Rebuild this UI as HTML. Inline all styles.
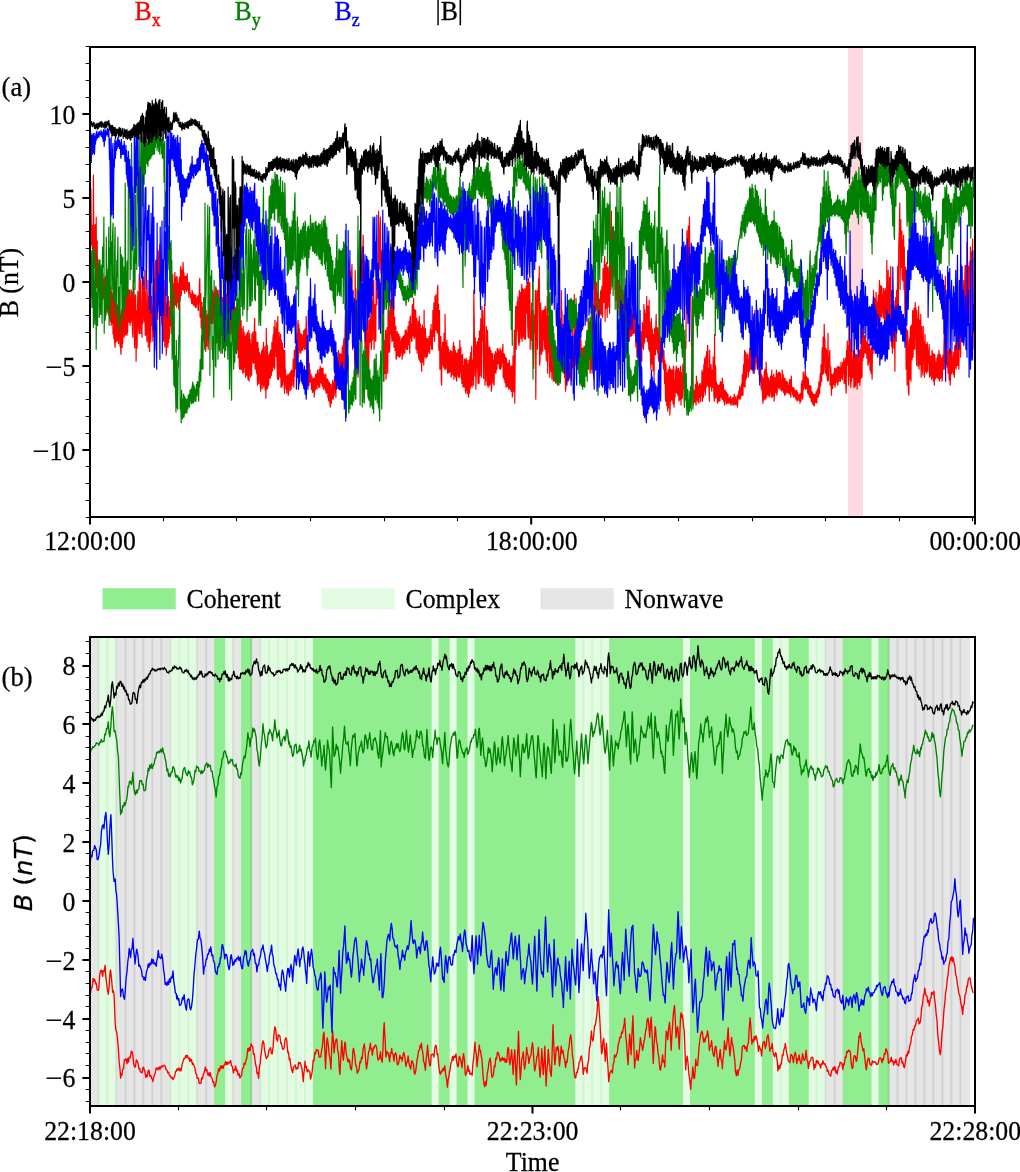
<!DOCTYPE html>
<html><head><meta charset="utf-8"><title>Magnetic field</title>
<style>html,body{margin:0;padding:0;background:#fff}svg{display:block}text{font-family:'Liberation Serif','DejaVu Serif',serif;font-size:25.8px;fill:#000;stroke:#000;stroke-width:0.25px}</style></head><body>
<svg width="1020" height="1172" viewBox="0 0 1020 1172">
<rect width="1020" height="1172" fill="#fff"/>
<defs>
<clipPath id="c1"><rect x="90.0" y="47.0" width="885.0" height="470.0"/></clipPath>
<clipPath id="c2"><rect x="90.0" y="637.0" width="885.0" height="469.0"/></clipPath>
</defs>
<g clip-path="url(#c1)">
<rect x="848" y="47.0" width="15" height="470.0" fill="#ffc0cb" fill-opacity="0.6"/>
<path d="M90.6,216.1 90.9,189.0 91.3,223.1 91.6,244.7 92.0,225.3 92.3,248.4 92.7,235.0 93.0,279.4 93.4,175.2 93.7,224.0 94.1,243.2 94.4,267.7 94.8,236.4 95.1,224.5 95.5,255.8 95.8,289.4 96.2,217.2 96.5,262.1 96.9,287.4 97.2,240.9 97.6,284.8 97.9,259.1 98.3,291.9 98.6,264.0 99.0,264.4 99.3,293.4 99.7,292.4 100.0,279.9 100.4,293.5 100.7,274.6 101.1,296.4 101.4,277.5 101.8,298.2 102.1,275.9 102.5,300.0 102.8,273.2 103.2,298.6 103.5,281.2 103.9,292.0 104.2,278.6 104.6,307.1 104.9,309.3 105.3,276.4 105.6,278.8 106.0,301.0 106.3,282.2 106.7,312.2 107.0,285.3 107.4,306.8 107.7,287.5 108.1,313.5 108.4,282.7 108.8,315.4 109.1,290.7 109.5,316.2 109.8,291.6 110.2,321.6 110.5,289.1 110.9,286.4 111.2,325.3 111.6,319.5 111.9,291.7 112.3,323.4 112.6,296.2 113.0,333.8 113.3,293.0 113.7,334.2 114.0,339.0 114.4,300.8 114.7,343.8 115.1,347.3 115.4,296.4 115.8,306.8 116.1,342.2 116.5,304.3 116.8,340.2 117.2,304.8 117.5,337.5 117.9,341.3 118.2,306.3 118.6,343.4 118.9,308.2 119.3,336.9 119.6,312.7 120.0,345.9 120.3,314.3 120.7,349.8 121.0,354.3 121.4,310.3 121.7,316.6 122.1,347.4 122.4,309.0 122.8,343.4 123.1,310.4 123.5,302.6 123.8,300.4 124.2,337.3 124.5,313.4 124.9,335.2 125.2,296.3 125.6,334.6 125.9,308.1 126.3,294.2 126.6,333.7 127.0,335.3 127.3,282.4 127.7,332.3 128.0,294.9 128.4,320.4 128.7,289.5 129.1,322.3 129.4,293.4 129.8,290.4 130.1,325.3 130.5,298.4 130.8,322.5 131.2,289.8 131.5,319.8 131.9,292.1 132.2,320.9 132.6,334.3 132.9,337.3 133.3,280.4 133.6,293.7 134.0,287.8 134.3,330.5 134.7,347.8 135.0,303.8 135.4,294.9 135.7,296.4 136.1,361.2 136.4,325.5 136.8,310.6 137.1,347.9 137.5,314.0 137.8,291.4 138.2,321.1 138.5,325.0 138.9,333.3 139.2,274.4 139.6,325.6 139.9,333.7 140.3,280.2 140.6,280.4 141.0,310.8 141.3,333.3 141.7,309.4 142.0,337.3 142.4,276.4 142.7,323.3 143.1,281.2 143.4,276.9 143.8,311.4 144.1,321.8 144.5,294.9 144.8,270.4 145.2,335.3 145.5,335.4 145.9,315.4 146.2,290.7 146.6,327.3 146.9,341.6 147.3,320.9 147.6,300.5 148.0,280.4 148.3,347.3 148.7,312.3 149.0,296.7 149.4,325.3 149.7,351.3 150.1,290.4 150.4,293.3 150.8,341.9 151.1,318.3 151.5,296.3 151.8,325.3 152.2,305.6 152.5,325.7 152.9,341.3 153.2,286.4 153.6,336.8 153.9,287.8 154.3,279.3 154.6,320.0 155.0,290.6 155.3,265.5 155.7,260.4 156.0,329.3 156.4,284.0 156.7,259.6 157.1,288.9 157.4,307.6 157.8,319.3 158.1,250.5 158.5,267.6 158.8,305.7 159.2,278.3 159.5,251.5 159.9,244.1 160.2,313.3 160.6,272.4 160.9,264.1 161.3,313.8 161.6,316.4 162.0,325.3 162.3,260.4 162.7,299.1 163.0,323.0 163.4,336.2 163.7,341.3 164.1,280.4 164.4,312.6 164.8,347.0 165.1,317.2 165.5,291.4 165.8,284.4 166.2,355.2 166.5,347.8 166.9,321.8 167.2,302.9 167.6,339.5 167.9,347.3 168.3,296.4 168.6,342.5 169.0,301.3 169.3,338.4 169.7,307.1 170.0,326.0 170.4,308.7 170.7,306.3 171.1,333.3 171.4,324.8 171.8,293.9 172.1,310.2 172.5,283.8 172.8,274.4 173.2,309.3 173.5,305.9 173.9,284.2 174.2,304.4 174.6,280.0 174.9,272.4 175.3,305.3 175.6,300.4 176.0,277.2 176.3,298.8 176.7,307.3 177.0,276.4 177.4,285.8 177.7,302.3 178.1,283.7 178.4,304.4 178.8,309.3 179.1,280.4 179.5,277.0 179.8,301.3 180.2,299.6 180.5,268.5 180.9,266.4 181.2,295.4 181.6,291.1 181.9,270.2 182.3,288.1 182.6,289.4 183.0,262.4 183.3,268.1 183.7,290.4 184.0,272.9 184.4,286.7 184.7,293.4 185.1,276.4 185.4,283.2 185.8,289.5 186.1,276.0 186.5,290.8 186.8,291.4 187.2,273.4 187.5,282.6 187.9,289.6 188.2,282.6 188.6,290.1 188.9,297.4 189.3,282.4 189.6,288.2 190.0,293.4 190.3,292.8 190.7,298.0 191.0,294.4 191.4,301.0 191.7,303.4 192.1,290.4 192.4,292.7 192.8,303.8 193.1,293.0 193.5,305.2 193.8,295.3 194.2,304.9 194.5,296.9 194.9,294.4 195.2,307.3 195.6,307.5 195.9,295.4 196.3,307.2 196.6,298.6 197.0,303.8 197.3,297.9 197.7,296.4 198.0,309.3 198.4,310.7 198.7,295.3 199.1,303.0 199.4,282.5 199.8,278.4 200.1,317.3 200.5,317.2 200.8,293.6 201.2,328.0 201.5,309.2 201.9,302.4 202.2,333.3 202.6,334.6 202.9,307.5 203.3,338.3 203.6,341.3 204.0,306.3 204.3,314.7 204.7,337.4 205.0,310.8 205.4,346.3 205.7,351.3 206.1,310.3 206.4,321.6 206.8,346.3 207.1,316.8 207.5,315.6 207.8,314.3 208.2,349.3 208.5,337.3 208.9,311.1 209.2,336.3 209.6,333.3 209.9,300.4 210.3,301.5 210.6,322.3 211.0,298.6 211.3,323.3 211.7,295.1 212.0,323.5 212.4,296.9 212.7,290.4 213.1,323.3 213.4,292.8 213.8,318.2 214.1,294.9 214.5,318.9 214.8,291.7 215.2,317.5 215.5,288.7 215.9,286.4 216.2,319.3 216.6,289.1 216.9,317.9 217.3,293.2 217.6,320.4 218.0,294.1 218.3,313.2 218.7,325.3 219.0,290.4 219.4,299.2 219.7,326.1 220.1,305.1 220.4,333.1 220.8,303.0 221.1,335.3 221.5,325.8 221.8,306.3 222.2,353.3 222.5,297.4 222.9,318.7 223.2,348.5 223.6,308.7 223.9,281.5 224.3,276.4 224.6,270.4 225.0,349.3 225.3,341.9 225.7,344.9 226.0,325.1 226.4,324.2 226.7,294.4 227.1,334.0 227.4,288.7 227.8,280.4 228.1,341.3 228.5,319.8 228.8,288.5 229.2,288.2 229.5,329.9 229.9,334.7 230.2,291.3 230.6,290.4 230.9,333.3 231.3,293.6 231.6,327.9 232.0,296.2 232.3,336.7 232.7,297.7 233.0,325.5 233.4,333.8 233.7,341.3 234.1,296.4 234.4,303.8 234.8,330.2 235.1,307.1 235.5,346.9 235.8,308.1 236.2,335.3 236.5,353.3 236.9,306.3 237.2,311.0 237.6,349.8 237.9,311.0 238.3,357.8 238.6,315.2 239.0,346.8 239.3,365.4 239.7,369.2 240.0,314.3 240.4,369.0 240.7,339.9 241.1,320.7 241.4,369.5 241.8,328.4 242.1,359.3 242.5,365.3 242.8,373.2 243.2,326.3 243.5,349.2 243.9,372.5 244.2,332.0 244.6,367.5 244.9,336.6 245.3,366.3 245.6,377.2 246.0,334.3 246.3,336.0 246.7,375.1 247.0,337.8 247.4,332.4 247.7,375.8 248.1,379.6 248.4,353.6 248.8,330.3 249.1,381.2 249.5,333.6 249.8,369.8 250.2,339.4 250.5,376.8 250.9,344.1 251.2,372.4 251.6,375.2 251.9,334.3 252.3,333.8 252.6,362.1 253.0,331.8 253.3,363.4 253.7,339.4 254.0,362.6 254.4,324.7 254.7,318.3 255.1,369.2 255.4,335.5 255.8,332.0 256.1,361.5 256.5,373.2 256.8,342.2 257.2,369.6 257.5,385.2 257.9,342.3 258.2,382.0 258.6,348.7 258.9,383.8 259.3,352.4 259.6,378.8 260.0,355.2 260.3,385.0 260.7,391.2 261.0,354.3 261.4,385.4 261.7,350.8 262.1,388.7 262.4,349.0 262.8,384.8 263.1,353.5 263.5,342.3 263.8,387.2 264.2,371.2 264.5,384.7 264.9,346.7 265.2,390.3 265.6,367.8 265.9,398.2 266.3,328.3 266.6,389.3 267.0,359.3 267.3,345.2 267.7,388.3 268.0,356.0 268.4,377.6 268.7,385.2 269.1,354.3 269.4,353.8 269.8,378.2 270.1,351.6 270.5,377.8 270.8,349.8 271.2,367.8 271.5,375.2 271.9,342.3 272.2,350.3 272.6,370.9 272.9,338.9 273.3,334.5 273.6,367.1 274.0,326.8 274.3,353.1 274.7,369.2 275.0,320.3 275.4,349.0 275.7,329.0 276.1,356.6 276.4,337.7 276.8,322.1 277.1,366.6 277.5,379.2 277.8,316.3 278.2,372.0 278.5,379.5 278.9,358.5 279.2,332.3 279.6,365.7 279.9,377.2 280.3,344.8 280.6,334.3 281.0,387.2 281.3,339.9 281.7,379.7 282.0,386.8 282.4,342.9 282.7,384.9 283.1,347.5 283.4,381.5 283.8,350.4 284.1,376.6 284.5,393.2 284.8,350.3 285.2,382.3 285.5,369.6 285.9,388.4 286.2,375.4 286.6,389.3 286.9,393.2 287.3,376.2 287.6,376.6 288.0,374.2 288.3,395.2 288.7,389.8 289.0,375.0 289.4,383.4 289.7,373.6 290.1,390.8 290.4,371.8 290.8,388.1 291.1,389.2 291.5,370.2 291.8,374.2 292.2,385.7 292.5,370.1 292.9,380.4 293.2,359.1 293.6,383.7 293.9,387.2 294.3,350.3 294.6,376.2 295.0,350.2 295.3,369.0 295.7,348.1 296.0,346.3 296.4,369.2 296.7,357.9 297.1,333.5 297.4,357.2 297.8,323.5 298.1,320.3 298.5,357.2 298.8,324.8 299.2,353.0 299.5,329.0 299.9,350.7 300.2,333.0 300.6,350.6 300.9,353.3 301.3,334.3 301.6,334.4 302.0,350.5 302.3,337.7 302.7,349.9 303.0,335.1 303.4,347.7 303.7,331.3 304.1,330.3 304.4,349.3 304.8,346.0 305.1,328.9 305.5,348.7 305.8,349.3 306.2,316.3 306.5,329.3 306.9,364.8 307.2,343.8 307.6,378.1 307.9,385.2 308.3,350.3 308.6,358.6 309.0,385.7 309.3,363.6 309.7,381.8 310.0,369.6 310.4,382.2 310.7,375.4 311.1,374.2 311.4,389.2 311.8,389.6 312.1,376.9 312.5,392.3 312.8,379.1 313.2,392.0 313.5,379.2 313.9,378.2 314.2,397.2 314.6,390.4 314.9,377.7 315.3,389.7 315.6,374.7 316.0,387.5 316.3,374.0 316.7,388.6 317.0,389.2 317.4,370.2 317.7,372.1 318.1,384.5 318.4,375.5 318.8,387.4 319.1,369.5 319.5,385.5 319.8,387.2 320.2,366.2 320.5,371.3 320.9,382.3 321.2,368.4 321.6,384.1 321.9,368.2 322.3,386.2 322.6,372.6 323.0,368.2 323.3,389.2 323.7,385.8 324.0,374.0 324.4,387.7 324.7,378.3 325.1,390.3 325.4,374.9 325.8,374.2 326.1,393.2 326.5,392.6 326.8,378.9 327.2,393.0 327.5,379.0 327.9,397.3 328.2,380.7 328.6,399.8 328.9,401.2 329.3,382.2 329.6,385.4 330.0,403.9 330.3,407.1 330.7,384.2 331.0,385.2 331.4,403.4 331.7,389.4 332.1,398.8 332.4,383.8 332.8,380.2 333.1,399.2 333.5,396.3 333.8,382.3 334.2,395.6 334.5,376.3 334.9,390.0 335.2,376.7 335.6,392.2 335.9,397.2 336.3,370.2 336.6,372.1 337.0,381.4 337.3,357.0 337.7,372.6 338.0,373.2 338.4,350.3 338.7,352.9 339.1,368.8 339.4,353.9 339.8,375.4 340.1,353.9 340.5,375.3 340.8,377.2 341.2,354.3 341.5,355.4 341.9,375.1 342.2,347.6 342.6,370.6 342.9,345.6 343.3,373.9 343.6,342.8 344.0,338.3 344.3,375.2 344.7,353.8 345.0,328.9 345.4,314.1 345.7,300.4 346.1,369.2 346.4,359.5 346.8,328.8 347.1,347.2 347.5,346.4 347.8,311.2 348.2,332.4 348.5,287.6 348.9,260.4 349.2,329.3 349.6,315.8 349.9,271.5 350.3,271.3 350.6,315.0 351.0,288.6 351.3,307.8 351.7,269.6 352.0,264.4 352.4,309.3 352.7,319.3 353.1,329.4 353.4,316.5 353.8,347.1 354.1,330.7 354.5,350.1 354.8,369.2 355.2,270.4 355.5,314.1 355.9,288.5 356.2,318.9 356.6,351.6 356.9,364.1 357.3,328.7 357.6,344.2 358.0,377.2 358.3,290.4 358.7,285.1 359.0,311.4 359.4,336.1 359.7,287.7 360.1,323.5 360.4,264.6 360.8,303.7 361.1,259.7 361.5,289.8 361.8,289.4 362.2,247.1 362.5,281.4 362.9,252.4 363.2,235.1 363.6,279.4 363.9,260.3 364.3,262.5 364.6,313.8 365.0,349.3 365.3,270.4 365.7,357.7 366.0,323.2 366.4,352.1 366.7,364.9 367.1,349.7 367.4,318.5 367.8,320.3 368.1,395.2 368.5,337.3 368.8,368.0 369.2,319.6 369.5,342.5 369.9,319.0 370.2,342.0 370.6,326.5 370.9,310.3 371.3,349.3 371.6,344.7 372.0,307.1 372.3,300.4 372.7,340.1 373.0,298.3 373.4,289.8 373.7,280.4 374.1,349.3 374.4,334.6 374.8,304.4 375.1,330.0 375.5,339.3 375.8,341.3 376.2,270.4 376.5,298.4 376.9,304.7 377.2,265.8 377.6,282.1 377.9,273.6 378.3,273.4 378.6,211.2 379.0,265.4 379.3,269.7 379.7,244.0 380.0,229.3 380.4,217.2 380.7,269.4 381.1,273.6 381.4,263.2 381.8,250.5 382.1,329.3 382.5,322.0 382.8,298.5 383.2,358.4 383.5,370.6 383.9,381.2 384.2,340.3 384.6,345.1 384.9,373.5 385.3,338.1 385.6,330.3 386.0,379.2 386.3,372.0 386.7,340.6 387.0,327.6 387.4,344.8 387.7,373.2 388.1,310.3 388.4,321.5 388.8,310.5 389.1,352.5 389.5,351.8 389.8,349.3 390.2,300.4 390.5,307.5 390.9,334.2 391.2,299.6 391.6,335.0 391.9,341.3 392.3,288.4 392.6,334.6 393.0,340.9 393.3,312.2 393.7,296.4 394.0,347.3 394.4,339.2 394.7,317.4 395.1,350.4 395.4,330.6 395.8,326.3 396.1,359.2 396.5,358.4 396.8,332.7 397.2,331.6 397.5,355.3 397.9,333.5 398.2,356.2 398.6,343.6 398.9,334.3 399.3,357.2 399.6,352.0 400.0,336.8 400.3,356.1 400.7,341.5 401.0,352.7 401.4,342.4 401.7,338.3 402.1,359.2 402.4,354.9 402.8,336.8 403.1,355.3 403.5,336.6 403.8,352.7 404.2,335.0 404.5,351.1 404.9,353.3 405.2,330.3 405.6,335.4 405.9,348.1 406.3,329.9 406.6,349.4 407.0,332.9 407.3,344.8 407.7,349.3 408.0,326.3 408.4,335.8 408.7,344.6 409.1,321.5 409.4,340.0 409.8,353.3 410.1,318.3 410.5,316.2 410.8,337.9 411.2,324.6 411.5,341.1 411.9,341.3 412.2,306.3 412.6,304.5 412.9,336.0 413.3,311.7 413.6,298.4 414.0,337.3 414.3,338.7 414.7,309.7 415.0,336.6 415.4,324.5 415.7,310.3 416.1,349.3 416.4,341.7 416.8,318.0 417.1,353.2 417.5,332.4 417.8,347.5 418.2,321.7 418.5,353.4 418.9,359.2 419.2,316.3 419.6,327.5 419.9,360.8 420.3,323.9 420.6,362.2 421.0,328.4 421.3,360.4 421.7,371.2 422.0,330.3 422.4,325.0 422.7,362.2 423.1,327.8 423.4,346.1 423.8,365.2 424.1,310.3 424.5,356.7 424.8,329.9 425.2,355.5 425.5,328.6 425.9,358.2 426.2,339.8 426.6,338.3 426.9,357.2 427.3,355.7 427.6,338.6 428.0,353.2 428.3,342.0 428.7,351.5 429.0,336.4 429.4,348.7 429.7,353.3 430.1,334.3 430.4,329.5 430.8,344.8 431.1,324.3 431.5,349.2 431.8,331.4 432.2,338.1 432.5,349.3 432.9,310.3 433.2,317.9 433.6,336.3 433.9,302.9 434.3,331.5 434.6,341.3 435.0,296.4 435.3,330.2 435.7,301.0 436.0,294.7 436.4,330.2 436.7,305.6 437.1,332.8 437.4,289.6 437.8,285.4 438.1,333.3 438.5,304.2 438.8,350.2 439.2,310.5 439.5,310.3 439.9,369.2 440.2,340.1 440.6,368.5 440.9,336.4 441.3,381.5 441.6,385.2 442.0,350.3 442.3,347.4 442.7,342.0 443.0,364.8 443.4,343.2 443.7,367.2 444.1,333.2 444.4,359.3 444.8,369.2 445.1,314.3 445.5,362.1 445.8,369.2 446.2,342.8 446.5,367.2 446.9,340.2 447.2,367.5 447.6,373.2 447.9,346.3 448.3,348.6 448.6,372.7 449.0,349.8 449.3,372.5 449.7,352.7 450.0,371.3 450.4,356.9 450.7,350.3 451.1,377.2 451.4,374.3 451.8,351.4 452.1,372.9 452.5,354.9 452.8,375.0 453.2,345.9 453.5,342.3 453.9,379.2 454.2,373.5 454.6,346.4 454.9,375.9 455.3,350.5 455.6,376.7 456.0,353.1 456.3,379.6 456.7,381.2 457.0,354.3 457.4,352.8 457.7,374.8 458.1,349.4 458.4,376.9 458.8,349.6 459.1,367.0 459.5,377.2 459.8,340.3 460.2,355.1 460.5,372.5 460.9,347.5 461.2,378.3 461.6,356.2 461.9,383.5 462.3,356.0 462.6,354.3 463.0,387.2 463.3,383.8 463.7,365.5 464.0,386.5 464.4,359.0 464.7,387.2 465.1,359.8 465.4,391.3 465.8,393.2 466.1,358.2 466.5,367.6 466.8,390.5 467.2,360.4 467.5,393.5 467.9,364.3 468.2,392.7 468.6,397.2 468.9,360.2 469.3,363.5 469.6,393.1 470.0,356.6 470.3,388.1 470.7,352.5 471.0,385.6 471.4,355.3 471.7,346.3 472.1,387.2 472.4,359.8 472.8,379.6 473.1,360.2 473.5,385.2 473.8,290.4 474.2,317.3 474.5,352.0 474.9,376.0 475.2,337.8 475.6,342.3 475.9,389.2 476.3,369.1 476.6,345.1 477.0,368.0 477.3,341.6 477.7,368.2 478.0,383.8 478.4,338.8 478.7,338.3 479.1,383.2 479.4,330.8 479.8,357.2 480.1,375.6 480.5,335.9 480.8,318.6 481.2,347.8 481.5,377.2 481.9,306.3 482.2,320.5 482.6,340.1 482.9,310.6 483.3,349.7 483.6,378.5 484.0,342.9 484.3,325.1 484.7,304.4 485.0,385.2 485.4,365.4 485.7,381.1 486.1,347.2 486.4,326.7 486.8,358.4 487.1,385.2 487.5,330.3 487.8,342.3 488.2,387.2 488.5,349.3 488.9,384.7 489.2,346.8 489.6,385.6 489.9,347.6 490.3,383.9 490.6,353.0 491.0,350.3 491.3,391.2 491.7,387.7 492.0,353.5 492.4,378.6 492.7,353.6 493.1,382.8 493.4,360.4 493.8,384.3 494.1,385.2 494.5,354.3 494.8,358.5 495.2,372.4 495.5,351.7 495.9,373.6 496.2,352.8 496.6,369.8 496.9,369.2 497.3,348.3 497.6,350.3 498.0,363.6 498.3,349.3 498.7,364.1 499.0,352.7 499.4,368.7 499.7,351.3 500.1,348.3 500.4,369.2 500.8,368.9 501.1,350.4 501.5,367.1 501.8,356.6 502.2,362.6 502.5,349.3 502.9,344.3 503.2,377.2 503.6,377.6 503.9,353.7 504.3,379.6 504.6,354.5 505.0,382.7 505.3,357.0 505.7,374.9 506.0,387.2 506.4,358.2 506.7,362.1 507.1,386.6 507.4,364.6 507.8,386.2 508.1,363.2 508.5,386.9 508.8,389.2 509.2,360.2 509.5,364.2 509.9,388.2 510.2,368.5 510.6,389.8 510.9,365.9 511.3,391.4 511.6,368.3 512.0,366.2 512.3,397.2 512.7,395.0 513.0,355.8 513.4,390.6 513.7,391.2 514.1,345.4 514.4,330.3 514.8,403.2 515.1,368.6 515.5,313.5 515.8,306.3 516.2,349.3 516.5,306.3 516.9,331.0 517.2,301.9 517.6,325.8 517.9,296.8 518.3,336.3 518.6,343.2 519.0,345.3 519.3,290.4 519.7,342.1 520.0,293.3 520.4,292.5 520.7,318.5 521.1,338.3 521.4,297.3 521.8,284.4 522.1,341.3 522.5,288.4 522.8,337.1 523.2,290.3 523.5,289.6 523.9,330.4 524.2,338.7 524.6,302.7 524.9,288.4 525.3,339.3 525.6,337.3 526.0,296.0 526.3,285.7 526.7,313.1 527.0,291.0 527.4,282.9 527.7,325.1 528.1,337.3 528.4,278.4 528.8,337.9 529.1,300.1 529.5,284.0 529.8,282.4 530.2,349.3 530.5,323.1 530.9,340.0 531.2,320.3 531.6,303.0 531.9,335.9 532.3,349.8 532.6,315.5 533.0,310.3 533.3,357.2 533.7,368.4 534.0,344.6 534.4,315.0 534.7,332.6 535.1,310.8 535.4,290.4 535.8,399.2 536.1,357.2 536.5,311.6 536.8,290.9 537.2,290.4 537.5,349.3 537.9,314.6 538.2,298.8 538.6,278.7 538.9,294.6 539.3,266.4 539.6,365.2 540.0,360.7 540.3,317.1 540.7,302.8 541.0,345.9 541.4,354.5 541.7,353.3 542.1,310.3 542.4,311.6 542.8,351.1 543.1,325.6 543.5,310.6 543.8,339.7 544.2,309.4 544.5,346.2 544.9,349.3 545.2,306.3 545.6,308.4 545.9,348.2 546.3,360.8 546.6,331.1 547.0,313.1 547.3,296.4 547.7,373.2 548.0,340.3 548.4,315.6 548.7,352.1 549.1,321.4 549.4,359.8 549.8,377.2 550.1,330.3 550.5,336.0 550.8,367.9 551.2,371.7 551.5,347.6 551.9,379.1 552.2,352.6 552.6,350.0 552.9,350.3 553.3,381.2 553.6,378.3 554.0,351.1 554.3,379.8 554.7,354.1 555.0,351.1 555.4,374.7 555.7,383.2 556.1,346.3 556.4,351.3 556.8,347.8 557.1,383.0 557.5,354.5 557.8,381.3 558.2,358.9 558.5,383.0 558.9,385.2 559.2,350.3 559.6,363.1 559.9,318.7 560.3,337.0 560.6,336.5 561.0,333.3 561.3,290.4 561.7,310.4 562.0,312.6 562.4,356.0 562.7,324.6 563.1,330.3 563.4,369.2 563.8,372.7 564.1,345.9 564.5,377.3 564.8,357.7 565.2,360.2 565.5,391.2 565.9,386.9 566.2,361.3 566.6,383.2 566.9,363.6 567.3,379.4 567.6,360.7 568.0,358.2 568.3,381.2 568.7,379.7 569.0,361.9 569.4,378.9 569.7,367.2 570.1,377.5 570.4,360.2 570.8,354.3 571.1,381.2 571.5,372.5 571.8,340.4 572.2,367.7 572.5,328.9 572.9,364.2 573.2,366.5 573.6,345.7 573.9,369.2 574.3,294.4 574.6,354.3 575.0,363.8 575.3,318.4 575.7,321.8 576.0,366.2 576.4,344.7 576.7,330.3 577.1,369.2 577.4,362.8 577.8,332.2 578.1,325.2 578.5,355.7 578.8,357.2 579.2,310.3 579.5,325.3 579.9,359.4 580.2,330.5 580.6,363.4 580.9,339.4 581.3,363.2 581.6,369.2 582.0,348.3 582.3,349.7 582.7,363.2 583.0,348.1 583.4,360.7 583.7,361.2 584.1,346.3 584.4,348.2 584.8,362.5 585.1,350.4 585.5,363.3 585.8,365.2 586.2,348.3 586.5,339.7 586.9,358.6 587.2,333.2 587.6,352.8 587.9,357.2 588.3,318.3 588.6,332.0 589.0,358.8 589.3,337.9 589.7,342.3 590.0,373.2 590.4,369.7 590.7,350.2 591.1,368.6 591.4,354.1 591.8,354.3 592.1,373.2 592.5,355.3 592.8,328.1 593.2,339.4 593.5,305.3 593.9,326.9 594.2,317.3 594.6,276.4 594.9,277.9 595.3,311.2 595.6,284.8 596.0,310.0 596.3,286.5 596.7,282.4 597.0,313.3 597.4,302.3 597.7,292.3 598.1,308.5 598.4,297.6 598.8,298.4 599.1,317.3 599.5,314.2 599.8,299.5 600.2,313.9 600.5,293.2 600.9,290.4 601.2,315.3 601.6,308.0 601.9,286.3 602.3,307.3 602.6,317.3 603.0,268.4 603.3,271.4 603.7,302.5 604.0,283.5 604.4,260.5 604.7,256.4 605.1,321.3 605.4,264.7 605.8,303.6 606.1,308.2 606.5,271.5 606.8,262.4 607.2,317.3 607.5,267.4 607.9,292.3 608.2,307.1 608.6,281.9 608.9,266.9 609.3,266.4 609.6,313.3 610.0,270.4 610.3,293.7 610.7,260.6 611.0,289.4 611.4,211.2 611.7,255.0 612.1,272.1 612.4,237.7 612.8,227.1 613.1,269.4 613.5,269.3 613.8,276.7 614.2,234.8 614.5,231.9 614.9,231.1 615.2,289.4 615.6,283.7 615.9,300.4 616.3,266.4 616.6,270.4 617.0,309.3 617.3,300.8 617.7,291.8 618.0,308.4 618.4,280.0 618.7,280.4 619.1,315.3 619.4,311.4 619.8,285.3 620.1,313.8 620.5,286.1 620.8,286.4 621.2,321.3 621.5,316.8 621.9,290.7 622.2,316.5 622.6,319.3 622.9,290.4 623.3,299.7 623.6,324.5 624.0,295.2 624.3,320.4 624.7,341.3 625.0,292.4 625.4,342.4 625.7,301.6 626.1,340.7 626.4,309.2 626.8,346.1 627.1,349.3 627.5,310.3 627.8,322.0 628.2,340.0 628.5,323.1 628.9,340.3 629.2,341.3 629.6,320.3 629.9,320.1 630.3,336.2 630.6,314.7 631.0,336.3 631.3,315.7 631.7,308.3 632.0,335.3 632.4,331.7 632.7,314.1 633.1,333.1 633.4,314.4 633.8,327.5 634.1,333.3 634.5,316.3 634.8,324.7 635.2,333.5 635.5,328.9 635.9,346.8 636.2,331.8 636.6,334.3 636.9,357.2 637.3,356.6 637.6,339.6 638.0,354.7 638.3,341.0 638.7,361.5 639.0,342.0 639.4,360.0 639.7,365.2 640.1,342.3 640.4,339.5 640.8,359.1 641.1,331.9 641.5,351.5 641.8,361.2 642.2,322.3 642.5,323.8 642.9,346.6 643.2,345.5 643.6,349.3 643.9,304.4 644.3,320.2 644.6,342.8 645.0,309.9 645.3,337.3 645.7,313.6 646.0,330.2 646.4,337.3 646.7,296.4 647.1,314.9 647.4,341.8 647.8,317.6 648.1,306.2 648.5,338.6 648.8,349.3 649.2,300.4 649.5,350.9 649.9,322.2 650.2,348.6 650.6,362.8 650.9,369.2 651.3,318.3 651.6,326.7 652.0,364.0 652.3,329.1 652.7,356.8 653.0,371.0 653.4,334.4 653.7,334.3 654.1,377.2 654.4,328.9 654.8,354.5 655.1,328.1 655.5,355.0 655.8,325.8 656.2,314.3 656.5,349.3 656.9,346.1 657.2,327.7 657.6,353.0 657.9,328.0 658.3,358.4 658.6,361.2 659.0,330.3 659.3,333.9 659.7,359.9 660.0,336.6 660.4,356.3 660.7,339.0 661.1,338.3 661.4,361.2 661.8,362.0 662.1,346.5 662.5,362.0 662.8,348.1 663.2,362.6 663.5,369.2 663.9,350.3 664.2,362.2 664.6,383.4 664.9,360.9 665.3,386.7 665.6,401.2 666.0,364.2 666.3,377.6 666.7,405.3 667.0,372.8 667.4,403.7 667.7,411.1 668.1,370.2 668.4,408.1 668.8,376.0 669.1,370.3 669.5,366.2 669.8,415.1 670.2,408.0 670.5,369.0 670.9,401.5 671.2,372.5 671.6,370.2 671.9,399.2 672.3,400.1 672.6,370.1 673.0,403.7 673.3,368.4 673.7,366.2 674.0,407.1 674.4,399.7 674.7,379.5 675.1,397.0 675.4,370.4 675.8,392.5 676.1,367.4 676.5,366.2 676.8,393.2 677.2,392.4 677.5,368.8 677.9,395.6 678.2,371.1 678.6,368.2 678.9,401.2 679.3,394.4 679.6,371.4 680.0,399.7 680.3,370.1 680.7,366.2 681.0,405.1 681.4,372.5 681.7,396.5 682.1,398.7 682.4,397.2 682.8,364.2 683.1,368.7 683.5,389.0 683.8,366.2 684.2,396.8 684.5,407.1 684.9,366.2 685.2,341.4 685.6,348.8 685.9,347.6 686.3,298.2 686.6,257.4 687.0,230.5 687.3,309.3 687.7,292.2 688.0,253.6 688.4,226.1 688.7,270.2 689.1,271.4 689.4,217.2 689.8,252.8 690.1,293.7 690.5,278.0 690.8,296.4 691.2,325.3 691.5,345.9 691.9,339.6 692.2,374.9 692.6,373.5 692.9,390.2 693.3,405.1 693.6,402.7 694.0,390.1 694.3,402.6 694.7,391.5 695.0,401.5 695.4,384.5 695.7,401.5 696.1,405.1 696.4,376.2 696.8,383.9 697.1,400.0 697.5,382.2 697.8,401.3 698.2,386.0 698.5,401.4 698.9,403.2 699.2,386.2 699.6,383.9 699.9,397.5 700.3,383.6 700.6,401.6 701.0,386.2 701.3,395.3 701.7,384.1 702.0,370.2 702.4,401.2 702.7,392.7 703.1,372.2 703.4,397.5 703.8,364.8 704.1,390.9 704.5,362.2 704.8,358.2 705.2,395.2 705.5,390.9 705.9,356.0 706.2,387.8 706.6,351.6 706.9,378.9 707.3,385.2 707.6,345.3 708.0,350.9 708.3,386.8 708.7,368.4 709.0,387.0 709.4,401.2 709.7,350.3 710.1,386.8 710.4,365.1 710.8,385.7 711.1,364.5 711.5,386.9 711.8,391.2 712.2,370.2 712.5,375.2 712.9,387.4 713.2,356.9 713.6,381.2 713.9,395.3 714.3,401.2 714.6,334.3 715.0,398.5 715.3,365.3 715.7,368.2 716.0,397.4 716.4,381.5 716.7,392.8 717.1,384.2 717.4,403.2 717.8,385.4 718.1,402.0 718.5,385.5 718.8,400.7 719.2,385.0 719.5,400.2 719.9,401.2 720.2,382.2 720.6,381.6 720.9,397.2 721.3,383.2 721.6,394.5 722.0,399.2 722.3,378.2 722.7,381.8 723.0,399.3 723.4,384.7 723.7,401.5 724.1,389.8 724.4,401.8 724.8,405.1 725.1,390.2 725.5,392.5 725.8,400.9 726.2,392.2 726.5,403.8 726.9,393.1 727.2,403.1 727.6,394.8 727.9,394.2 728.3,403.2 728.6,399.6 729.0,398.1 729.3,402.1 729.7,397.6 730.0,403.6 730.4,398.0 730.7,396.2 731.1,405.1 731.4,402.4 731.8,399.3 732.1,400.7 732.5,397.9 732.8,404.6 733.2,397.6 733.5,401.8 733.9,405.1 734.2,394.2 734.6,396.5 734.9,403.9 735.3,396.8 735.6,404.7 736.0,400.5 736.3,404.4 736.7,399.2 737.0,396.2 737.4,407.1 737.7,403.5 738.1,394.3 738.4,398.9 738.8,390.8 739.1,398.9 739.5,392.0 739.8,386.2 740.2,399.2 740.5,397.4 740.9,387.6 741.2,395.5 741.6,383.6 741.9,395.7 742.3,374.4 742.6,393.7 743.0,395.2 743.3,370.2 743.7,364.4 744.0,386.4 744.4,358.3 744.7,350.3 745.1,387.2 745.4,352.1 745.8,379.8 746.1,353.3 746.5,378.0 746.8,362.0 747.2,371.1 747.5,354.9 747.9,354.3 748.2,377.2 748.6,372.0 748.9,359.0 749.3,371.4 749.6,348.7 750.0,367.8 750.3,369.2 750.7,343.3 751.0,345.5 751.4,368.9 751.7,350.9 752.1,370.2 752.4,359.6 752.8,350.3 753.1,373.2 753.5,368.9 753.8,340.5 754.2,365.5 754.5,325.5 754.9,310.3 755.2,369.2 755.6,333.1 755.9,335.1 756.3,362.7 756.6,346.8 757.0,365.8 757.3,369.2 757.7,354.3 758.0,358.2 758.4,367.6 758.7,358.0 759.1,374.4 759.4,360.9 759.8,360.2 760.1,381.2 760.5,381.8 760.8,369.3 761.2,388.4 761.5,374.9 761.9,390.4 762.2,376.2 762.6,399.8 762.9,403.2 763.3,378.2 763.6,384.1 764.0,400.1 764.3,371.3 764.7,398.6 765.0,369.2 765.4,397.5 765.7,399.2 766.1,362.2 766.4,369.5 766.8,397.2 767.1,373.2 767.5,394.4 767.8,377.4 768.2,395.3 768.5,382.4 768.9,378.2 769.2,397.2 769.6,390.8 769.9,381.2 770.3,391.9 770.6,376.0 771.0,395.7 771.3,397.2 771.7,370.2 772.0,383.6 772.4,396.9 772.7,376.5 773.1,395.4 773.4,376.6 773.8,374.2 774.1,401.2 774.5,394.8 774.8,377.5 775.2,392.2 775.5,378.7 775.9,392.9 776.2,372.9 776.6,370.2 776.9,395.2 777.3,390.6 777.6,373.6 778.0,387.1 778.3,374.7 778.7,372.2 779.0,389.2 779.4,387.8 779.7,372.3 780.1,386.8 780.4,373.6 780.8,389.7 781.1,379.7 781.5,384.9 781.8,391.2 782.2,370.2 782.5,376.9 782.9,390.1 783.2,374.7 783.6,392.4 783.9,378.3 784.3,388.2 784.6,395.2 785.0,378.2 785.3,381.1 785.7,394.2 786.0,382.5 786.4,392.3 786.7,381.1 787.1,392.2 787.4,382.4 787.8,382.2 788.1,393.2 788.5,392.4 788.8,385.5 789.2,393.1 789.5,379.8 789.9,394.4 790.2,379.7 790.6,394.6 790.9,397.2 791.3,376.2 791.6,386.4 792.0,391.2 792.3,389.0 792.7,395.0 793.0,387.3 793.4,395.9 793.7,397.2 794.1,388.2 794.4,391.3 794.8,396.5 795.1,391.3 795.5,398.0 795.8,390.6 796.2,399.7 796.5,393.4 796.9,390.2 797.2,401.2 797.6,398.1 797.9,392.9 798.3,399.0 798.6,397.0 799.0,400.4 799.3,395.0 799.7,394.2 800.0,403.2 800.4,399.2 800.7,393.0 801.1,400.8 801.4,383.8 801.8,397.1 802.1,380.7 802.5,396.8 802.8,399.2 803.2,372.2 803.5,374.9 803.9,389.2 804.2,378.8 804.6,386.8 804.9,372.7 805.3,370.2 805.6,389.2 806.0,382.2 806.3,376.4 806.7,388.6 807.0,377.5 807.4,387.2 807.7,393.2 808.1,378.2 808.4,381.2 808.8,394.7 809.1,385.8 809.5,396.6 809.8,385.3 810.2,397.8 810.5,386.8 810.9,386.2 811.2,401.2 811.6,401.4 811.9,391.5 812.3,402.9 812.6,392.9 813.0,404.5 813.3,395.9 813.7,394.2 814.0,406.1 814.4,405.3 814.7,394.3 815.1,402.3 815.4,395.1 815.8,402.3 816.1,391.8 816.5,401.7 816.8,403.2 817.2,390.2 817.5,389.6 817.9,397.4 818.2,387.3 818.6,396.3 818.9,381.8 819.3,393.8 819.6,393.2 820.0,378.2 820.3,373.5 820.7,385.8 821.0,364.8 821.4,379.8 821.7,381.2 822.1,350.3 822.4,347.4 822.8,374.3 823.1,337.2 823.5,369.2 823.8,373.2 824.2,324.3 824.5,340.2 824.9,339.1 825.2,367.7 825.6,373.2 825.9,348.3 826.3,351.4 826.6,375.2 827.0,350.4 827.3,379.2 827.7,381.2 828.0,333.3 828.4,380.4 828.7,357.6 829.1,366.8 829.4,357.0 829.8,350.3 830.1,385.2 830.5,384.9 830.8,366.9 831.2,386.8 831.5,395.2 831.9,374.2 832.2,376.4 832.6,388.5 832.9,375.2 833.3,382.0 833.6,373.7 834.0,384.7 834.3,371.6 834.7,368.2 835.0,387.2 835.4,382.7 835.7,368.7 836.1,378.7 836.4,369.5 836.8,382.7 837.1,367.0 837.5,383.1 837.8,385.2 838.2,366.2 838.5,369.9 838.9,381.6 839.2,366.8 839.6,378.4 839.9,367.5 840.3,381.2 840.6,381.2 841.0,362.2 841.3,368.2 841.7,378.0 842.0,366.6 842.4,379.6 842.7,362.6 843.1,373.6 843.4,369.6 843.8,358.2 844.1,383.2 844.5,381.4 844.8,361.2 845.2,383.9 845.5,358.2 845.9,389.1 846.2,393.2 846.6,350.3 846.9,355.7 847.3,340.9 847.6,365.2 848.0,345.5 848.3,376.7 848.7,385.2 849.0,326.3 849.4,355.2 849.7,376.5 850.1,339.2 850.4,379.3 850.8,387.2 851.1,342.3 851.5,381.1 851.8,351.2 852.2,377.2 852.5,359.1 852.9,377.7 853.2,363.1 853.6,350.3 853.9,387.2 854.3,387.2 854.6,353.2 855.0,387.0 855.3,354.4 855.7,385.5 856.0,359.1 856.4,355.7 856.7,354.3 857.1,389.2 857.4,377.6 857.8,355.7 858.1,382.6 858.5,359.6 858.8,382.0 859.2,358.6 859.5,350.3 859.9,385.2 860.2,376.3 860.6,349.2 860.9,378.5 861.3,343.4 861.6,334.3 862.0,377.2 862.3,332.8 862.7,360.8 863.0,330.6 863.4,324.3 863.7,357.2 864.1,351.7 864.4,335.6 864.8,352.6 865.1,337.0 865.5,338.3 865.8,353.3 866.2,353.6 866.5,341.7 866.9,358.4 867.2,345.2 867.6,342.3 867.9,365.2 868.3,364.1 868.6,344.2 869.0,362.0 869.3,344.6 869.7,344.3 870.0,369.2 870.4,370.8 870.7,350.0 871.1,373.4 871.4,348.0 871.8,367.8 872.1,379.2 872.5,346.3 872.8,332.0 873.2,321.3 873.5,290.4 873.9,353.3 874.2,297.7 874.6,341.6 874.9,298.8 875.3,328.6 875.6,333.3 876.0,292.4 876.3,300.9 876.7,324.7 877.0,302.0 877.4,326.0 877.7,325.3 878.1,298.4 878.4,295.2 878.8,320.0 879.1,297.3 879.5,280.4 879.8,321.3 880.2,317.6 880.5,285.5 880.9,316.2 881.2,288.4 881.6,286.4 881.9,317.3 882.3,311.5 882.6,294.2 883.0,312.1 883.3,288.3 883.7,318.1 884.0,291.4 884.4,318.0 884.7,321.3 885.1,288.4 885.4,289.9 885.8,322.7 886.1,324.9 886.5,329.3 886.8,260.4 887.2,314.9 887.5,322.2 887.9,294.5 888.2,270.4 888.6,325.3 888.9,325.6 889.3,305.9 889.6,277.1 890.0,300.0 890.3,333.3 890.7,266.4 891.0,293.3 891.4,334.2 891.7,346.6 892.1,323.1 892.4,353.3 892.8,290.4 893.1,305.6 893.5,327.1 893.8,348.1 894.2,330.4 894.5,306.3 894.9,371.2 895.2,313.3 895.6,297.5 895.9,316.3 896.3,341.3 896.6,290.4 897.0,316.1 897.3,322.8 897.7,266.3 898.0,312.7 898.4,309.3 898.7,247.1 899.1,237.1 899.4,227.0 899.8,203.2 900.1,289.4 900.5,246.0 900.8,219.5 901.2,267.5 901.5,233.2 901.9,231.1 902.2,279.4 902.6,240.2 902.9,281.0 903.3,243.5 903.6,235.1 904.0,289.4 904.3,247.0 904.7,291.0 905.0,319.6 905.4,311.2 905.7,267.1 906.1,369.2 906.4,328.6 906.8,359.0 907.1,385.2 907.5,330.3 907.8,337.1 908.2,366.7 908.5,392.7 908.9,395.2 909.2,342.3 909.6,338.6 909.9,379.1 910.3,332.9 910.6,326.3 911.0,381.2 911.3,330.3 911.7,324.9 912.0,359.9 912.4,330.3 912.7,310.3 913.1,357.2 913.4,312.2 913.8,349.0 914.1,308.2 914.5,349.1 914.8,349.3 915.2,302.4 915.5,318.1 915.9,307.6 916.2,346.3 916.6,365.2 916.9,310.3 917.3,331.0 917.6,318.6 918.0,366.2 918.3,337.0 918.7,306.3 919.0,369.2 919.4,353.2 919.7,320.2 920.1,364.3 920.4,337.5 920.8,314.3 921.1,377.2 921.5,364.4 921.8,326.5 922.2,360.0 922.5,368.7 922.9,375.2 923.2,326.3 923.6,355.2 923.9,341.6 924.3,366.7 924.6,377.2 925.0,334.3 925.3,349.3 925.7,371.3 926.0,344.6 926.4,371.3 926.7,373.2 927.1,342.3 927.4,345.3 927.8,371.2 928.1,351.6 928.5,363.4 928.8,350.0 929.2,344.3 929.5,377.2 929.9,375.9 930.2,355.8 930.6,375.2 930.9,356.3 931.3,374.5 931.6,379.2 932.0,350.3 932.3,352.9 932.7,377.6 933.0,353.5 933.4,381.0 933.7,354.2 934.1,381.8 934.4,385.2 934.8,354.3 935.1,361.8 935.5,379.0 935.8,362.0 936.2,377.2 936.5,377.2 936.9,358.2 937.2,357.7 937.6,377.7 937.9,354.7 938.3,378.6 938.6,359.8 939.0,350.3 939.3,381.2 939.7,378.0 940.0,354.2 940.4,378.5 940.7,356.2 941.1,377.9 941.4,360.6 941.8,358.2 942.1,381.2 942.5,374.1 942.8,355.2 943.2,367.4 943.5,369.2 943.9,350.3 944.2,333.0 944.6,345.4 944.9,369.2 945.3,276.4 945.6,315.7 946.0,312.6 946.3,352.0 946.7,332.6 947.0,367.1 947.4,354.9 947.7,350.3 948.1,373.2 948.4,373.3 948.8,350.4 949.1,379.9 949.5,350.3 949.8,348.3 950.2,385.2 950.5,378.2 950.9,350.6 951.2,373.9 951.6,373.2 951.9,350.3 952.3,357.1 952.6,371.6 953.0,357.9 953.3,374.2 953.7,352.4 954.0,373.5 954.4,377.2 954.7,346.3 955.1,345.2 955.4,367.3 955.8,366.2 956.1,369.2 956.5,326.3 956.8,336.0 957.2,365.6 957.5,338.9 957.9,365.5 958.2,344.2 958.6,342.3 958.9,369.2 959.3,344.7 959.6,305.6 960.0,309.7 960.3,335.6 960.7,357.2 961.0,264.4 961.4,296.7 961.7,334.7 962.1,338.8 962.4,314.3 962.8,290.4 963.1,341.3 963.5,291.7 963.8,280.6 964.2,315.6 964.5,321.3 964.9,270.4 965.2,265.5 965.6,295.9 965.9,265.3 966.3,287.1 966.6,309.3 967.0,242.5 967.3,293.2 967.7,262.0 968.0,313.0 968.4,275.2 968.7,266.4 969.1,321.3 969.4,278.2 969.8,261.5 970.1,279.3 970.5,247.1 970.8,329.3 971.2,279.6 971.5,255.6 971.9,251.4 972.2,263.3 972.6,239.1 972.9,349.3 973.3,323.0 973.6,332.8 974.0,303.6" fill="none" stroke="#ff0000" stroke-width="1.2" stroke-linejoin="round"/>
<path d="M90.6,298.2 90.9,280.5 91.3,250.8 91.6,281.4 92.0,307.5 92.3,274.8 92.7,263.5 93.0,247.1 93.4,327.3 93.7,249.5 94.1,267.7 94.4,297.7 94.8,324.2 95.1,300.6 95.5,280.6 95.8,250.5 96.2,349.3 96.5,309.3 96.9,292.0 97.2,323.6 97.6,325.7 97.9,276.9 98.3,263.7 98.6,288.6 99.0,260.4 99.3,317.3 99.7,265.0 100.0,259.9 100.4,294.4 100.7,314.4 101.1,277.7 101.4,265.0 101.8,301.7 102.1,323.3 102.5,247.1 102.8,267.4 103.2,246.7 103.5,260.9 103.9,217.2 104.2,333.3 104.6,285.3 104.9,310.1 105.3,320.1 105.6,298.5 106.0,315.3 106.3,237.1 106.7,301.8 107.0,269.1 107.4,306.0 107.7,309.7 108.1,289.5 108.4,259.4 108.8,227.1 109.1,325.3 109.5,247.8 109.8,255.7 110.2,319.3 110.5,187.2 110.9,263.7 111.2,241.4 111.6,259.3 111.9,289.9 112.3,252.7 112.6,234.5 113.0,223.1 113.3,299.4 113.7,293.5 114.0,302.7 114.4,282.3 114.7,247.3 115.1,227.1 115.4,315.3 115.8,280.0 116.1,316.9 116.5,288.7 116.8,260.1 117.2,276.6 117.5,263.6 117.9,237.1 118.2,325.3 118.6,297.2 118.9,317.4 119.3,287.2 119.6,319.4 120.0,333.3 120.3,247.1 120.7,283.4 121.0,264.0 121.4,254.5 121.7,281.5 122.1,310.4 122.4,262.8 122.8,257.1 123.1,319.3 123.5,315.9 123.8,287.6 124.2,266.9 124.5,267.7 124.9,309.3 125.2,183.2 125.6,280.6 125.9,295.9 126.3,298.7 126.6,283.9 127.0,261.5 127.3,274.7 127.7,260.3 128.0,295.4 128.4,181.2 128.7,197.8 129.1,184.4 129.4,172.3 129.8,167.3 130.1,279.4 130.5,200.4 130.8,208.7 131.2,269.4 131.5,143.3 131.9,176.8 132.2,200.3 132.6,223.1 132.9,187.2 133.3,295.4 133.6,279.5 134.0,281.3 134.3,262.2 134.7,247.9 135.0,289.4 135.4,195.2 135.7,261.7 136.1,263.2 136.4,228.4 136.8,269.4 137.1,167.3 137.5,159.7 137.8,176.2 138.2,198.8 138.5,206.7 138.9,266.1 139.2,137.3 139.6,244.3 139.9,216.2 140.3,191.7 140.6,167.2 141.0,135.3 141.3,246.1 141.7,140.6 142.0,163.8 142.4,177.2 142.7,206.2 143.1,137.3 143.4,145.3 143.8,138.2 144.1,184.3 144.5,139.5 144.8,135.3 145.2,174.2 145.5,170.2 145.9,141.8 146.2,162.2 146.6,140.6 146.9,163.8 147.3,143.9 147.6,160.1 148.0,166.3 148.3,137.3 148.7,139.0 149.0,160.6 149.4,138.0 149.7,159.1 150.1,136.5 150.4,155.4 150.8,158.3 151.1,135.3 151.5,139.0 151.8,155.9 152.2,135.1 152.5,154.6 152.9,141.4 153.2,154.1 153.6,138.5 153.9,133.3 154.3,154.3 154.6,153.1 155.0,134.3 155.3,147.4 155.7,132.8 156.0,142.8 156.4,135.0 156.7,131.3 157.1,150.3 157.4,144.6 157.8,139.8 158.1,147.2 158.5,135.6 158.8,151.7 159.2,138.5 159.5,148.9 159.9,154.3 160.2,133.3 160.6,139.9 160.9,146.3 161.3,138.8 161.6,153.7 162.0,140.0 162.3,157.4 162.7,158.3 163.0,137.3 163.4,147.9 163.7,143.6 164.1,182.3 164.4,154.6 164.8,141.3 165.1,226.1 165.5,227.1 165.8,191.9 166.2,221.3 166.5,201.6 166.9,207.2 167.2,249.5 167.6,217.2 167.9,248.0 168.3,225.9 168.6,260.8 169.0,269.4 169.3,227.1 169.7,282.0 170.0,242.9 170.4,285.6 170.7,319.3 171.1,240.5 171.4,287.6 171.8,260.4 172.1,359.2 172.5,326.8 172.8,309.9 173.2,344.2 173.5,358.5 173.9,385.2 174.2,290.4 174.6,386.9 174.9,356.5 175.3,355.8 175.6,393.9 176.0,412.1 176.3,340.3 176.7,362.8 177.0,407.7 177.4,407.3 177.7,409.1 178.1,360.2 178.4,367.0 178.8,335.3 179.1,344.7 179.5,311.4 179.8,296.4 180.2,409.1 180.5,398.2 180.9,409.5 181.2,422.7 181.6,390.2 181.9,394.7 182.3,418.7 182.6,399.9 183.0,417.5 183.3,401.2 183.7,394.2 184.0,417.1 184.4,410.8 184.7,396.7 185.1,413.6 185.4,398.6 185.8,412.2 186.1,399.1 186.5,412.5 186.8,413.1 187.2,400.2 187.5,399.1 187.9,409.1 188.2,395.8 188.6,406.2 188.9,394.3 189.3,406.9 189.6,407.1 190.0,390.2 190.3,393.5 190.7,401.2 191.0,389.7 191.4,403.7 191.7,387.9 192.1,402.8 192.4,384.5 192.8,382.2 193.1,403.2 193.5,401.8 193.8,385.0 194.2,398.5 194.5,387.4 194.9,401.4 195.2,389.5 195.6,398.8 195.9,401.2 196.3,386.2 196.6,384.3 197.0,395.9 197.3,381.7 197.7,391.6 198.0,381.9 198.4,394.9 198.7,401.2 199.1,376.2 199.4,371.9 199.8,386.8 200.1,359.7 200.5,381.1 200.8,381.2 201.2,350.3 201.5,335.1 201.9,368.9 202.2,324.0 202.6,354.7 202.9,369.2 203.3,310.3 203.6,297.5 204.0,310.6 204.3,312.1 204.7,349.3 205.0,203.2 205.4,316.6 205.7,301.9 206.1,290.5 206.4,269.6 206.8,255.6 207.1,241.3 207.5,228.8 207.8,205.2 208.2,341.3 208.5,235.5 208.9,257.7 209.2,240.3 209.6,207.2 209.9,375.2 210.3,276.1 210.6,305.8 211.0,295.9 211.3,280.6 211.7,270.4 212.0,349.3 212.4,347.0 212.7,359.2 213.1,336.7 213.4,367.2 213.8,397.2 214.1,280.4 214.5,321.7 214.8,304.6 215.2,331.0 215.5,365.7 215.9,367.2 216.2,296.4 216.6,342.9 216.9,320.1 217.3,298.1 217.6,290.4 218.0,359.2 218.3,314.9 218.7,298.1 219.0,332.8 219.4,350.8 219.7,307.5 220.1,297.3 220.4,328.8 220.8,353.3 221.1,280.4 221.5,305.2 221.8,329.0 222.2,302.2 222.5,352.3 222.9,309.9 223.2,330.1 223.6,348.3 223.9,322.6 224.3,344.6 224.6,357.2 225.0,300.4 225.3,324.8 225.7,350.6 226.0,315.4 226.4,304.7 226.7,345.7 227.1,303.3 227.4,334.5 227.8,359.2 228.1,290.4 228.5,310.1 228.8,307.5 229.2,354.5 229.5,389.2 229.9,314.3 230.2,359.0 230.6,342.5 230.9,366.0 231.3,388.5 231.6,400.2 232.0,310.3 232.3,327.5 232.7,309.0 233.0,338.5 233.4,349.7 233.7,369.2 234.1,290.4 234.4,355.3 234.8,362.2 235.1,340.9 235.5,313.1 235.8,346.0 236.2,353.1 236.5,353.3 236.9,260.4 237.2,344.1 237.6,327.2 237.9,298.8 238.3,318.5 238.6,329.7 239.0,302.9 239.3,269.4 239.7,250.5 240.0,321.3 240.4,292.5 240.7,251.8 241.1,248.1 241.4,279.0 241.8,306.7 242.1,273.8 242.5,280.2 242.8,315.3 243.2,227.1 243.5,272.0 243.9,288.1 244.2,309.3 244.6,285.6 244.9,271.3 245.3,259.3 245.6,236.8 246.0,229.0 246.3,253.3 246.7,223.1 247.0,321.3 247.4,281.7 247.7,310.0 248.1,279.0 248.4,244.4 248.8,229.4 249.1,267.1 249.5,293.5 249.8,306.4 250.2,265.2 250.5,227.1 250.9,305.3 251.2,252.8 251.6,244.7 251.9,262.9 252.3,301.0 252.6,260.0 253.0,276.0 253.3,258.0 253.7,239.6 254.0,269.6 254.4,273.4 254.7,299.4 255.1,231.1 255.4,300.7 255.8,269.4 256.1,277.2 256.5,252.2 256.8,251.0 257.2,275.8 257.5,285.2 257.9,267.0 258.2,249.6 258.6,250.5 258.9,325.3 259.3,288.5 259.6,272.3 260.0,271.6 260.3,320.3 260.7,325.3 261.0,270.4 261.4,283.3 261.7,310.2 262.1,288.0 262.4,254.1 262.8,232.2 263.1,212.0 263.5,187.2 263.8,289.4 264.2,261.9 264.5,251.7 264.9,254.8 265.2,279.5 265.6,305.3 265.9,237.1 266.3,280.3 266.6,283.9 267.0,257.0 267.3,226.2 267.7,263.3 268.0,219.1 268.4,251.5 268.7,249.5 269.1,199.2 269.4,195.8 269.8,233.3 270.1,199.8 270.5,219.1 270.8,186.1 271.2,212.5 271.5,218.2 271.9,179.2 272.2,213.3 272.6,184.9 272.9,212.7 273.3,179.2 273.6,210.3 274.0,181.7 274.3,219.3 274.7,220.2 275.0,172.3 275.4,184.0 275.7,177.5 276.1,209.0 276.4,174.6 276.8,207.9 277.1,178.8 277.5,175.2 277.8,222.1 278.2,180.0 278.5,215.7 278.9,186.0 279.2,222.8 279.6,188.5 279.9,215.3 280.3,179.9 280.6,177.2 281.0,226.1 281.3,222.5 281.7,228.7 282.0,192.6 282.4,221.5 282.7,181.0 283.1,231.9 283.4,192.5 283.8,232.5 284.1,213.4 284.5,239.5 284.8,183.2 285.2,196.5 285.5,244.5 285.9,256.9 286.2,237.8 286.6,218.2 286.9,219.2 287.3,275.4 287.6,228.1 288.0,223.1 288.3,273.4 288.7,240.3 289.0,270.3 289.4,235.7 289.7,226.7 290.1,251.9 290.4,268.8 290.8,238.0 291.1,227.1 291.5,269.4 291.8,261.9 292.2,220.6 292.5,240.0 292.9,265.4 293.2,211.2 293.6,255.1 293.9,260.0 294.3,223.3 294.6,200.4 295.0,192.8 295.3,261.4 295.7,221.4 296.0,259.7 296.4,275.8 296.7,261.2 297.1,289.4 297.4,217.2 297.8,255.3 298.1,227.1 298.5,306.3 298.8,281.6 299.2,234.0 299.5,272.7 299.9,269.4 300.2,231.1 300.6,265.9 300.9,229.7 301.3,258.7 301.6,232.0 302.0,257.2 302.3,226.8 302.7,252.0 303.0,259.4 303.4,223.1 303.7,229.7 304.1,226.7 304.4,254.5 304.8,257.4 305.1,221.2 305.5,223.8 305.8,255.7 306.2,231.6 306.5,264.7 306.9,267.9 307.2,275.4 307.6,227.1 307.9,268.4 308.3,238.5 308.6,226.0 309.0,257.7 309.3,229.1 309.7,243.1 310.0,249.5 310.4,215.2 310.7,220.9 311.1,245.5 311.4,233.2 311.8,245.9 312.1,223.3 312.5,249.1 312.8,251.5 313.2,223.1 313.5,230.2 313.9,251.1 314.2,233.0 314.6,253.3 314.9,222.4 315.3,252.4 315.6,223.3 316.0,221.2 316.3,255.4 316.7,253.9 317.0,226.0 317.4,249.3 317.7,225.9 318.1,256.1 318.4,226.9 318.8,223.1 319.1,259.4 319.5,258.5 319.8,225.0 320.2,224.5 320.5,259.1 320.9,230.7 321.2,263.7 321.6,228.5 321.9,221.2 322.3,265.4 322.6,228.5 323.0,251.8 323.3,228.7 323.7,219.8 324.0,251.0 324.4,264.1 324.7,229.9 325.1,216.2 325.4,269.4 325.8,223.9 326.1,261.4 326.5,231.1 326.8,227.1 327.2,275.4 327.5,247.3 327.9,276.5 328.2,239.3 328.6,274.1 328.9,281.4 329.3,244.6 329.6,283.8 330.0,289.4 330.3,247.1 330.7,254.4 331.0,290.1 331.4,256.2 331.7,282.4 332.1,290.7 332.4,262.0 332.8,260.4 333.1,297.4 333.5,300.9 333.8,275.4 334.2,305.3 334.5,269.9 334.9,268.4 335.2,313.3 335.6,295.6 335.9,257.8 336.3,283.7 336.6,247.8 337.0,234.5 337.3,295.4 337.7,294.5 338.0,260.9 338.4,291.6 338.7,251.7 339.1,248.8 339.4,289.1 339.8,295.4 340.1,250.5 340.5,250.7 340.8,282.0 341.2,296.4 341.5,251.4 341.9,277.5 342.2,250.4 342.6,270.9 342.9,248.5 343.3,303.4 343.6,241.8 344.0,256.9 344.3,244.1 344.7,278.6 345.0,309.3 345.4,230.5 345.7,340.2 346.1,346.5 346.4,417.1 346.8,246.5 347.1,336.9 347.5,372.0 347.8,357.2 348.2,355.9 348.5,412.1 348.9,413.1 349.2,390.2 349.6,391.4 349.9,408.8 350.3,396.7 350.6,398.8 351.0,385.7 351.3,404.2 351.7,393.0 352.0,382.2 352.4,405.1 352.7,400.4 353.1,377.5 353.4,400.6 353.8,401.2 354.1,370.2 354.5,369.8 354.8,394.3 355.2,357.8 355.5,398.4 355.9,399.2 356.2,350.3 356.6,374.7 356.9,346.3 357.3,315.4 357.6,277.8 358.0,216.2 358.3,369.2 358.7,269.0 359.0,262.0 359.4,249.1 359.7,230.5 360.1,405.1 360.4,289.4 360.8,285.1 361.1,303.7 361.5,339.4 361.8,340.3 362.2,407.1 362.5,354.3 362.9,402.1 363.2,366.5 363.6,352.2 363.9,350.3 364.3,403.2 364.6,386.5 365.0,356.8 365.3,347.8 365.7,346.3 366.0,389.2 366.4,388.4 366.7,362.9 367.1,389.1 367.4,358.2 367.8,360.2 368.1,397.2 368.5,399.0 368.8,368.0 369.2,400.5 369.5,381.4 369.9,370.2 370.2,407.1 370.6,393.5 370.9,378.0 371.3,404.7 371.6,384.8 372.0,380.2 372.3,407.1 372.7,408.6 373.0,375.9 373.4,408.1 373.7,413.1 374.1,360.2 374.4,385.7 374.8,358.8 375.1,394.8 375.5,399.9 375.8,399.2 376.2,354.3 376.5,393.8 376.9,380.6 377.2,403.0 377.6,376.1 377.9,370.2 378.3,405.1 378.6,407.9 379.0,377.2 379.3,409.4 379.7,421.1 380.0,366.2 380.4,367.8 380.7,351.2 381.1,362.6 381.4,391.2 381.8,409.1 382.1,330.3 382.5,340.9 382.8,305.2 383.2,250.5 383.5,381.2 383.9,271.3 384.2,269.2 384.6,303.3 384.9,309.3 385.3,257.1 385.6,298.3 386.0,264.5 386.3,305.9 386.7,309.3 387.0,260.4 387.4,262.5 387.7,302.4 388.1,261.1 388.4,289.5 388.8,315.3 389.1,250.5 389.5,305.4 389.8,274.7 390.2,290.8 390.5,260.1 390.9,260.4 391.2,289.4 391.6,286.1 391.9,260.8 392.3,282.7 392.6,262.6 393.0,275.5 393.3,257.4 393.7,254.5 394.0,281.4 394.4,277.7 394.7,259.8 395.1,276.3 395.4,253.3 395.8,278.8 396.1,254.8 396.5,277.6 396.8,279.4 397.2,250.5 397.5,260.9 397.9,279.9 398.2,262.0 398.6,281.7 398.9,266.2 399.3,283.0 399.6,287.4 400.0,270.4 400.3,275.0 400.7,289.5 401.0,274.9 401.4,292.1 401.7,277.8 402.1,295.2 402.4,282.9 402.8,280.4 403.1,299.4 403.5,300.1 403.8,286.4 404.2,300.6 404.5,286.8 404.9,299.7 405.2,286.9 405.6,286.4 405.9,305.3 406.3,302.2 406.6,290.8 407.0,297.6 407.3,285.3 407.7,299.4 408.0,288.1 408.4,299.7 408.7,301.4 409.1,278.4 409.4,282.6 409.8,298.0 410.1,277.5 410.5,296.6 410.8,279.0 411.2,297.0 411.5,275.9 411.9,274.4 412.2,297.4 412.6,296.4 412.9,277.3 413.3,292.2 413.6,274.4 414.0,293.5 414.3,282.1 414.7,270.4 415.0,295.4 415.4,292.7 415.7,261.3 416.1,283.0 416.4,250.6 416.8,281.9 417.1,289.4 417.5,240.5 417.8,254.7 418.2,219.4 418.5,247.0 418.9,267.2 419.2,269.4 419.6,187.2 419.9,190.8 420.3,217.4 420.6,202.2 421.0,177.2 421.3,179.1 421.7,199.5 422.0,181.4 422.4,197.7 422.7,182.3 423.1,195.9 423.4,182.2 423.8,195.2 424.1,188.0 424.5,196.3 424.8,198.2 425.2,183.2 425.5,183.6 425.9,198.0 426.2,179.9 426.6,177.2 426.9,202.2 427.3,201.2 427.6,179.4 428.0,199.2 428.3,181.1 428.7,195.7 429.0,185.1 429.4,201.7 429.7,206.2 430.1,179.2 430.4,179.2 430.8,201.0 431.1,181.7 431.5,198.2 431.8,198.2 432.2,175.2 432.5,178.0 432.9,188.8 433.2,173.2 433.6,167.3 433.9,186.2 434.3,180.3 434.6,168.0 435.0,188.1 435.3,164.5 435.7,162.3 436.0,190.2 436.4,187.9 436.7,176.5 437.1,181.6 437.4,172.1 437.8,165.3 438.1,198.2 438.5,167.9 438.8,193.4 439.2,200.8 439.5,202.2 439.9,163.3 440.2,169.5 440.6,197.5 440.9,169.1 441.3,194.9 441.6,177.8 442.0,198.4 442.3,182.0 442.7,175.2 443.0,206.2 443.4,202.2 443.7,175.7 444.1,203.1 444.4,174.0 444.8,170.7 445.1,201.4 445.5,172.0 445.8,167.3 446.2,206.2 446.5,203.1 446.9,183.2 447.2,204.4 447.6,212.2 447.9,187.2 448.3,190.0 448.6,208.1 449.0,193.3 449.3,211.9 449.7,196.7 450.0,213.0 450.4,202.6 450.7,195.2 451.1,214.2 451.4,213.0 451.8,196.8 452.1,213.4 452.5,200.3 452.8,215.0 453.2,205.4 453.5,197.2 453.9,216.2 454.2,209.5 454.6,198.6 454.9,212.5 455.3,202.0 455.6,212.2 456.0,196.6 456.3,210.6 456.7,216.2 457.0,195.2 457.4,198.1 457.7,209.8 458.1,198.0 458.4,202.9 458.8,187.6 459.1,210.9 459.5,212.2 459.8,177.2 460.2,183.0 460.5,224.0 460.9,190.2 461.2,238.0 461.6,249.5 461.9,187.2 462.3,224.8 462.6,258.6 463.0,287.4 463.3,191.2 463.7,222.3 464.0,237.9 464.4,214.8 464.7,197.2 465.1,266.1 465.4,253.7 465.8,228.2 466.1,232.7 466.5,201.6 466.8,231.4 467.2,199.0 467.5,191.2 467.9,226.1 468.2,213.7 468.6,188.8 468.9,212.0 469.3,186.0 469.6,183.2 470.0,206.2 470.3,202.3 470.7,191.3 471.0,201.6 471.4,186.1 471.7,202.3 472.1,179.5 472.4,199.7 472.8,202.2 473.1,175.2 473.5,177.2 473.8,199.6 474.2,171.6 474.5,195.3 474.9,176.1 475.2,198.5 475.6,198.2 475.9,167.3 476.3,177.7 476.6,189.7 477.0,168.2 477.3,185.9 477.7,167.8 478.0,190.3 478.4,167.2 478.7,165.3 479.1,194.2 479.4,192.8 479.8,170.3 480.1,194.9 480.5,167.2 480.8,196.5 481.2,168.6 481.5,167.3 481.9,198.2 482.2,195.4 482.6,171.6 482.9,195.3 483.3,172.5 483.6,191.0 484.0,172.3 484.3,185.1 484.7,198.2 485.0,169.3 485.4,171.2 485.7,194.8 486.1,166.3 486.4,198.5 486.8,164.9 487.1,162.3 487.5,202.2 487.8,206.2 488.2,163.3 488.5,203.1 488.9,173.9 489.2,206.6 489.6,183.1 489.9,171.3 490.3,212.2 490.6,208.3 491.0,181.2 491.3,214.6 491.7,188.2 492.0,187.2 492.4,216.2 492.7,217.1 493.1,195.3 493.4,219.2 493.8,200.2 494.1,199.2 494.5,222.1 494.8,219.5 495.2,206.6 495.5,214.0 495.9,206.4 496.2,215.7 496.6,205.2 496.9,203.2 497.3,222.1 497.6,219.3 498.0,205.9 498.3,218.7 498.7,205.5 499.0,214.7 499.4,206.6 499.7,220.9 500.1,222.1 500.4,205.2 500.8,213.5 501.1,230.3 501.5,218.5 501.8,235.5 502.2,219.5 502.5,242.4 502.9,249.5 503.2,223.1 503.6,224.9 503.9,252.0 504.3,226.3 504.6,249.6 505.0,259.4 505.3,227.1 505.7,231.7 506.0,264.8 506.4,235.6 506.7,275.3 507.1,279.4 507.4,235.1 507.8,276.9 508.1,288.7 508.5,253.5 508.8,239.1 509.2,301.4 509.5,300.5 509.9,310.4 510.2,286.3 510.6,249.8 510.9,247.1 511.3,329.3 511.6,307.7 512.0,321.5 512.3,345.3 512.7,187.2 513.0,240.5 513.4,214.2 513.7,167.3 514.1,167.3 514.4,197.6 514.8,190.2 515.1,163.3 515.5,165.8 515.8,181.2 516.2,168.9 516.5,184.0 516.9,186.2 517.2,157.3 517.6,169.0 517.9,171.1 518.3,165.1 518.6,178.1 519.0,157.9 519.3,178.5 519.7,158.9 520.0,153.3 520.4,178.2 520.7,179.1 521.1,161.1 521.4,178.5 521.8,164.7 522.1,175.7 522.5,161.1 522.8,159.3 523.2,182.2 523.5,178.7 523.9,163.6 524.2,182.9 524.6,167.3 524.9,184.4 525.3,168.3 525.6,184.9 526.0,190.2 526.3,167.3 526.7,172.2 527.0,188.0 527.4,174.2 527.7,187.5 528.1,190.2 528.4,171.3 528.8,180.7 529.1,194.3 529.5,178.7 529.8,198.1 530.2,176.1 530.5,175.2 530.9,206.2 531.2,228.1 531.6,228.1 531.9,227.9 532.3,253.1 532.6,281.5 533.0,379.2 533.3,175.2 533.7,229.5 534.0,230.8 534.4,238.8 534.7,206.2 535.1,177.2 535.4,181.1 535.8,207.3 536.1,189.3 536.5,217.9 536.8,184.0 537.2,179.2 537.5,226.1 537.9,198.8 538.2,192.4 538.6,212.9 538.9,244.2 539.3,249.5 539.6,177.2 540.0,201.3 540.3,191.4 540.7,228.6 541.0,252.4 541.4,229.7 541.7,258.1 542.1,175.2 542.4,200.3 542.8,178.0 543.1,221.2 543.5,194.1 543.8,188.0 544.2,217.7 544.5,188.2 544.9,183.2 545.2,226.1 545.6,210.8 545.9,229.2 546.3,209.0 546.6,200.9 547.0,187.2 547.3,289.4 547.7,282.7 548.0,312.6 548.4,290.7 548.7,270.4 549.1,341.3 549.4,317.3 549.8,322.6 550.1,292.4 550.5,328.4 550.8,345.1 551.2,310.0 551.5,345.7 551.9,353.3 552.2,310.3 552.6,320.1 552.9,360.8 553.3,326.4 553.6,361.7 554.0,333.5 554.3,376.1 554.7,381.2 555.0,340.3 555.4,344.7 555.7,378.4 556.1,346.5 556.4,382.3 556.8,352.6 557.1,350.3 557.5,385.2 557.8,380.9 558.2,359.1 558.5,380.0 558.9,357.4 559.2,382.1 559.6,369.1 559.9,358.2 560.3,383.2 560.6,379.3 561.0,359.0 561.3,369.9 561.7,354.8 562.0,371.4 562.4,351.8 562.7,350.3 563.1,373.2 563.4,368.5 563.8,345.3 564.1,362.8 564.5,335.2 564.8,330.3 565.2,369.2 565.5,353.9 565.9,323.1 566.2,346.5 566.6,315.0 566.9,339.9 567.3,309.9 567.6,330.4 568.0,329.3 568.3,300.4 568.7,308.2 569.0,328.2 569.4,300.5 569.7,327.7 570.1,299.3 570.4,330.1 570.8,333.3 571.1,298.4 571.5,299.5 571.8,331.1 572.2,300.2 572.5,328.1 572.9,302.4 573.2,327.4 573.6,300.4 573.9,300.4 574.3,329.3 574.6,321.8 575.0,304.8 575.3,319.9 575.7,323.3 576.0,298.4 576.4,308.2 576.7,343.1 577.1,312.7 577.4,356.6 577.8,369.2 578.1,320.3 578.5,335.9 578.8,373.5 579.2,341.3 579.5,381.5 579.9,385.2 580.2,350.3 580.6,350.8 580.9,383.0 581.3,356.2 581.6,386.0 582.0,356.8 582.3,378.5 582.7,389.2 583.0,350.3 583.4,355.5 583.7,386.3 584.1,360.6 584.4,386.6 584.8,387.2 585.1,346.3 585.5,373.0 585.8,341.2 586.2,376.2 586.5,342.1 586.9,330.3 587.2,381.2 587.6,336.7 587.9,331.0 588.3,354.7 588.6,369.2 589.0,326.3 589.3,321.9 589.7,354.1 590.0,317.2 590.4,336.0 590.7,359.1 591.1,337.6 591.4,309.0 591.8,290.4 592.1,369.2 592.5,325.4 592.8,269.5 593.2,289.4 593.5,221.2 593.9,282.4 594.2,251.8 594.6,228.8 594.9,258.0 595.3,275.8 595.6,285.4 596.0,215.2 596.3,248.7 596.7,261.4 597.0,259.1 597.4,256.2 597.7,175.2 598.1,395.2 598.4,236.4 598.8,245.3 599.1,250.4 599.5,261.3 599.8,279.4 600.2,177.2 600.5,189.2 600.9,210.7 601.2,247.2 601.6,262.3 601.9,242.8 602.3,221.2 602.6,191.2 603.0,255.4 603.3,246.7 603.7,208.9 604.0,197.7 604.4,216.0 604.7,187.2 605.1,249.5 605.4,213.4 605.8,208.4 606.1,243.8 606.5,224.2 606.8,213.0 607.2,203.2 607.5,263.4 607.9,206.4 608.2,240.6 608.6,210.2 608.9,204.2 609.3,243.8 609.6,269.4 610.0,192.2 610.3,227.7 610.7,260.5 611.0,242.1 611.4,239.9 611.7,279.2 612.1,286.6 612.4,261.1 612.8,227.1 613.1,295.4 613.5,226.5 613.8,239.5 614.2,265.5 614.5,242.6 614.9,267.5 615.2,309.3 615.6,207.2 615.9,283.7 616.3,261.5 616.6,249.8 617.0,183.2 617.3,329.3 617.7,212.6 618.0,234.2 618.4,254.2 618.7,238.7 619.1,187.2 619.4,341.3 619.8,253.0 620.1,258.9 620.5,241.7 620.8,177.2 621.2,325.3 621.5,237.5 621.9,233.7 622.2,230.5 622.6,207.2 622.9,357.2 623.3,259.3 623.6,251.8 624.0,237.6 624.3,268.9 624.7,247.1 625.0,349.3 625.4,350.8 625.7,357.8 626.1,344.0 626.4,315.8 626.8,270.4 627.1,369.2 627.5,379.1 627.8,346.8 628.2,330.3 628.5,395.2 628.9,354.6 629.2,356.0 629.6,394.9 629.9,367.4 630.3,397.0 630.6,401.2 631.0,370.2 631.3,376.7 631.7,393.2 632.0,382.7 632.4,393.7 632.7,376.0 633.1,392.6 633.4,377.2 633.8,374.2 634.1,391.2 634.5,386.2 634.8,366.7 635.2,383.2 635.5,385.2 635.9,360.2 636.2,368.1 636.6,385.2 636.9,360.5 637.3,391.3 637.6,401.2 638.0,350.3 638.3,366.8 638.7,324.0 639.0,329.3 639.4,230.5 639.7,242.7 640.1,289.1 640.4,238.2 640.8,227.1 641.1,269.4 641.5,222.0 641.8,259.4 642.2,219.3 642.5,241.2 642.9,211.3 643.2,243.4 643.6,245.5 643.9,201.2 644.3,238.0 644.6,204.5 645.0,241.0 645.3,208.6 645.7,205.2 646.0,249.5 646.4,250.7 646.7,209.5 647.1,197.2 647.4,253.5 647.8,248.2 648.1,218.9 648.5,212.9 648.8,265.4 649.2,269.4 649.5,211.2 649.9,244.6 650.2,266.4 650.6,226.4 650.9,268.9 651.3,231.5 651.6,223.1 652.0,273.4 652.3,273.5 652.7,233.3 653.0,228.2 653.4,263.3 653.7,225.5 654.1,272.7 654.4,231.3 654.8,211.2 655.1,279.4 655.5,282.2 655.8,261.9 656.2,262.2 656.5,289.4 656.9,227.1 657.2,230.6 657.6,248.3 657.9,263.1 658.3,239.9 658.6,187.2 659.0,329.3 659.3,211.8 659.7,165.3 660.0,341.3 660.4,234.1 660.7,252.7 661.1,244.3 661.4,234.8 661.8,227.1 662.1,347.3 662.5,248.8 662.8,238.0 663.2,258.8 663.5,275.5 663.9,308.6 664.2,324.4 664.6,347.3 664.9,250.5 665.3,246.0 665.6,274.2 666.0,302.5 666.3,253.0 666.7,235.1 667.0,230.1 667.4,295.4 667.7,250.6 668.1,250.2 668.4,283.7 668.8,306.9 669.1,329.7 669.5,341.3 669.8,270.4 670.2,330.0 670.5,335.0 670.9,286.0 671.2,314.9 671.6,337.3 671.9,290.4 672.3,342.1 672.6,303.1 673.0,331.9 673.3,345.9 673.7,353.3 674.0,306.3 674.4,326.3 674.7,351.0 675.1,315.8 675.4,349.3 675.8,317.1 676.1,338.9 676.5,361.2 676.8,314.3 677.2,315.9 677.5,353.5 677.9,314.4 678.2,340.1 678.6,345.4 678.9,313.6 679.3,336.8 679.6,341.3 680.0,310.3 680.3,318.6 680.7,341.1 681.0,323.3 681.4,347.8 681.7,325.3 682.1,352.0 682.4,357.2 682.8,318.3 683.1,340.0 683.5,325.4 683.8,363.7 684.2,391.8 684.5,407.1 684.9,330.3 685.2,388.2 685.6,399.8 685.9,375.5 686.3,373.4 686.6,408.9 687.0,415.1 687.3,389.2 687.7,391.4 688.0,390.2 688.4,415.1 688.7,408.7 689.1,399.9 689.4,411.4 689.8,391.5 690.1,407.8 690.5,389.7 690.8,386.2 691.2,411.1 691.5,395.2 691.9,345.9 692.2,323.8 692.6,296.4 692.9,409.1 693.3,338.7 693.6,299.3 694.0,313.3 694.3,270.4 694.7,279.0 695.0,316.4 695.4,282.3 695.7,319.7 696.1,325.3 696.4,280.4 696.8,291.2 697.1,330.3 697.5,337.3 697.8,290.4 698.2,305.9 698.5,325.2 698.9,292.0 699.2,318.4 699.6,290.8 699.9,286.4 700.3,313.3 700.6,312.6 701.0,289.1 701.3,304.6 701.7,289.5 702.0,315.7 702.4,289.4 702.7,280.4 703.1,319.3 703.4,308.3 703.8,275.3 704.1,263.2 704.5,300.7 704.8,297.4 705.2,247.1 705.5,252.2 705.9,283.0 706.2,264.1 706.6,294.6 706.9,268.7 707.3,263.0 707.6,292.6 708.0,295.4 708.3,257.1 708.7,257.3 709.0,278.6 709.4,253.2 709.7,287.7 710.1,253.6 710.4,285.8 710.8,297.4 711.1,247.1 711.5,291.2 711.8,293.8 712.2,250.2 712.5,279.3 712.9,299.4 713.2,250.5 713.6,256.6 713.9,281.2 714.3,291.9 714.6,272.4 715.0,254.5 715.3,335.3 715.7,275.5 716.0,272.4 716.4,308.4 716.7,271.5 717.1,270.4 717.4,313.3 717.8,318.6 718.1,288.1 718.5,310.2 718.8,292.7 719.2,296.4 719.5,329.3 719.9,328.3 720.2,305.4 720.6,332.1 720.9,303.3 721.3,331.4 721.6,307.2 722.0,306.3 722.3,341.3 722.7,334.4 723.0,303.2 723.4,325.9 723.7,294.8 724.1,290.4 724.4,325.3 724.8,308.2 725.1,275.3 725.5,296.0 725.8,289.4 726.2,260.4 726.5,263.2 726.9,286.1 727.2,271.7 727.6,282.7 727.9,260.7 728.3,284.0 728.6,258.6 729.0,256.4 729.3,285.4 729.7,283.7 730.0,258.2 730.4,282.6 730.7,268.5 731.1,277.1 731.4,259.1 731.8,258.4 732.1,281.4 732.5,276.4 732.8,258.2 733.2,270.5 733.5,255.1 733.9,271.5 734.2,257.3 734.6,272.5 734.9,273.4 735.3,250.5 735.6,253.3 736.0,265.0 736.3,258.9 736.7,260.3 737.0,259.4 737.4,257.1 737.7,250.6 738.1,247.6 738.4,243.8 738.8,241.5 739.1,239.1 739.5,239.0 739.8,235.5 740.2,238.2 740.5,227.8 740.9,232.0 741.2,221.6 741.6,234.9 741.9,238.1 742.3,215.2 742.6,215.2 743.0,229.8 743.3,219.4 743.7,232.0 744.0,211.7 744.4,223.9 744.7,236.1 745.1,207.2 745.4,213.1 745.8,233.0 746.1,204.0 746.5,223.9 746.8,212.1 747.2,226.7 747.5,200.9 747.9,224.1 748.2,203.1 748.6,221.7 748.9,198.9 749.3,221.1 749.6,189.3 750.0,187.2 750.3,222.1 750.7,218.6 751.0,189.1 751.4,214.7 751.7,222.1 752.1,184.2 752.4,191.9 752.8,220.5 753.1,188.4 753.5,223.8 753.8,198.2 754.2,198.3 754.5,221.2 754.9,226.1 755.2,185.2 755.6,191.0 755.9,222.8 756.3,190.1 756.6,229.2 757.0,232.1 757.3,191.2 757.7,198.1 758.0,233.7 758.4,196.1 758.7,236.8 759.1,206.7 759.4,234.3 759.8,242.1 760.1,199.2 760.5,204.8 760.8,244.2 761.2,207.5 761.5,247.3 761.9,220.3 762.2,244.0 762.6,213.8 762.9,213.2 763.3,255.4 763.6,249.0 764.0,215.5 764.3,241.0 764.7,249.9 765.0,216.3 765.4,189.2 765.7,249.5 766.1,247.7 766.4,206.9 766.8,241.6 767.1,215.6 767.5,255.4 767.8,259.4 768.2,221.2 768.5,228.9 768.9,226.3 769.2,251.5 769.6,226.3 769.9,253.5 770.3,224.7 770.6,260.5 771.0,263.4 771.3,223.1 771.7,221.5 772.0,256.3 772.4,221.0 772.7,252.8 773.1,220.5 773.4,254.2 773.8,257.4 774.1,211.2 774.5,255.9 774.8,221.6 775.2,258.8 775.5,225.2 775.9,222.8 776.2,263.9 776.6,234.2 776.9,223.1 777.3,267.4 777.6,263.8 778.0,225.8 778.3,263.9 778.7,239.5 779.0,252.5 779.4,236.3 779.7,227.1 780.1,265.4 780.4,257.4 780.8,232.4 781.1,257.5 781.5,236.6 781.8,257.6 782.2,237.5 782.5,265.2 782.9,269.4 783.2,239.1 783.6,241.6 783.9,272.8 784.3,250.1 784.6,277.0 785.0,259.1 785.3,276.3 785.7,289.4 786.0,247.1 786.4,249.8 786.7,283.5 787.1,260.4 787.4,281.2 787.8,255.4 788.1,280.3 788.5,255.0 788.8,255.1 789.2,285.4 789.5,279.7 789.9,262.1 790.2,274.4 790.6,250.0 790.9,268.4 791.3,271.4 791.6,240.1 792.0,248.9 792.3,271.1 792.7,258.9 793.0,277.2 793.4,260.8 793.7,263.1 794.1,281.4 794.4,281.1 794.8,269.2 795.1,280.8 795.5,268.2 795.8,281.6 796.2,269.5 796.5,286.4 796.9,287.4 797.2,269.1 797.6,271.3 797.9,288.2 798.3,269.7 798.6,286.5 799.0,266.7 799.3,266.4 799.7,289.4 800.0,281.5 800.4,263.7 800.7,259.1 801.1,285.4 801.4,284.4 801.8,272.8 802.1,295.3 802.5,282.9 802.8,276.4 803.2,309.3 803.5,314.1 803.9,283.7 804.2,317.7 804.6,288.0 804.9,319.2 805.3,333.3 805.6,280.4 806.0,292.1 806.3,280.1 806.7,324.0 807.0,284.0 807.4,276.0 807.7,270.4 808.1,323.3 808.4,296.7 808.8,317.7 809.1,293.3 809.5,269.3 809.8,258.2 810.2,250.5 810.5,317.3 810.9,305.6 811.2,273.4 811.6,302.4 811.9,265.6 812.3,298.8 812.6,295.4 813.0,268.4 813.3,269.9 813.7,288.8 814.0,264.3 814.4,285.0 814.7,285.4 815.1,256.4 815.4,255.9 815.8,277.0 816.1,251.7 816.5,269.2 816.8,269.4 817.2,247.1 817.5,245.2 817.9,250.4 818.2,236.6 818.6,244.5 818.9,229.3 819.3,227.1 819.6,239.5 820.0,241.5 820.3,214.7 820.7,203.2 821.0,246.1 821.4,241.2 821.7,241.7 822.1,197.7 822.4,234.7 822.8,238.1 823.1,187.2 823.5,213.3 823.8,238.1 824.2,170.3 824.5,231.6 824.9,191.8 825.2,226.3 825.6,226.1 825.9,183.2 826.3,181.2 826.6,217.4 827.0,195.1 827.3,221.5 827.7,222.1 828.0,171.3 828.4,207.1 828.7,217.2 829.1,186.0 829.4,212.1 829.8,220.2 830.1,191.2 830.5,195.6 830.8,215.3 831.2,199.1 831.5,201.2 831.9,216.2 832.2,213.5 832.6,206.0 832.9,214.5 833.3,205.0 833.6,213.2 834.0,203.3 834.3,213.3 834.7,216.2 835.0,203.2 835.4,202.6 835.7,214.9 836.1,201.1 836.4,213.6 836.8,199.8 837.1,214.3 837.5,199.8 837.8,195.2 838.2,216.2 838.5,211.6 838.9,200.5 839.2,216.1 839.6,199.6 839.9,215.3 840.3,208.3 840.6,201.2 841.0,218.2 841.3,218.4 841.7,205.5 842.0,218.8 842.4,201.0 842.7,220.1 843.1,200.5 843.4,220.2 843.8,222.1 844.1,199.2 844.5,205.5 844.8,233.8 845.2,212.3 845.5,205.7 845.9,248.3 846.2,254.1 846.6,203.2 846.9,225.4 847.3,206.0 847.6,191.2 848.0,232.1 848.3,225.0 848.7,189.3 849.0,214.2 849.4,218.2 849.7,216.2 850.1,185.2 850.4,191.0 850.8,214.5 851.1,186.6 851.5,209.8 851.8,182.7 852.2,212.2 852.5,214.2 852.9,177.2 853.2,181.8 853.6,210.1 853.9,181.8 854.3,208.8 854.6,175.9 855.0,174.1 855.3,209.5 855.7,212.2 856.0,171.3 856.4,214.0 856.7,173.2 857.1,196.2 857.4,217.5 857.8,180.6 858.1,214.5 858.5,224.1 858.8,167.3 859.2,179.7 859.5,197.8 859.9,180.2 860.2,213.7 860.6,214.3 860.9,175.2 861.3,206.3 861.6,216.2 862.0,171.3 862.3,181.8 862.7,210.0 863.0,181.3 863.4,180.5 863.7,211.8 864.1,184.4 864.4,209.5 864.8,212.2 865.1,185.2 865.5,191.2 865.8,212.3 866.2,191.2 866.5,211.7 866.9,191.0 867.2,214.7 867.6,218.2 867.9,191.2 868.3,193.2 868.6,217.3 869.0,204.1 869.3,221.0 869.7,222.1 870.0,195.2 870.4,202.7 870.7,234.5 871.1,196.9 871.4,242.6 871.8,227.5 872.1,254.1 872.5,193.2 872.8,233.9 873.2,196.4 873.5,187.2 873.9,222.1 874.2,209.7 874.6,186.9 874.9,210.4 875.3,180.1 875.6,175.2 876.0,210.2 876.3,180.4 876.7,188.1 877.0,167.0 877.4,185.6 877.7,186.2 878.1,163.3 878.4,163.3 878.8,183.7 879.1,164.0 879.5,180.7 879.8,166.7 880.2,179.5 880.5,182.2 880.9,159.3 881.2,162.9 881.6,177.6 881.9,161.1 882.3,193.0 882.6,200.2 883.0,161.3 883.3,193.8 883.7,166.5 884.0,187.5 884.4,171.0 884.7,167.3 885.1,186.2 885.4,184.8 885.8,165.7 886.1,185.5 886.5,167.5 886.8,161.3 887.2,186.2 887.5,182.8 887.9,166.1 888.2,182.0 888.6,167.9 888.9,167.3 889.3,184.2 889.6,184.9 890.0,175.0 890.3,192.8 890.7,198.2 891.0,175.2 891.4,190.4 891.7,204.0 892.1,182.6 892.4,211.9 892.8,226.1 893.1,183.2 893.5,194.3 893.8,218.9 894.2,237.4 894.5,239.5 894.9,187.2 895.2,177.7 895.6,204.5 895.9,206.2 896.3,167.3 896.6,167.3 897.0,188.4 897.3,166.8 897.7,163.3 898.0,186.2 898.4,180.0 898.7,162.2 899.1,177.6 899.4,167.2 899.8,159.3 900.1,184.2 900.5,172.9 900.8,165.8 901.2,181.6 901.5,161.8 901.9,161.3 902.2,182.2 902.6,178.1 902.9,164.4 903.3,182.9 903.6,184.2 904.0,165.3 904.3,169.9 904.7,186.6 905.0,167.6 905.4,182.9 905.7,190.2 906.1,167.3 906.4,174.3 906.8,211.9 907.1,226.1 907.5,175.2 907.8,221.8 908.2,181.0 908.5,211.7 908.9,183.2 909.2,241.5 909.6,195.9 909.9,187.7 910.3,214.5 910.6,239.5 911.0,187.2 911.3,231.5 911.7,232.6 912.0,191.2 912.4,225.0 912.7,226.1 913.1,191.2 913.4,192.9 913.8,212.9 914.1,189.6 914.5,211.1 914.8,220.2 915.2,187.2 915.5,193.3 915.9,212.0 916.2,191.0 916.6,191.2 916.9,206.2 917.3,203.1 917.6,192.6 918.0,206.7 918.3,194.0 918.7,187.2 919.0,210.2 919.4,209.3 919.7,194.3 920.1,208.4 920.4,192.2 920.8,191.2 921.1,212.2 921.5,212.5 921.8,202.8 922.2,214.8 922.5,197.8 922.9,195.2 923.2,222.1 923.6,215.8 923.9,193.3 924.3,216.6 924.6,218.2 925.0,187.2 925.3,198.4 925.7,221.7 926.0,196.9 926.4,214.4 926.7,226.1 927.1,195.2 927.4,197.9 927.8,217.2 928.1,197.3 928.5,215.9 928.8,222.1 929.2,193.2 929.5,200.5 929.9,219.8 930.2,201.7 930.6,199.2 930.9,226.1 931.3,242.1 931.6,213.2 932.0,236.0 932.3,271.3 932.7,311.3 933.0,217.2 933.4,243.4 933.7,264.8 934.1,226.9 934.4,252.9 934.8,227.1 935.1,289.4 935.5,269.9 935.8,223.1 936.2,219.4 936.5,211.2 936.9,259.4 937.2,259.8 937.6,234.8 937.9,258.9 938.3,231.8 938.6,235.1 939.0,265.4 939.3,263.7 939.7,240.9 940.0,262.9 940.4,239.9 940.7,239.1 941.1,263.4 941.4,251.4 941.8,225.3 942.1,248.2 942.5,204.4 942.8,199.2 943.2,246.1 943.5,229.9 943.9,198.0 944.2,224.8 944.6,234.1 944.9,187.2 945.3,218.4 945.6,193.4 946.0,222.4 946.3,188.5 946.7,185.2 947.0,226.1 947.4,237.7 947.7,210.8 948.1,194.2 948.4,196.0 948.8,195.2 949.1,265.4 949.5,199.7 949.8,221.5 950.2,205.4 950.5,203.2 950.9,249.5 951.2,235.0 951.6,203.2 951.9,242.4 952.3,249.4 952.6,253.5 953.0,199.2 953.3,199.6 953.7,237.2 954.0,193.5 954.4,228.9 954.7,226.1 955.1,185.2 955.4,189.4 955.8,222.1 956.1,189.5 956.5,187.2 956.8,222.1 957.2,218.2 957.5,196.8 957.9,213.1 958.2,197.2 958.6,197.2 958.9,226.1 959.3,221.0 959.6,196.8 960.0,210.4 960.3,193.0 960.7,191.2 961.0,216.2 961.4,212.2 961.7,190.9 962.1,206.5 962.4,186.9 962.8,183.2 963.1,212.2 963.5,199.1 963.8,187.4 964.2,201.4 964.5,206.2 964.9,179.2 965.2,185.9 965.6,204.7 965.9,180.9 966.3,203.7 966.6,206.2 967.0,181.2 967.3,184.6 967.7,209.5 968.0,184.6 968.4,209.5 968.7,226.1 969.1,183.2 969.4,225.9 969.8,199.8 970.1,183.4 970.5,179.2 970.8,238.1 971.2,188.5 971.5,187.3 971.9,219.1 972.2,225.5 972.6,226.1 972.9,177.2 973.3,180.1 973.6,197.1 974.0,179.0" fill="none" stroke="#008000" stroke-width="1.2" stroke-linejoin="round"/>
<path d="M90.6,153.2 90.9,133.2 91.3,162.5 91.6,135.4 92.0,150.3 92.3,135.8 92.7,154.3 93.0,133.8 93.4,152.7 93.7,135.1 94.1,133.3 94.4,154.3 94.8,148.4 95.1,136.9 95.5,143.9 95.8,134.2 96.2,140.5 96.5,132.3 96.9,131.3 97.2,138.3 97.6,137.7 97.9,134.1 98.3,134.7 98.6,132.5 99.0,137.1 99.3,131.3 99.7,134.5 100.0,133.4 100.4,135.0 100.7,132.8 101.1,130.3 101.4,136.3 101.8,136.5 102.1,132.2 102.5,137.9 102.8,134.4 103.2,141.3 103.5,130.6 103.9,129.3 104.2,146.3 104.6,137.2 104.9,131.2 105.3,140.5 105.6,129.8 106.0,135.9 106.3,131.7 106.7,133.9 107.0,134.3 107.4,128.3 107.7,131.9 108.1,136.4 108.4,132.0 108.8,129.3 109.1,142.3 109.5,159.7 109.8,138.8 110.2,182.6 110.5,194.9 110.9,216.2 111.2,137.3 111.6,186.9 111.9,214.4 112.3,180.5 112.6,150.1 113.0,143.3 113.3,218.2 113.7,181.6 114.0,158.5 114.4,166.9 114.7,144.1 115.1,139.3 115.4,158.3 115.8,152.1 116.1,141.2 116.5,150.3 116.8,143.7 117.2,148.5 117.5,139.8 117.9,137.3 118.2,146.3 118.6,145.8 118.9,139.6 119.3,148.4 119.6,140.5 120.0,147.4 120.3,142.9 120.7,157.1 121.0,158.3 121.4,139.3 121.7,145.7 122.1,154.4 122.4,146.5 122.8,154.1 123.1,145.4 123.5,152.2 123.8,154.3 124.2,141.3 124.5,148.5 124.9,161.4 125.2,152.3 125.6,159.1 125.9,145.3 126.3,174.2 126.6,150.7 127.0,179.0 127.3,157.5 127.7,181.9 128.0,186.2 128.4,151.3 128.7,159.9 129.1,191.8 129.4,173.5 129.8,159.3 130.1,198.2 130.5,166.3 130.8,199.8 131.2,226.4 131.5,197.8 131.9,167.3 132.2,250.1 132.6,192.9 132.9,210.8 133.3,231.3 133.6,208.8 134.0,246.1 134.3,133.3 134.7,147.4 135.0,179.1 135.4,192.8 135.7,190.2 136.1,133.3 136.4,185.5 136.8,135.3 137.1,176.9 137.5,142.0 137.8,135.3 138.2,174.2 138.5,173.0 138.9,206.7 139.2,236.7 139.6,234.3 139.9,279.4 140.3,167.3 140.6,225.2 141.0,242.8 141.3,266.9 141.7,278.3 142.0,267.7 142.4,276.5 142.7,285.4 143.1,175.2 143.4,258.5 143.8,270.4 144.1,245.3 144.5,227.8 144.8,209.9 145.2,187.9 145.5,220.3 145.9,187.2 146.2,289.4 146.6,260.6 146.9,234.8 147.3,219.8 147.6,210.5 148.0,240.0 148.3,228.8 148.7,205.3 149.0,205.2 149.4,309.3 149.7,234.4 150.1,247.6 150.4,279.5 150.8,313.3 151.1,213.2 151.5,282.7 151.8,260.1 152.2,236.8 152.5,220.4 152.9,187.2 153.2,329.3 153.6,232.5 153.9,217.2 154.3,367.2 154.6,293.8 155.0,312.2 155.3,321.8 155.7,330.4 156.0,349.3 156.4,351.8 156.7,369.2 157.1,223.1 157.4,296.5 157.8,312.0 158.1,300.7 158.5,288.3 158.8,274.1 159.2,292.4 159.5,301.4 159.9,359.2 160.2,227.1 160.6,315.4 160.9,305.3 161.3,287.3 161.6,262.9 162.0,221.2 162.3,353.3 162.7,259.6 163.0,279.0 163.4,299.1 163.7,315.3 164.1,207.2 164.4,258.7 164.8,231.7 165.1,249.8 165.5,265.0 165.8,295.4 166.2,197.2 166.5,188.7 166.9,131.3 167.2,317.3 167.6,143.2 167.9,136.3 168.3,152.5 168.6,163.6 169.0,131.3 169.3,249.5 169.7,149.9 170.0,164.4 170.4,186.2 170.7,131.3 171.1,159.9 171.4,136.0 171.8,133.3 172.1,158.3 172.5,155.8 172.8,137.7 173.2,160.6 173.5,135.8 173.9,135.3 174.2,166.3 174.6,160.0 174.9,139.5 175.3,170.6 175.6,142.0 176.0,137.3 176.3,176.2 176.7,175.4 177.0,151.0 177.4,144.8 177.7,135.3 178.1,182.2 178.4,163.3 178.8,143.1 179.1,177.0 179.5,183.2 179.8,190.2 180.2,137.3 180.5,197.1 180.9,173.0 181.2,159.3 181.6,220.2 181.9,174.2 182.3,203.5 182.6,206.2 183.0,175.2 183.3,178.1 183.7,202.1 184.0,178.2 184.4,199.0 184.7,202.2 185.1,179.2 185.4,184.0 185.8,197.1 186.1,179.3 186.5,195.4 186.8,196.2 187.2,177.2 187.5,176.8 187.9,186.9 188.2,173.6 188.6,189.1 188.9,173.3 189.3,187.1 189.6,186.2 190.0,167.3 190.3,166.2 190.7,182.2 191.0,163.8 191.4,178.4 191.7,178.2 192.1,156.3 192.4,167.8 192.8,175.8 193.1,164.9 193.5,175.3 193.8,178.2 194.2,165.3 194.5,167.4 194.9,172.6 195.2,164.5 195.6,175.4 195.9,164.8 196.3,174.3 196.6,174.2 197.0,159.3 197.3,158.9 197.7,172.2 198.0,158.6 198.4,171.1 198.7,157.5 199.1,169.9 199.4,152.0 199.8,147.3 200.1,170.3 200.5,164.9 200.8,144.5 201.2,159.0 201.5,144.0 201.9,140.3 202.2,158.3 202.6,156.1 202.9,143.6 203.3,158.4 203.6,162.3 204.0,143.3 204.3,150.9 204.7,161.3 205.0,153.0 205.4,163.0 205.7,170.3 206.1,147.3 206.4,154.7 206.8,175.7 207.1,154.6 207.5,182.9 207.8,186.2 208.2,155.3 208.5,167.2 208.9,185.3 209.2,166.9 209.6,167.3 209.9,190.2 210.3,190.8 210.6,175.6 211.0,192.6 211.3,174.9 211.7,175.2 212.0,206.2 212.4,210.8 212.7,182.2 213.1,214.8 213.4,189.1 213.8,187.2 214.1,226.1 214.5,213.4 214.8,193.5 215.2,225.2 215.5,201.8 215.9,191.2 216.2,246.1 216.6,207.7 216.9,243.5 217.3,212.5 217.6,199.2 218.0,256.1 218.3,216.8 218.7,255.9 219.0,267.7 219.4,246.8 219.7,276.9 220.1,293.6 220.4,287.5 220.8,315.3 221.1,219.2 221.5,237.1 221.8,266.1 222.2,278.6 222.5,265.5 222.9,251.3 223.2,271.4 223.6,290.7 223.9,321.1 224.3,334.3 224.6,341.3 225.0,227.1 225.3,319.1 225.7,296.2 226.0,274.1 226.4,262.0 226.7,243.9 227.1,259.8 227.4,250.1 227.8,237.1 228.1,333.3 228.5,310.1 228.8,282.1 229.2,268.4 229.5,245.4 229.9,279.6 230.2,304.5 230.6,319.3 230.9,247.1 231.3,288.2 231.6,309.9 232.0,274.8 232.3,295.1 232.7,308.5 233.0,257.2 233.4,293.7 233.7,309.3 234.1,257.1 234.4,292.3 234.8,255.4 235.1,288.8 235.5,300.2 235.8,249.3 236.2,283.9 236.5,295.4 236.9,243.1 237.2,239.3 237.6,274.5 237.9,279.9 238.3,239.0 238.6,262.0 239.0,281.2 239.3,257.5 239.7,289.4 240.0,207.2 240.4,258.9 240.7,239.9 241.1,218.4 241.4,243.7 241.8,257.1 242.1,228.3 242.5,202.8 242.8,187.2 243.2,269.4 243.5,224.6 243.9,232.8 244.2,194.1 244.6,185.2 244.9,226.1 245.3,219.5 245.6,187.0 246.0,217.8 246.3,189.0 246.7,183.2 247.0,218.2 247.4,187.6 247.7,217.4 248.1,189.5 248.4,219.1 248.8,222.6 249.1,192.8 249.5,219.3 249.8,226.1 250.2,187.2 250.5,220.1 250.9,194.8 251.2,227.1 251.6,191.4 251.9,216.4 252.3,228.5 252.6,230.1 253.0,191.2 253.3,198.5 253.7,221.5 254.0,194.1 254.4,186.4 254.7,183.2 255.1,232.1 255.4,233.0 255.8,203.2 256.1,230.1 256.5,246.1 256.8,199.2 257.2,204.0 257.5,250.2 257.9,218.7 258.2,206.4 258.6,254.2 258.9,209.6 259.3,229.9 259.6,207.2 260.0,266.1 260.3,254.8 260.7,232.1 261.0,222.9 261.4,263.1 261.7,242.5 262.1,273.8 262.4,236.0 262.8,219.2 263.1,279.4 263.5,263.9 263.8,279.3 264.2,248.6 264.5,225.2 264.9,269.1 265.2,275.6 265.6,285.4 265.9,211.2 266.3,224.3 266.6,247.8 267.0,231.2 267.3,232.8 267.7,259.7 268.0,279.5 268.4,251.8 268.7,247.1 269.1,295.4 269.4,254.7 269.8,243.7 270.1,290.1 270.5,235.9 270.8,268.3 271.2,278.0 271.5,289.4 271.9,227.1 272.2,283.8 272.6,286.9 272.9,269.7 273.3,288.7 273.6,269.3 274.0,244.0 274.3,270.0 274.7,295.4 275.0,227.1 275.4,294.4 275.7,251.6 276.1,236.8 276.4,286.2 276.8,289.8 277.1,242.8 277.5,235.1 277.8,299.4 278.2,267.5 278.5,239.4 278.9,259.1 279.2,299.8 279.6,306.5 279.9,285.1 280.3,260.0 280.6,247.1 281.0,313.3 281.3,290.8 281.7,271.1 282.0,315.8 282.4,323.3 282.7,290.3 283.1,269.4 283.4,293.3 283.8,317.4 284.1,323.1 284.5,347.3 284.8,257.1 285.2,309.6 285.5,282.6 285.9,284.9 286.2,324.3 286.6,295.5 286.9,300.4 287.3,333.3 287.6,328.7 288.0,329.3 288.3,296.4 288.7,299.1 289.0,330.4 289.4,301.9 289.7,327.7 290.1,308.1 290.4,330.5 290.8,310.8 291.1,306.3 291.5,333.3 291.8,331.0 292.2,305.0 292.5,326.1 292.9,304.9 293.2,327.2 293.6,300.3 293.9,296.4 294.3,325.3 294.6,294.6 295.0,319.2 295.3,342.8 295.7,326.0 296.0,286.4 296.4,389.2 296.7,340.0 297.1,345.8 297.4,377.4 297.8,357.8 298.1,358.2 298.5,389.2 298.8,384.1 299.2,362.8 299.5,382.9 299.9,362.5 300.2,373.0 300.6,360.9 300.9,360.2 301.3,381.2 301.6,380.4 302.0,362.7 302.3,383.5 302.7,364.4 303.0,385.1 303.4,369.8 303.7,387.5 304.1,389.2 304.4,366.2 304.8,379.3 305.1,394.2 305.5,372.3 305.8,370.2 306.2,399.2 306.5,390.2 306.9,353.3 307.2,335.9 307.6,359.4 307.9,389.2 308.3,310.3 308.6,324.1 309.0,296.9 309.3,308.1 309.7,341.2 310.0,341.3 310.4,278.4 310.7,290.1 311.1,332.8 311.4,337.8 311.8,337.3 312.1,306.3 312.5,313.7 312.8,326.5 313.2,298.4 313.5,331.0 313.9,301.3 314.2,331.1 314.6,299.6 314.9,284.4 315.3,333.3 315.6,322.9 316.0,304.0 316.3,340.8 316.7,317.5 317.0,316.3 317.4,349.3 317.7,346.3 318.1,321.7 318.4,351.9 318.8,323.6 319.1,350.5 319.5,332.7 319.8,326.3 320.2,359.2 320.5,354.7 320.9,328.1 321.2,355.4 321.6,360.0 321.9,363.2 322.3,310.3 322.6,320.6 323.0,355.1 323.3,326.3 323.7,322.0 324.0,356.2 324.4,326.6 324.7,357.0 325.1,357.2 325.4,328.3 325.8,331.3 326.1,349.0 326.5,330.8 326.8,353.0 327.2,330.7 327.5,348.5 327.9,353.3 328.2,330.3 328.6,330.5 328.9,350.9 329.3,330.6 329.6,344.4 330.0,328.3 330.3,345.9 330.7,324.4 331.0,320.3 331.4,349.3 331.7,352.0 332.1,328.4 332.4,345.1 332.8,331.2 333.1,355.1 333.5,337.9 333.8,334.3 334.2,369.2 334.5,372.3 334.9,340.9 335.2,380.9 335.6,345.1 335.9,342.3 336.3,389.2 336.6,380.2 337.0,352.7 337.3,385.6 337.7,359.8 338.0,388.4 338.4,362.6 338.7,366.2 339.1,389.2 339.4,389.7 339.8,369.1 340.1,389.7 340.5,365.6 340.8,389.3 341.2,365.9 341.5,391.9 341.9,399.2 342.2,362.2 342.6,399.3 342.9,367.9 343.3,400.1 343.6,372.6 344.0,370.2 344.3,409.1 344.7,374.3 345.0,380.6 345.4,361.2 345.7,421.1 346.1,224.1 346.4,372.5 346.8,383.8 347.1,382.0 347.5,358.8 347.8,369.2 348.2,230.5 348.5,333.0 348.9,339.4 349.2,321.7 349.6,286.2 349.9,250.5 350.3,333.3 350.6,327.6 351.0,291.8 351.3,277.3 351.7,311.5 352.0,292.2 352.4,342.3 352.7,349.3 353.1,290.4 353.4,343.6 353.8,346.8 354.1,318.7 354.5,298.5 354.8,346.7 355.2,362.7 355.5,339.3 355.9,369.2 356.2,300.4 356.6,315.9 356.9,349.9 357.3,367.7 357.6,346.8 358.0,373.2 358.3,290.4 358.7,295.5 359.0,321.0 359.4,339.3 359.7,300.0 360.1,270.8 360.4,264.0 360.8,250.5 361.1,341.3 361.5,314.1 361.8,298.5 362.2,283.8 362.5,304.9 362.9,329.3 363.2,246.5 363.6,329.3 363.9,331.7 364.3,314.3 364.6,284.9 365.0,254.5 365.3,341.3 365.7,306.6 366.0,271.5 366.4,261.4 366.7,256.4 367.1,329.3 367.4,259.4 367.8,292.2 368.1,318.4 368.5,284.4 368.8,260.4 369.2,317.3 369.5,290.8 369.9,278.7 370.2,311.8 370.6,275.4 370.9,270.4 371.3,313.3 371.6,304.7 372.0,259.3 372.3,269.0 372.7,295.4 373.0,217.2 373.4,277.2 373.7,275.2 374.1,243.8 374.4,219.4 374.8,217.2 375.1,269.4 375.5,241.5 375.8,270.5 376.2,280.0 376.5,247.9 376.9,215.2 377.2,289.4 377.6,263.2 377.9,298.1 378.3,263.6 378.6,270.4 379.0,329.3 379.3,279.0 379.7,316.9 380.0,283.0 380.4,327.7 380.7,333.3 381.1,280.4 381.4,276.9 381.8,254.2 382.1,269.6 382.5,235.1 382.8,210.2 383.2,313.3 383.5,281.7 383.9,291.1 384.2,257.7 384.6,225.3 384.9,223.1 385.3,289.4 385.6,243.1 386.0,264.3 386.3,265.0 386.7,279.4 387.0,227.1 387.4,240.0 387.7,266.6 388.1,281.9 388.4,245.8 388.8,231.1 389.1,299.4 389.5,291.3 389.8,301.3 390.2,275.8 390.5,249.5 390.9,243.8 391.2,264.4 391.6,287.7 391.9,307.3 392.3,247.1 392.6,267.9 393.0,254.5 393.3,283.3 393.7,309.3 394.0,250.5 394.4,251.3 394.7,280.2 395.1,295.8 395.4,251.6 395.8,288.2 396.1,251.8 396.5,277.4 396.8,279.4 397.2,246.5 397.5,247.6 397.9,274.7 398.2,252.1 398.6,272.8 398.9,249.7 399.3,264.4 399.6,269.4 400.0,248.5 400.3,249.3 400.7,268.8 401.0,251.9 401.4,271.1 401.7,251.8 402.1,268.1 402.4,252.1 402.8,250.5 403.1,275.4 403.5,270.8 403.8,247.6 404.2,270.9 404.5,248.5 404.9,264.3 405.2,243.9 405.6,240.5 405.9,269.4 406.3,268.0 406.6,249.4 407.0,271.9 407.3,252.6 407.7,273.0 408.0,253.1 408.4,273.1 408.7,277.4 409.1,250.5 409.4,253.9 409.8,272.2 410.1,252.4 410.5,279.6 410.8,254.1 411.2,281.8 411.5,256.6 411.9,254.5 412.2,289.4 412.6,287.6 412.9,262.3 413.3,285.3 413.6,289.4 414.0,260.4 414.3,252.8 414.7,273.8 415.0,240.7 415.4,278.6 415.7,279.4 416.1,227.1 416.4,265.4 416.8,242.2 417.1,268.3 417.5,232.3 417.8,227.1 418.2,269.4 418.5,222.3 418.9,217.7 419.2,260.0 419.6,221.3 419.9,212.4 420.3,254.6 420.6,259.4 421.0,201.2 421.3,228.3 421.7,245.5 422.0,207.1 422.4,233.5 422.7,246.5 423.1,225.4 423.4,249.5 423.8,261.4 424.1,207.2 424.5,213.2 424.8,247.7 425.2,216.3 425.5,244.7 425.9,248.5 426.2,212.5 426.6,211.2 426.9,246.1 427.3,235.9 427.6,218.9 428.0,242.1 428.3,218.5 428.7,238.8 429.0,213.6 429.4,237.8 429.7,246.1 430.1,213.2 430.4,216.6 430.8,242.5 431.1,202.0 431.5,236.0 431.8,200.8 432.2,220.5 432.5,246.1 432.9,183.2 433.2,220.8 433.6,196.0 433.9,222.1 434.3,196.1 434.6,193.2 435.0,258.1 435.3,221.3 435.7,251.6 436.0,223.2 436.4,197.8 436.7,234.2 437.1,254.9 437.4,262.6 437.8,266.1 438.1,199.2 438.5,244.1 438.8,211.2 439.2,208.4 439.5,250.6 439.9,249.7 440.2,217.2 440.6,201.2 440.9,246.1 441.3,202.5 441.6,242.8 442.0,204.6 442.3,238.8 442.7,249.4 443.0,218.5 443.4,209.0 443.7,237.6 444.1,250.9 444.4,208.8 444.8,205.2 445.1,254.1 445.5,211.7 445.8,239.9 446.2,209.8 446.5,233.2 446.9,212.8 447.2,229.3 447.6,226.1 447.9,213.2 448.3,218.3 448.6,226.4 449.0,217.4 449.3,228.3 449.7,218.1 450.0,228.2 450.4,219.3 450.7,215.2 451.1,230.1 451.4,229.2 451.8,218.5 452.1,231.8 452.5,221.5 452.8,231.8 453.2,213.9 453.5,213.2 453.9,238.1 454.2,238.0 454.6,217.1 454.9,227.7 455.3,214.7 455.6,239.5 456.0,213.6 456.3,240.0 456.7,242.1 457.0,211.2 457.4,212.4 457.7,237.6 458.1,247.3 458.4,220.9 458.8,206.5 459.1,241.4 459.5,254.1 459.8,199.2 460.2,244.3 460.5,223.2 460.9,197.6 461.2,226.3 461.6,252.6 461.9,213.0 462.3,234.4 462.6,254.1 463.0,182.2 463.3,227.8 463.7,250.2 464.0,214.9 464.4,189.2 464.7,223.5 465.1,191.5 465.4,219.8 465.8,191.2 466.1,250.1 466.5,239.0 466.8,206.3 467.2,242.9 467.5,249.1 467.9,197.6 468.2,196.2 468.6,195.2 468.9,252.1 469.3,199.4 469.6,241.2 470.0,199.5 470.3,238.6 470.7,243.8 471.0,220.7 471.4,202.5 471.7,199.2 472.1,248.1 472.4,254.8 472.8,225.6 473.1,211.1 473.5,247.9 473.8,276.8 474.2,256.5 474.5,293.4 474.9,205.2 475.2,246.9 475.6,276.4 475.9,252.0 476.3,225.0 476.6,254.9 477.0,231.0 477.3,210.9 477.7,199.2 478.0,259.4 478.4,230.8 478.7,212.5 479.1,243.3 479.4,274.3 479.8,291.5 480.1,271.5 480.5,309.3 480.8,221.2 481.2,293.3 481.5,259.4 481.9,226.7 482.2,260.4 482.6,294.4 482.9,297.1 483.3,263.9 483.6,292.7 484.0,256.7 484.3,229.7 484.7,227.1 485.0,305.3 485.4,291.5 485.7,267.2 486.1,238.2 486.4,217.3 486.8,239.0 487.1,211.2 487.5,281.4 487.8,277.4 488.2,207.2 488.5,224.3 488.9,241.0 489.2,269.1 489.6,227.1 489.9,255.7 490.3,259.1 490.6,237.0 491.0,259.4 491.3,201.2 491.7,224.3 492.0,252.1 492.4,213.9 492.7,245.7 493.1,209.4 493.4,197.2 493.8,249.5 494.1,237.8 494.5,210.4 494.8,208.8 495.2,232.0 495.5,206.1 495.9,199.2 496.2,226.1 496.6,223.2 496.9,200.3 497.3,221.0 497.6,204.3 498.0,220.6 498.3,200.4 498.7,221.0 499.0,222.1 499.4,194.2 499.7,198.0 500.1,220.5 500.4,199.2 500.8,221.4 501.1,202.5 501.5,224.4 501.8,226.1 502.2,201.2 502.5,204.4 502.9,232.2 503.2,207.9 503.6,230.6 503.9,239.5 504.3,205.2 504.6,215.5 505.0,242.1 505.3,212.5 505.7,235.1 506.0,245.5 506.4,207.2 506.7,207.6 507.1,203.7 507.4,228.0 507.8,244.0 508.1,196.7 508.5,228.4 508.8,249.5 509.2,191.2 509.5,242.4 509.9,249.8 510.2,200.7 510.6,242.8 510.9,209.8 511.3,251.4 511.6,212.9 512.0,207.2 512.3,255.4 512.7,213.8 513.0,247.9 513.4,256.7 513.7,238.3 514.1,263.4 514.4,246.6 514.8,269.4 515.1,207.2 515.5,222.9 515.8,209.9 516.2,247.6 516.5,225.8 516.9,214.7 517.2,251.5 517.6,252.5 517.9,265.4 518.3,201.2 518.6,216.2 519.0,251.7 519.3,216.8 519.7,257.9 520.0,267.1 520.4,227.9 520.7,221.4 521.1,217.2 521.4,275.4 521.8,232.5 522.1,265.9 522.5,275.3 522.8,227.8 523.2,246.4 523.5,219.8 523.9,211.2 524.2,279.4 524.6,240.6 524.9,211.4 525.3,228.1 525.6,226.5 526.0,256.5 526.3,279.9 526.7,254.8 527.0,283.4 527.4,205.2 527.7,274.0 528.1,256.7 528.4,216.8 528.8,210.9 529.1,242.4 529.5,265.3 529.8,277.4 530.2,195.2 530.5,240.5 530.9,261.2 531.2,230.9 531.6,217.3 531.9,246.7 532.3,274.1 532.6,279.8 533.0,281.4 533.3,187.2 533.7,199.4 534.0,226.5 534.4,244.6 534.7,269.4 535.1,191.2 535.4,245.5 535.8,261.5 536.1,232.5 536.5,240.8 536.8,204.7 537.2,193.2 537.5,249.5 537.9,215.7 538.2,245.1 538.6,202.4 538.9,231.9 539.3,239.7 539.6,199.9 540.0,187.2 540.3,241.5 540.7,188.1 541.0,209.6 541.4,236.1 541.7,195.4 542.1,229.1 542.4,195.5 542.8,185.2 543.1,239.5 543.5,215.1 543.8,238.8 544.2,208.2 544.5,241.6 544.9,207.3 545.2,192.1 545.6,217.5 545.9,245.5 546.3,187.2 546.6,199.8 547.0,242.2 547.3,259.5 547.7,221.7 548.0,193.2 548.4,269.4 548.7,241.0 549.1,218.5 549.4,244.5 549.8,203.2 550.1,289.4 550.5,273.2 550.8,238.1 551.2,244.4 551.5,301.9 551.9,305.3 552.2,247.1 552.6,303.0 552.9,281.6 553.3,249.5 553.6,269.6 554.0,244.5 554.3,309.3 554.7,255.5 555.0,294.7 555.4,275.2 555.7,260.4 556.1,313.3 556.4,325.8 556.8,309.9 557.1,323.4 557.5,303.3 557.8,359.2 558.2,217.2 558.5,321.5 558.9,312.8 559.2,361.2 559.6,254.5 559.9,359.9 560.3,321.2 560.6,322.7 561.0,330.3 561.3,365.2 561.7,361.0 562.0,328.3 562.4,362.4 562.7,369.2 563.1,326.3 563.4,324.5 563.8,354.3 564.1,315.2 564.5,341.6 564.8,373.2 565.2,288.4 565.5,319.5 565.9,306.6 566.2,324.5 566.6,360.7 566.9,385.2 567.3,294.4 567.6,342.7 568.0,380.1 568.3,330.0 568.7,320.3 569.0,377.2 569.4,325.8 569.7,354.1 570.1,358.2 570.4,333.4 570.8,330.3 571.1,385.2 571.5,366.8 571.8,336.3 572.2,337.3 572.5,360.1 572.9,336.3 573.2,393.2 573.6,383.4 573.9,393.9 574.3,400.2 574.6,334.3 575.0,355.0 575.3,334.2 575.7,330.2 576.0,345.6 576.4,378.7 576.7,385.2 577.1,318.3 577.4,335.7 577.8,359.5 578.1,363.6 578.5,324.2 578.8,304.4 579.2,357.2 579.5,303.3 579.9,335.1 580.2,296.3 580.6,338.0 580.9,337.3 581.3,290.4 581.6,331.3 582.0,297.6 582.3,329.1 582.7,329.3 583.0,286.4 583.4,326.1 583.7,287.1 584.1,313.5 584.4,276.2 584.8,270.4 585.1,325.3 585.5,315.2 585.8,284.5 586.2,270.3 586.5,312.2 586.9,321.3 587.2,260.4 587.6,264.8 587.9,298.4 588.3,267.1 588.6,248.5 589.0,315.3 589.3,310.1 589.7,275.0 590.0,307.1 590.4,261.1 590.7,240.5 591.1,313.3 591.4,291.4 591.8,264.7 592.1,267.5 592.5,299.7 592.8,270.4 593.2,369.2 593.5,373.4 593.9,380.0 594.2,389.2 594.6,306.3 594.9,312.0 595.3,341.0 595.6,370.2 596.0,356.1 596.3,323.4 596.7,314.3 597.0,391.2 597.4,386.0 597.7,357.5 598.1,357.7 598.4,325.7 598.8,310.3 599.1,387.2 599.5,374.2 599.8,375.0 600.2,343.8 600.5,322.9 600.9,318.3 601.2,385.2 601.6,350.3 601.9,338.9 602.3,385.4 602.6,387.2 603.0,342.3 603.3,357.1 603.7,384.6 604.0,346.0 604.4,384.2 604.7,393.2 605.1,346.3 605.4,349.7 605.8,390.2 606.1,366.8 606.5,393.8 606.8,358.8 607.2,350.3 607.5,397.2 607.9,382.3 608.2,387.8 608.6,348.5 608.9,380.2 609.3,346.8 609.6,342.3 610.0,389.2 610.3,343.0 610.7,383.3 611.0,351.3 611.4,383.4 611.7,350.9 612.1,348.6 612.4,370.0 612.8,387.2 613.1,342.3 613.5,387.6 613.8,360.4 614.2,346.6 614.5,376.3 614.9,352.8 615.2,386.8 615.6,393.2 615.9,346.3 616.3,356.5 616.6,345.5 617.0,359.9 617.3,339.9 617.7,310.3 618.0,387.2 618.4,355.2 618.7,330.0 619.1,319.4 619.4,340.0 619.8,369.1 620.1,350.1 620.5,385.2 620.8,300.4 621.2,329.6 621.5,304.2 621.9,333.9 622.2,350.4 622.6,391.2 622.9,304.4 623.3,361.3 623.6,328.8 624.0,314.1 624.3,346.3 624.7,387.2 625.0,290.4 625.4,285.4 625.7,295.9 626.1,278.7 626.4,309.9 626.8,270.4 627.1,353.3 627.5,328.9 627.8,329.4 628.2,298.2 628.5,341.3 628.9,246.5 629.2,272.4 629.6,300.7 629.9,322.7 630.3,329.4 630.6,293.3 631.0,260.6 631.3,284.2 631.7,242.5 632.0,329.3 632.4,291.1 632.7,270.6 633.1,256.6 633.4,301.1 633.8,317.3 634.1,260.4 634.5,319.1 634.8,292.5 635.2,270.6 635.5,264.4 635.9,341.3 636.2,335.8 636.6,342.7 636.9,318.2 637.3,305.2 637.6,256.4 638.0,357.2 638.3,335.6 638.7,325.1 639.0,355.5 639.4,376.9 639.7,389.2 640.1,310.3 640.4,363.3 640.8,343.8 641.1,395.2 641.5,366.5 641.8,370.2 642.2,405.1 642.5,402.1 642.9,388.8 643.2,406.2 643.6,415.1 643.9,386.2 644.3,392.0 644.6,417.5 645.0,392.9 645.3,415.7 645.7,394.2 646.0,418.3 646.4,422.7 646.7,390.2 647.1,412.2 647.4,394.6 647.8,413.6 648.1,389.8 648.5,404.0 648.8,409.1 649.2,388.2 649.5,390.1 649.9,406.6 650.2,379.8 650.6,402.9 650.9,405.1 651.3,370.2 651.6,374.3 652.0,407.3 652.3,377.2 652.7,408.1 653.0,381.6 653.4,409.9 653.7,413.1 654.1,378.2 654.4,386.0 654.8,411.4 655.1,383.9 655.5,409.8 655.8,400.2 656.2,386.2 656.5,420.1 656.9,407.5 657.2,413.1 657.6,387.1 657.9,404.6 658.3,373.2 658.6,370.2 659.0,409.1 659.3,393.7 659.7,362.1 660.0,353.4 660.4,395.8 660.7,401.2 661.1,342.3 661.4,348.2 661.8,337.9 662.1,350.3 662.5,357.2 662.8,316.3 663.2,317.7 663.5,342.3 663.9,314.0 664.2,343.1 664.6,341.3 664.9,310.3 665.3,320.8 665.6,337.3 666.0,299.9 666.3,325.0 666.7,301.7 667.0,290.4 667.4,337.3 667.7,334.5 668.1,292.4 668.4,321.4 668.8,293.7 669.1,331.5 669.5,333.3 669.8,288.4 670.2,293.2 670.5,289.1 670.9,319.1 671.2,322.6 671.6,329.3 671.9,280.4 672.3,288.9 672.6,269.1 673.0,306.1 673.3,310.5 673.7,321.3 674.0,244.5 674.4,304.0 674.7,313.1 675.1,269.6 675.4,270.6 675.8,270.4 676.1,313.3 676.5,308.7 676.8,273.6 677.2,307.1 677.5,309.3 677.9,266.4 678.2,270.4 678.6,306.5 678.9,267.6 679.3,304.7 679.6,262.5 680.0,308.7 680.3,266.0 680.7,260.4 681.0,309.3 681.4,258.2 681.7,246.8 682.1,265.4 682.4,229.1 682.8,325.3 683.1,249.9 683.5,266.6 683.8,242.0 684.2,284.2 684.5,319.3 684.9,247.1 685.2,249.7 685.6,245.1 685.9,281.9 686.3,305.8 686.6,285.3 687.0,313.3 687.3,239.1 687.7,312.8 688.0,323.5 688.4,296.5 688.7,278.7 689.1,247.1 689.4,341.3 689.8,291.7 690.1,254.3 690.5,271.3 690.8,295.4 691.2,243.1 691.5,265.4 691.9,245.8 692.2,291.8 692.6,257.0 692.9,246.9 693.3,273.1 693.6,249.7 694.0,247.1 694.3,289.4 694.7,271.8 695.0,251.4 695.4,277.6 695.7,282.7 696.1,253.0 696.4,247.7 696.8,291.5 697.1,297.4 697.5,243.1 697.8,282.5 698.2,242.6 698.5,282.5 698.9,284.4 699.2,245.7 699.6,273.5 699.9,279.4 700.3,239.1 700.6,234.3 701.0,253.0 701.3,225.5 701.7,253.7 702.0,222.7 702.4,218.2 702.7,236.5 703.1,241.5 703.4,205.2 703.8,204.3 704.1,236.1 704.5,202.3 704.8,199.2 705.2,235.5 705.5,223.9 705.9,201.4 706.2,227.0 706.6,186.8 706.9,177.2 707.3,226.1 707.6,188.7 708.0,182.2 708.3,228.5 708.7,182.6 709.0,183.2 709.4,230.1 709.7,233.2 710.1,213.1 710.4,235.2 710.8,245.5 711.1,223.1 711.5,224.0 711.8,233.3 712.2,215.8 712.5,239.8 712.9,241.5 713.2,203.2 713.6,244.0 713.9,226.7 714.3,205.5 714.6,174.2 715.0,249.5 715.3,255.6 715.7,268.5 716.0,289.4 716.4,227.1 716.7,263.0 717.1,286.4 717.4,263.9 717.8,235.1 718.1,305.3 718.5,292.0 718.8,306.1 719.2,278.0 719.5,262.8 719.9,239.1 720.2,323.3 720.6,264.2 720.9,284.5 721.3,273.7 721.6,252.1 722.0,240.5 722.3,341.3 722.7,315.7 723.0,284.3 723.4,259.4 723.7,282.9 724.1,260.4 724.4,319.3 724.8,283.1 725.1,272.9 725.5,308.8 725.8,309.3 726.2,266.4 726.5,274.8 726.9,299.4 727.2,275.2 727.6,288.6 727.9,295.4 728.3,274.4 728.6,280.2 729.0,294.0 729.3,284.7 729.7,297.5 730.0,303.4 730.4,282.4 730.7,281.7 731.1,300.2 731.4,276.7 731.8,307.1 732.1,271.5 732.5,266.4 732.8,313.3 733.2,296.2 733.5,261.8 733.9,290.6 734.2,297.2 734.6,313.3 734.9,250.5 735.3,305.8 735.6,274.3 736.0,307.7 736.3,309.3 736.7,274.4 737.0,292.9 737.4,310.1 737.7,286.0 738.1,308.6 738.4,290.2 738.8,290.4 739.1,317.3 739.5,319.8 739.8,297.8 740.2,323.6 740.5,299.7 740.9,332.5 741.2,297.8 741.6,296.4 741.9,337.3 742.3,329.3 742.6,298.6 743.0,334.2 743.3,339.3 743.7,280.4 744.0,320.8 744.4,289.6 744.7,287.5 745.1,323.2 745.4,323.9 745.8,329.3 746.1,290.4 746.5,290.0 746.8,318.4 747.2,322.6 747.5,300.3 747.9,286.4 748.2,323.3 748.6,327.6 748.9,293.8 749.3,332.4 749.6,307.1 750.0,296.4 750.3,349.3 750.7,344.1 751.0,320.3 751.4,352.2 751.7,369.2 752.1,306.3 752.4,325.0 752.8,355.3 753.1,369.4 753.5,325.2 753.8,314.3 754.2,373.2 754.5,313.6 754.9,346.6 755.2,356.2 755.6,333.7 755.9,357.2 756.3,300.4 756.6,309.1 757.0,310.4 757.3,345.3 757.7,369.2 758.0,310.3 758.4,325.8 758.7,322.6 759.1,344.5 759.4,374.2 759.8,385.2 760.1,308.3 760.5,311.1 760.8,340.4 761.2,369.2 761.5,339.6 761.9,314.3 762.2,369.2 762.6,323.8 762.9,309.0 763.3,336.0 763.6,293.2 764.0,290.4 764.3,329.3 764.7,294.6 765.0,309.6 765.4,313.3 765.7,245.1 766.1,288.2 766.4,270.3 766.8,265.5 767.1,264.4 767.5,325.3 767.8,278.6 768.2,317.1 768.5,297.0 768.9,288.5 769.2,331.7 769.6,306.3 769.9,296.4 770.3,337.3 770.6,306.0 771.0,326.0 771.3,295.1 771.7,318.8 772.0,289.6 772.4,288.4 772.7,325.3 773.1,323.2 773.4,293.9 773.8,320.1 774.1,330.9 774.5,299.7 774.8,298.4 775.2,337.3 775.5,321.4 775.9,296.7 776.2,336.9 776.6,308.4 776.9,288.4 777.3,341.3 777.6,311.5 778.0,312.7 778.3,338.3 778.7,345.3 779.0,306.3 779.4,312.7 779.7,340.1 780.1,311.6 780.4,342.9 780.8,312.6 781.1,343.5 781.5,349.3 781.8,310.3 782.2,312.5 782.5,341.9 782.9,314.9 783.2,330.6 783.6,309.9 783.9,300.4 784.3,335.3 784.6,329.4 785.0,286.5 785.3,322.3 785.7,333.3 786.0,266.4 786.4,288.2 786.7,329.0 787.1,287.7 787.4,328.7 787.8,293.2 788.1,328.2 788.5,329.3 788.8,298.4 789.2,298.9 789.5,321.4 789.9,300.6 790.2,321.7 790.6,298.9 790.9,296.4 791.3,323.3 791.6,318.2 792.0,297.8 792.3,318.8 792.7,293.1 793.0,314.7 793.4,294.3 793.7,290.4 794.1,317.3 794.4,313.2 794.8,292.6 795.1,313.8 795.5,292.7 795.8,316.1 796.2,292.4 796.5,316.7 796.9,317.3 797.2,292.4 797.6,293.0 797.9,317.0 798.3,289.4 798.6,309.2 799.0,291.1 799.3,286.4 799.7,323.3 800.0,282.0 800.4,317.8 800.7,330.1 801.1,337.3 801.4,260.4 801.8,276.1 802.1,318.9 802.5,343.1 802.8,311.4 803.2,310.3 803.5,357.2 803.9,330.9 804.2,345.3 804.6,327.8 804.9,362.5 805.3,369.2 805.6,326.3 806.0,325.2 806.3,360.6 806.7,323.4 807.0,346.0 807.4,321.9 807.7,318.3 808.1,349.3 808.4,339.2 808.8,320.1 809.1,336.7 809.5,319.8 809.8,337.3 810.2,337.3 810.5,310.3 810.9,314.5 811.2,327.1 811.6,305.6 811.9,324.1 812.3,304.4 812.6,300.4 813.0,325.3 813.3,315.4 813.7,296.1 814.0,313.9 814.4,293.1 814.7,288.4 815.1,309.3 815.4,302.6 815.8,283.5 816.1,292.0 816.5,277.7 816.8,274.4 817.2,295.4 817.5,288.3 817.9,272.8 818.2,286.6 818.6,276.4 818.9,285.0 819.3,285.4 819.6,265.1 820.0,258.5 820.3,275.8 820.7,256.1 821.0,247.1 821.4,273.4 821.7,260.6 822.1,242.2 822.4,251.4 822.8,230.0 823.1,225.1 823.5,261.4 823.8,259.3 824.2,239.8 824.5,256.8 824.9,239.1 825.2,239.1 825.6,257.4 825.9,268.6 826.3,248.4 826.6,238.2 827.0,233.1 827.3,299.4 827.7,231.0 828.0,251.6 828.4,269.8 828.7,223.0 829.1,219.2 829.4,253.5 829.8,236.3 830.1,258.4 830.5,239.4 830.8,256.6 831.2,265.4 831.5,239.1 831.9,244.6 832.2,261.7 832.6,252.8 832.9,268.1 833.3,251.7 833.6,249.1 834.0,273.4 834.3,264.8 834.7,253.7 835.0,277.4 835.4,251.2 835.7,250.5 836.1,285.4 836.4,285.7 836.8,257.9 837.1,285.8 837.5,262.1 837.8,260.4 838.2,289.4 838.5,290.8 838.9,263.8 839.2,297.4 839.6,264.0 839.9,262.0 840.3,256.4 840.6,305.3 841.0,266.2 841.3,300.0 841.7,267.4 842.0,303.3 842.4,271.3 842.7,270.4 843.1,309.3 843.4,309.3 843.8,281.9 844.1,308.3 844.5,281.9 844.8,256.4 845.2,313.3 845.5,282.4 845.9,304.7 846.2,275.5 846.6,280.4 846.9,327.3 847.3,299.8 847.6,293.3 848.0,325.7 848.3,296.2 848.7,296.4 849.0,325.3 849.4,303.4 849.7,341.3 850.1,231.1 850.4,317.2 850.8,289.5 851.1,292.8 851.5,331.9 851.8,351.3 852.2,296.4 852.5,332.5 852.9,309.4 853.2,301.1 853.6,331.3 853.9,332.6 854.3,357.2 854.6,294.4 855.0,330.2 855.3,338.6 855.7,296.6 856.0,319.8 856.4,342.6 856.7,349.3 857.1,286.4 857.4,297.4 857.8,323.1 858.1,350.5 858.5,357.2 858.8,298.4 859.2,313.0 859.5,309.4 859.9,323.8 860.2,295.0 860.6,290.4 860.9,343.3 861.3,280.3 861.6,321.3 862.0,337.3 862.3,269.4 862.7,328.2 863.0,290.4 863.4,283.5 863.7,282.4 864.1,333.3 864.4,296.1 864.8,325.3 865.1,299.0 865.5,286.4 865.8,337.3 866.2,298.5 866.5,296.9 866.9,325.3 867.2,300.3 867.6,296.4 867.9,341.3 868.3,336.2 868.6,307.3 869.0,338.2 869.3,310.9 869.7,306.3 870.0,345.3 870.4,314.6 870.7,307.3 871.1,344.6 871.4,308.7 871.8,304.4 872.1,349.3 872.5,348.8 872.8,309.9 873.2,302.4 873.5,296.4 873.9,349.3 874.2,303.4 874.6,349.8 874.9,306.6 875.3,347.0 875.6,353.3 876.0,310.3 876.3,313.2 876.7,352.9 877.0,329.0 877.4,354.9 877.7,357.2 878.1,314.3 878.4,321.2 878.8,353.5 879.1,318.7 879.5,318.3 879.8,365.2 880.2,357.6 880.5,322.8 880.9,358.7 881.2,330.7 881.6,322.3 881.9,359.2 882.3,328.3 882.6,356.6 883.0,325.4 883.3,353.5 883.7,325.1 884.0,354.3 884.4,322.3 884.7,320.3 885.1,361.2 885.4,359.4 885.8,321.4 886.1,358.1 886.5,332.0 886.8,310.3 887.2,359.2 887.5,355.0 887.9,323.5 888.2,314.5 888.6,348.6 888.9,349.3 889.3,314.3 889.6,319.8 890.0,334.9 890.3,322.1 890.7,318.3 891.0,341.3 891.4,340.1 891.7,290.8 892.1,328.2 892.4,341.3 892.8,267.1 893.1,286.2 893.5,330.6 893.8,300.9 894.2,335.7 894.5,337.3 894.9,310.3 895.2,311.6 895.6,331.0 895.9,310.0 896.3,306.3 896.6,333.3 897.0,326.6 897.3,309.8 897.7,324.5 898.0,309.0 898.4,304.4 898.7,329.3 899.1,325.4 899.4,306.0 899.8,330.2 900.1,309.3 900.5,306.3 900.8,333.3 901.2,334.4 901.5,311.3 901.9,333.5 902.2,314.8 902.6,339.3 902.9,341.3 903.3,314.3 903.6,318.8 904.0,340.8 904.3,321.0 904.7,318.3 905.0,347.3 905.4,335.8 905.7,299.8 906.1,288.1 906.4,270.4 906.8,325.3 907.1,302.9 907.5,268.1 907.8,250.5 908.2,309.3 908.5,294.9 908.9,247.9 909.2,239.1 909.6,289.4 909.9,247.9 910.3,238.3 910.6,261.5 911.0,279.4 911.3,227.1 911.7,232.0 912.0,269.8 912.4,232.7 912.7,223.1 913.1,269.4 913.4,266.7 913.8,266.6 914.1,221.1 914.5,191.6 914.8,265.4 915.2,251.5 915.5,224.6 915.9,223.1 916.2,267.4 916.6,264.2 916.9,233.6 917.3,256.7 917.6,269.4 918.0,233.1 918.3,240.3 918.7,270.1 919.0,242.0 919.4,265.2 919.7,273.4 920.1,235.1 920.4,237.1 920.8,273.4 921.1,241.7 921.5,259.7 921.8,277.4 922.2,239.1 922.5,235.8 922.9,277.6 923.2,279.8 923.6,281.4 923.9,221.2 924.3,276.1 924.6,244.3 925.0,237.0 925.3,267.0 925.7,279.4 926.0,227.1 926.4,238.4 926.7,281.5 927.1,268.2 927.4,256.5 927.8,237.1 928.1,317.3 928.5,289.6 928.8,291.4 929.2,248.3 929.5,243.1 929.9,283.4 930.2,281.1 930.6,236.6 930.9,277.4 931.3,246.5 931.6,221.2 932.0,279.4 932.3,249.0 932.7,276.5 933.0,253.5 933.4,234.2 933.7,235.1 934.1,285.4 934.4,268.6 934.8,258.5 935.1,285.3 935.5,253.5 935.8,255.1 936.2,289.4 936.5,291.1 936.9,270.4 937.2,293.0 937.6,295.4 937.9,266.4 938.3,275.1 938.6,292.1 939.0,274.0 939.3,287.5 939.7,299.4 940.0,270.4 940.4,274.0 940.7,303.1 941.1,279.4 941.4,304.0 941.8,309.3 942.1,274.4 942.5,284.4 942.8,318.8 943.2,282.9 943.5,280.4 943.9,333.3 944.2,285.3 944.6,318.4 944.9,341.4 945.3,350.3 945.6,381.2 946.0,290.4 946.3,364.2 946.7,326.8 947.0,295.0 947.4,307.5 947.7,266.4 948.1,349.3 948.4,272.3 948.8,298.7 949.1,281.4 949.5,277.5 949.8,268.4 950.2,353.3 950.5,333.3 950.9,301.3 951.2,292.3 951.6,280.4 951.9,349.3 952.3,299.0 952.6,328.8 953.0,298.3 953.3,293.3 953.7,286.4 954.0,341.3 954.4,293.0 954.7,335.9 955.1,314.1 955.4,290.2 955.8,270.4 956.1,349.3 956.5,339.0 956.8,312.7 957.2,275.8 957.5,255.1 957.9,341.3 958.2,312.7 958.6,342.0 958.9,349.3 959.3,280.4 959.6,328.2 960.0,295.3 960.3,337.3 960.7,217.2 961.0,298.9 961.4,329.1 961.7,341.3 962.1,266.4 962.4,300.5 962.8,342.5 963.1,310.4 963.5,290.4 963.8,345.3 964.2,340.2 964.5,308.3 964.9,336.6 965.2,297.3 965.6,296.4 965.9,349.3 966.3,310.6 966.6,332.2 967.0,357.2 967.3,225.1 967.7,325.6 968.0,311.8 968.4,306.7 968.7,290.4 969.1,377.2 969.4,330.4 969.8,356.0 970.1,322.8 970.5,369.2 970.8,260.4 971.2,329.3 971.5,351.9 971.9,360.3 972.2,336.9 972.6,359.2 972.9,250.5 973.3,330.8 973.6,317.4 974.0,304.3" fill="none" stroke="#0000ff" stroke-width="1.2" stroke-linejoin="round"/>
<path d="M90.6,122.8 90.9,121.9 91.3,124.8 91.6,121.5 92.0,125.9 92.3,123.3 92.7,126.6 93.0,124.1 93.4,125.0 93.7,122.6 94.1,122.4 94.4,128.3 94.8,127.4 95.1,125.4 95.5,128.7 95.8,124.1 96.2,127.5 96.5,125.9 96.9,123.3 97.2,129.3 97.6,127.0 97.9,123.9 98.3,128.5 98.6,123.4 99.0,127.0 99.3,122.9 99.7,126.9 100.0,122.4 100.4,126.2 100.7,122.4 101.1,121.4 101.4,127.3 101.8,125.7 102.1,122.1 102.5,125.8 102.8,123.8 103.2,127.5 103.5,124.3 103.9,125.2 104.2,122.5 104.6,126.5 104.9,128.3 105.3,121.4 105.6,122.3 106.0,127.3 106.3,123.3 106.7,127.0 107.0,121.4 107.4,124.9 107.7,124.1 108.1,124.9 108.4,121.4 108.8,120.4 109.1,128.3 109.5,129.3 109.8,123.9 110.2,130.4 110.5,126.3 110.9,132.9 111.2,125.5 111.6,131.0 111.9,136.3 112.3,125.3 112.6,126.0 113.0,135.6 113.3,127.2 113.7,132.5 114.0,127.7 114.4,135.4 114.7,130.3 115.1,127.3 115.4,138.3 115.8,136.4 116.1,129.0 116.5,135.6 116.8,129.4 117.2,133.1 117.5,129.4 117.9,133.7 118.2,129.1 118.6,136.2 118.9,137.3 119.3,127.3 119.6,131.3 120.0,135.3 120.3,128.0 120.7,136.6 121.0,128.9 121.4,135.7 121.7,132.0 122.1,133.6 122.4,130.8 122.8,128.3 123.1,138.3 123.5,134.3 123.8,133.1 124.2,136.5 124.5,129.1 124.9,136.3 125.2,130.2 125.6,137.8 125.9,130.7 126.3,138.1 126.6,131.9 127.0,129.3 127.3,139.3 127.7,138.6 128.0,131.9 128.4,135.0 128.7,131.4 129.1,138.2 129.4,131.5 129.8,138.9 130.1,130.5 130.5,137.6 130.8,140.3 131.2,129.3 131.5,130.8 131.9,137.4 132.2,128.9 132.6,137.4 132.9,127.7 133.3,134.9 133.6,127.1 134.0,124.3 134.3,136.3 134.7,136.2 135.0,125.1 135.4,136.8 135.7,129.6 136.1,135.8 136.4,125.1 136.8,134.6 137.1,123.5 137.5,134.3 137.8,138.3 138.2,122.4 138.5,123.7 138.9,138.9 139.2,122.9 139.6,133.8 139.9,120.7 140.3,130.0 140.6,117.0 141.0,141.2 141.3,115.8 141.7,132.1 142.0,142.3 142.4,113.4 142.7,121.9 143.1,130.9 143.4,115.8 143.8,144.0 144.1,124.9 144.5,142.4 144.8,146.3 145.2,117.4 145.5,120.6 145.9,142.0 146.2,111.9 146.6,128.8 146.9,110.0 147.3,138.7 147.6,105.7 148.0,102.4 148.3,144.3 148.7,142.7 149.0,102.8 149.4,143.0 149.7,103.5 150.1,141.6 150.4,103.7 150.8,132.8 151.1,106.3 151.5,135.7 151.8,142.3 152.2,100.4 152.5,105.3 152.9,139.4 153.2,105.7 153.6,136.1 153.9,103.9 154.3,136.0 154.6,105.3 155.0,132.8 155.3,102.9 155.7,99.0 156.0,140.3 156.4,137.9 156.7,102.6 157.1,129.4 157.4,105.6 157.8,138.3 158.1,104.0 158.5,122.2 158.8,100.5 159.2,135.6 159.5,106.3 159.9,99.4 160.2,141.3 160.6,139.4 160.9,110.2 161.3,136.6 161.6,102.3 162.0,130.5 162.3,104.4 162.7,100.4 163.0,140.3 163.4,128.6 163.7,109.9 164.1,127.9 164.4,107.0 164.8,133.3 165.1,114.1 165.5,136.3 165.8,138.3 166.2,107.4 166.5,111.1 166.9,129.7 167.2,118.9 167.6,131.1 167.9,117.8 168.3,131.6 168.6,121.1 169.0,117.4 169.3,132.3 169.7,130.9 170.0,124.2 170.4,128.7 170.7,121.8 171.1,129.9 171.4,124.7 171.8,123.3 172.1,129.3 172.5,126.6 172.8,120.6 173.2,122.0 173.5,114.6 173.9,112.4 174.2,122.3 174.6,120.7 174.9,113.9 175.3,120.7 175.6,113.5 176.0,112.4 176.3,121.4 176.7,120.1 177.0,114.9 177.4,120.7 177.7,118.0 178.1,123.5 178.4,119.6 178.8,118.4 179.1,126.3 179.5,125.3 179.8,122.8 180.2,127.3 180.5,122.1 180.9,125.5 181.2,125.1 181.6,127.3 181.9,130.3 182.3,122.4 182.6,125.5 183.0,128.7 183.3,123.6 183.7,128.3 184.0,124.4 184.4,128.7 184.7,129.3 185.1,122.4 185.4,125.0 185.8,126.6 186.1,123.4 186.5,127.5 186.8,122.1 187.2,127.8 187.5,122.5 187.9,121.4 188.2,128.3 188.6,125.3 188.9,121.1 189.3,125.7 189.6,120.4 190.0,125.7 190.3,122.0 190.7,125.3 191.0,118.4 191.4,124.8 191.7,121.0 192.1,125.1 192.4,119.4 192.8,122.4 193.1,121.8 193.5,123.7 193.8,120.2 194.2,124.5 194.5,122.0 194.9,119.4 195.2,125.3 195.6,125.3 195.9,120.2 196.3,125.4 196.6,121.2 197.0,126.2 197.3,121.7 197.7,127.0 198.0,123.9 198.4,126.3 198.7,128.3 199.1,121.4 199.4,124.8 199.8,129.8 200.1,125.0 200.5,129.6 200.8,127.5 201.2,130.7 201.5,129.0 201.9,125.3 202.2,134.3 202.6,136.5 202.9,130.0 203.3,138.1 203.6,130.5 204.0,140.8 204.3,131.0 204.7,130.3 205.0,144.3 205.4,141.4 205.7,133.5 206.1,145.8 206.4,134.9 206.8,147.6 207.1,137.9 207.5,148.6 207.8,150.3 208.2,131.3 208.5,139.4 208.9,151.9 209.2,138.8 209.6,160.1 209.9,143.6 210.3,162.1 210.6,166.3 211.0,145.3 211.3,148.9 211.7,166.8 212.0,149.1 212.4,168.1 212.7,148.8 213.1,168.5 213.4,149.4 213.8,147.3 214.1,174.2 214.5,175.6 214.8,159.7 215.2,177.9 215.5,159.6 215.9,181.5 216.2,166.5 216.6,165.3 216.9,186.2 217.3,189.2 217.6,179.4 218.0,183.7 218.3,174.8 218.7,175.2 219.0,198.2 219.4,203.3 219.7,182.0 220.1,215.7 220.4,187.6 220.8,187.2 221.1,226.1 221.5,231.6 221.8,195.9 222.2,218.7 222.5,196.9 222.9,189.2 223.2,249.5 223.6,255.6 223.9,229.0 224.3,191.8 224.6,191.2 225.0,279.4 225.3,236.1 225.7,275.5 226.0,280.7 226.4,235.4 226.7,234.3 227.1,276.5 227.4,281.4 227.8,295.4 228.1,187.2 228.5,212.8 228.8,247.4 229.2,281.3 229.5,232.4 229.9,197.5 230.2,231.4 230.6,195.2 230.9,289.4 231.3,276.2 231.6,252.2 232.0,279.4 232.3,156.3 232.7,228.2 233.0,189.7 233.4,167.1 233.7,159.3 234.1,269.4 234.4,198.4 234.8,227.8 235.1,181.8 235.5,186.6 235.8,187.2 236.2,281.4 236.5,254.4 236.9,217.4 237.2,205.1 237.6,207.2 237.9,279.4 238.3,222.2 238.6,254.2 239.0,198.3 239.3,223.1 239.7,246.1 240.0,187.2 240.4,223.4 240.7,223.9 241.1,186.5 241.4,213.6 241.8,222.1 242.1,156.3 242.5,177.3 242.8,193.2 243.2,161.1 243.5,162.3 243.9,174.2 244.2,172.3 244.6,163.8 244.9,170.6 245.3,165.0 245.6,173.3 246.0,166.7 246.3,169.7 246.7,174.2 247.0,164.3 247.4,165.5 247.7,172.0 248.1,165.5 248.4,174.3 248.8,167.0 249.1,174.1 249.5,166.0 249.8,174.8 250.2,167.6 250.5,165.3 250.9,176.2 251.2,175.9 251.6,169.3 251.9,175.4 252.3,169.1 252.6,175.9 253.0,170.9 253.3,176.4 253.7,169.8 254.0,175.8 254.4,169.6 254.7,169.3 255.1,178.2 255.4,177.8 255.8,173.3 256.1,178.2 256.5,170.7 256.8,177.6 257.2,172.8 257.5,177.2 257.9,173.3 258.2,178.6 258.6,180.2 258.9,171.3 259.3,175.1 259.6,177.2 260.0,173.0 260.3,179.9 260.7,176.6 261.0,180.4 261.4,176.3 261.7,181.1 262.1,174.7 262.4,179.8 262.8,182.2 263.1,174.2 263.5,173.9 263.8,178.1 264.2,173.7 264.5,178.1 264.9,173.8 265.2,178.4 265.6,180.2 265.9,167.3 266.3,169.3 266.6,177.0 267.0,169.3 267.3,175.2 267.7,167.9 268.0,172.0 268.4,164.8 268.7,162.3 269.1,172.2 269.4,170.7 269.8,162.4 270.1,169.2 270.5,162.6 270.8,170.3 271.2,161.7 271.5,169.8 271.9,161.7 272.2,170.2 272.6,170.3 272.9,159.3 273.3,159.4 273.6,168.5 274.0,161.3 274.3,167.4 274.7,158.9 275.0,166.7 275.4,159.5 275.7,166.9 276.1,157.7 276.4,168.0 276.8,169.3 277.1,156.3 277.5,159.5 277.8,169.6 278.2,158.8 278.5,168.5 278.9,158.7 279.2,164.4 279.6,157.9 279.9,169.0 280.3,159.8 280.6,157.3 281.0,171.3 281.3,165.2 281.7,160.0 282.0,170.2 282.4,158.5 282.7,167.6 283.1,161.7 283.4,167.7 283.8,158.9 284.1,170.1 284.5,172.2 284.8,159.3 285.2,161.3 285.5,168.8 285.9,160.4 286.2,168.2 286.6,162.8 286.9,158.9 287.3,170.3 287.6,168.3 288.0,160.5 288.3,169.8 288.7,160.3 289.0,158.3 289.4,170.3 289.7,166.3 290.1,163.6 290.4,169.1 290.8,161.4 291.1,170.4 291.5,160.0 291.8,169.5 292.2,162.6 292.5,170.6 292.9,171.3 293.2,159.3 293.6,165.4 293.9,171.6 294.3,164.0 294.6,172.5 295.0,160.0 295.3,176.4 295.7,164.6 296.0,159.3 296.4,179.2 296.7,175.7 297.1,160.2 297.4,173.2 297.8,161.3 298.1,170.7 298.5,158.2 298.8,157.3 299.2,169.3 299.5,167.5 299.9,156.9 300.2,167.3 300.6,156.8 300.9,166.1 301.3,159.1 301.6,165.1 302.0,157.7 302.3,164.8 302.7,155.7 303.0,154.3 303.4,166.3 303.7,165.3 304.1,155.5 304.4,160.2 304.8,155.8 305.1,164.1 305.5,153.8 305.8,152.3 306.2,164.3 306.5,162.9 306.9,154.1 307.2,164.8 307.6,158.1 307.9,166.0 308.3,158.7 308.6,166.5 309.0,168.3 309.3,156.3 309.7,156.9 310.0,167.2 310.4,159.1 310.7,164.8 311.1,157.6 311.4,167.3 311.8,156.7 312.1,162.9 312.5,158.1 312.8,155.3 313.2,167.3 313.5,165.6 313.9,155.8 314.2,165.5 314.6,155.5 314.9,161.9 315.3,156.1 315.6,165.7 316.0,157.0 316.3,166.3 316.7,157.6 317.0,155.3 317.4,167.3 317.7,165.5 318.1,155.4 318.4,165.7 318.8,156.5 319.1,166.0 319.5,159.7 319.8,164.9 320.2,154.9 320.5,161.2 320.9,166.3 321.2,153.3 321.6,153.1 321.9,163.7 322.3,157.5 322.6,163.9 323.0,151.0 323.3,162.7 323.7,151.3 324.0,148.3 324.4,164.3 324.7,162.4 325.1,150.1 325.4,163.5 325.8,150.8 326.1,165.0 326.5,153.3 326.8,149.3 327.2,166.3 327.5,161.6 327.9,149.4 328.2,163.1 328.6,148.8 328.9,159.3 329.3,147.5 329.6,159.2 330.0,160.3 330.3,145.3 330.7,147.3 331.0,157.8 331.4,145.3 331.7,155.6 332.1,145.3 332.4,157.3 332.8,158.3 333.1,143.3 333.5,143.7 333.8,156.3 334.2,141.7 334.5,155.0 334.9,143.1 335.2,154.4 335.6,140.3 335.9,138.3 336.3,154.3 336.6,145.6 337.0,135.2 337.3,131.3 337.7,150.3 338.0,142.8 338.4,140.2 338.7,150.3 339.1,137.4 339.4,151.6 339.8,152.3 340.1,137.3 340.5,138.9 340.8,149.0 341.2,138.3 341.5,145.2 341.9,137.4 342.2,147.9 342.6,135.4 342.9,133.3 343.3,148.3 343.6,144.9 344.0,132.0 344.3,140.8 344.7,126.4 345.0,123.7 345.4,142.3 345.7,146.6 346.1,130.6 346.4,127.3 346.8,174.2 347.1,164.9 347.5,141.7 347.8,141.3 348.2,164.3 348.5,162.8 348.9,148.4 349.2,164.9 349.6,148.3 349.9,159.7 350.3,146.6 350.6,160.7 351.0,166.3 351.3,147.3 351.7,153.0 352.0,167.0 352.4,149.7 352.7,166.2 353.1,152.0 353.4,161.2 353.8,170.3 354.1,151.3 354.5,157.8 354.8,183.3 355.2,190.2 355.5,149.3 355.9,156.5 356.2,188.9 356.6,159.2 356.9,159.3 357.3,198.2 357.6,192.2 358.0,168.7 358.3,199.1 358.7,200.2 359.0,163.3 359.4,163.6 359.7,203.3 360.1,186.9 360.4,159.3 360.8,280.4 361.1,161.7 361.5,157.3 361.8,155.3 362.2,174.2 362.5,170.4 362.9,157.5 363.2,168.6 363.6,152.2 363.9,151.3 364.3,170.3 364.6,167.9 365.0,150.2 365.3,163.6 365.7,166.3 366.0,149.3 366.4,151.5 366.7,165.3 367.1,152.6 367.4,170.5 367.8,172.2 368.1,151.3 368.5,151.2 368.8,167.9 369.2,151.1 369.5,164.9 369.9,166.3 370.2,145.3 370.6,148.0 370.9,169.8 371.3,153.8 371.6,169.1 372.0,174.2 372.3,147.3 372.7,145.8 373.0,156.8 373.4,166.3 373.7,143.3 374.1,159.0 374.4,175.0 374.8,150.3 375.1,151.3 375.5,184.2 375.8,178.8 376.2,153.8 376.5,178.1 376.9,150.5 377.2,149.3 377.6,178.2 377.9,173.0 378.3,155.2 378.6,151.3 379.0,170.3 379.3,163.9 379.7,145.4 380.0,157.3 380.4,162.3 380.7,136.3 381.1,156.3 381.4,187.1 381.8,206.2 382.1,155.3 382.5,172.2 382.8,188.8 383.2,168.2 383.5,189.4 383.9,190.2 384.2,171.3 384.6,176.2 384.9,196.2 385.3,183.9 385.6,175.2 386.0,202.2 386.3,193.6 386.7,172.6 387.0,166.3 387.4,206.2 387.7,202.4 388.1,179.8 388.4,205.5 388.8,216.2 389.1,187.2 389.5,187.4 389.8,217.1 390.2,195.7 390.5,221.3 390.9,226.1 391.2,187.2 391.6,202.9 391.9,202.0 392.3,248.4 392.6,280.4 393.0,199.2 393.3,249.4 393.7,262.6 394.0,198.3 394.4,241.2 394.7,246.1 395.1,195.2 395.4,198.0 395.8,224.7 396.1,201.0 396.5,224.1 396.8,222.1 397.2,199.2 397.5,206.1 397.9,223.8 398.2,212.4 398.6,220.8 398.9,226.1 399.3,203.2 399.6,206.6 400.0,222.2 400.3,203.2 400.7,201.2 401.0,222.1 401.4,222.4 401.7,209.6 402.1,223.4 402.4,203.6 402.8,203.2 403.1,226.1 403.5,222.4 403.8,204.7 404.2,220.9 404.5,204.3 404.9,203.2 405.2,220.2 405.6,223.7 405.9,210.3 406.3,226.1 406.6,230.1 407.0,207.2 407.3,213.6 407.7,231.3 408.0,217.1 408.4,231.1 408.7,238.1 409.1,213.2 409.4,217.0 409.8,239.2 410.1,217.8 410.5,240.0 410.8,246.1 411.2,215.2 411.5,220.9 411.9,258.7 412.2,221.6 412.6,221.2 412.9,280.4 413.3,271.7 413.6,270.1 414.0,231.8 414.3,266.4 414.7,266.1 415.0,203.2 415.4,257.0 415.7,204.5 416.1,244.0 416.4,246.1 416.8,203.2 417.1,189.7 417.5,222.8 417.8,226.1 418.2,177.2 418.5,213.8 418.9,167.3 419.2,159.3 419.6,206.2 419.9,193.2 420.3,158.6 420.6,148.3 421.0,186.2 421.3,194.7 421.7,153.8 422.0,203.8 422.4,171.0 422.7,151.3 423.1,222.1 423.4,160.5 423.8,188.7 424.1,153.1 424.5,172.1 424.8,166.3 425.2,153.3 425.5,154.7 425.9,162.6 426.2,153.7 426.6,163.3 426.9,153.3 427.3,161.7 427.6,164.3 428.0,152.3 428.3,153.5 428.7,162.3 429.0,153.0 429.4,162.5 429.7,153.2 430.1,160.7 430.4,153.0 430.8,149.3 431.1,162.3 431.5,160.5 431.8,149.5 432.2,159.1 432.5,147.4 432.9,154.3 433.2,146.6 433.6,145.3 433.9,160.3 434.3,156.7 434.6,148.9 435.0,163.9 435.3,148.5 435.7,147.3 436.0,166.3 436.4,166.5 436.7,148.6 437.1,166.8 437.4,147.1 437.8,143.3 438.1,170.3 438.5,157.9 438.8,145.8 439.2,160.5 439.5,158.3 439.9,141.3 440.2,144.6 440.6,156.1 440.9,141.0 441.3,150.7 441.6,154.3 442.0,138.9 442.3,145.5 442.7,154.3 443.0,146.4 443.4,155.6 443.7,160.3 444.1,147.3 444.4,151.8 444.8,155.9 445.1,150.8 445.5,159.3 445.8,151.9 446.2,162.1 446.5,163.3 446.9,152.3 447.2,155.4 447.6,162.2 447.9,158.1 448.3,163.1 448.6,155.1 449.0,159.8 449.3,155.9 449.7,155.3 450.0,164.3 450.4,163.1 450.7,156.0 451.1,164.1 451.4,156.8 451.8,162.6 452.1,158.7 452.5,164.3 452.8,165.3 453.2,156.3 453.5,155.9 453.9,161.3 454.2,156.0 454.6,161.1 454.9,152.8 455.3,160.1 455.6,162.3 456.0,151.3 456.3,150.9 456.7,158.2 457.0,154.2 457.4,159.6 457.7,150.8 458.1,161.0 458.4,149.9 458.8,148.3 459.1,162.3 459.5,160.5 459.8,156.6 460.2,167.5 460.5,176.2 460.9,155.3 461.2,157.0 461.6,172.3 461.9,159.6 462.3,170.1 462.6,170.3 463.0,157.3 463.3,161.0 463.7,164.7 464.0,154.3 464.4,162.7 464.7,155.2 465.1,161.1 465.4,150.8 465.8,149.3 466.1,162.3 466.5,157.1 466.8,153.9 467.2,159.1 467.5,147.3 467.9,159.1 468.2,147.9 468.6,145.3 468.9,160.3 469.3,155.4 469.6,145.4 470.0,154.3 470.3,147.8 470.7,157.1 471.0,147.4 471.4,151.3 471.7,158.3 472.1,142.3 472.4,147.3 472.8,160.8 473.1,147.0 473.5,145.3 473.8,174.2 474.2,169.3 474.5,144.4 474.9,162.0 475.2,142.8 475.6,141.3 475.9,158.3 476.3,151.6 476.6,140.1 477.0,150.8 477.3,135.7 477.7,133.3 478.0,154.3 478.4,153.2 478.7,140.8 479.1,161.6 479.4,166.3 479.8,141.3 480.1,142.0 480.5,155.0 480.8,147.9 481.2,156.8 481.5,158.3 481.9,137.3 482.2,142.7 482.6,156.8 482.9,140.2 483.3,155.6 483.6,138.4 484.0,157.4 484.3,141.3 484.7,138.3 485.0,158.3 485.4,151.3 485.7,141.0 486.1,152.1 486.4,139.5 486.8,149.6 487.1,159.3 487.5,137.7 487.8,137.3 488.2,160.3 488.5,142.9 488.9,156.0 489.2,140.2 489.6,153.7 489.9,144.4 490.3,154.2 490.6,147.4 491.0,141.3 491.3,158.3 491.7,156.3 492.0,142.9 492.4,155.4 492.7,143.7 493.1,155.5 493.4,147.4 493.8,155.5 494.1,158.3 494.5,143.3 494.8,145.6 495.2,157.7 495.5,149.4 495.9,156.2 496.2,150.9 496.6,156.2 496.9,158.3 497.3,145.3 497.6,148.0 498.0,156.0 498.3,148.4 498.7,158.7 499.0,147.8 499.4,158.9 499.7,147.4 500.1,147.3 500.4,162.3 500.8,160.7 501.1,152.6 501.5,162.6 501.8,166.3 502.2,151.3 502.5,155.7 502.9,167.4 503.2,160.1 503.6,171.5 503.9,174.2 504.3,157.3 504.6,160.7 505.0,166.6 505.3,157.1 505.7,164.8 506.0,166.3 506.4,153.3 506.7,153.2 507.1,162.6 507.4,154.7 507.8,165.6 508.1,153.0 508.5,159.7 508.8,166.3 509.2,151.3 509.5,151.6 509.9,165.5 510.2,150.3 510.6,159.6 510.9,152.3 511.3,159.5 511.6,154.2 512.0,147.3 512.3,166.3 512.7,163.0 513.0,144.5 513.4,158.5 513.7,150.4 514.1,157.0 514.4,141.3 514.8,137.3 515.1,162.3 515.5,153.7 515.8,137.8 516.2,152.4 516.5,142.9 516.9,133.3 517.2,158.3 517.6,151.9 517.9,130.5 518.3,156.6 518.6,129.7 519.0,125.3 519.3,158.3 519.7,150.0 520.0,125.7 520.4,120.4 520.7,154.3 521.1,152.3 521.4,131.5 521.8,131.3 522.1,158.3 522.5,152.9 522.8,138.2 523.2,151.6 523.5,141.3 523.9,139.3 524.2,166.3 524.6,166.5 524.9,143.2 525.3,164.8 525.6,144.0 526.0,143.3 526.3,170.3 526.7,164.3 527.0,125.9 527.4,121.0 527.7,166.3 528.1,166.0 528.4,131.5 528.8,166.5 529.1,168.3 529.5,135.3 529.8,139.7 530.2,168.5 530.5,141.3 530.9,167.3 531.2,174.2 531.6,141.3 531.9,145.4 532.3,172.1 532.6,148.1 533.0,171.4 533.3,156.6 533.7,163.5 534.0,174.2 534.4,151.3 534.7,153.0 535.1,167.8 535.4,151.6 535.8,167.9 536.1,156.3 536.5,143.3 536.8,170.3 537.2,163.8 537.5,152.2 537.9,166.0 538.2,152.6 538.6,164.8 538.9,155.3 539.3,174.2 539.6,156.6 540.0,167.6 540.3,161.5 540.7,172.7 541.0,158.2 541.4,169.8 541.7,174.2 542.1,157.3 542.4,159.0 542.8,174.1 543.1,158.8 543.5,173.7 543.8,162.3 544.2,172.7 544.5,163.0 544.9,159.3 545.2,176.2 545.6,168.8 545.9,162.8 546.3,176.3 546.6,159.2 547.0,170.7 547.3,160.3 547.7,176.9 548.0,178.2 548.4,158.3 548.7,163.4 549.1,175.9 549.4,167.9 549.8,167.3 550.1,186.2 550.5,181.4 550.8,171.2 551.2,186.1 551.5,174.9 551.9,188.4 552.2,170.7 552.6,188.6 552.9,190.2 553.3,171.3 553.6,176.8 554.0,189.0 554.3,176.5 554.7,177.2 555.0,194.2 555.4,194.1 555.7,180.2 556.1,190.4 556.4,180.7 556.8,175.2 557.1,196.2 557.5,215.5 557.8,182.3 558.2,210.2 558.5,171.3 558.9,280.4 559.2,168.8 559.6,198.9 559.9,202.3 560.3,178.2 560.6,162.3 561.0,166.0 561.3,174.9 561.7,165.8 562.0,174.6 562.4,162.5 562.7,159.3 563.1,176.2 563.4,176.1 563.8,159.7 564.1,178.0 564.5,158.7 564.8,179.1 565.2,159.4 565.5,175.8 565.9,182.2 566.2,156.3 566.6,157.9 566.9,177.5 567.3,158.1 567.6,170.5 568.0,158.1 568.3,173.0 568.7,174.2 569.0,157.3 569.4,158.2 569.7,170.4 570.1,158.8 570.4,169.6 570.8,156.6 571.1,168.2 571.5,156.2 571.8,155.3 572.2,170.3 572.5,168.6 572.9,157.9 573.2,168.4 573.6,157.8 573.9,167.5 574.3,155.7 574.6,164.6 575.0,168.3 575.3,153.3 575.7,152.7 576.0,160.1 576.4,154.9 576.7,165.5 577.1,156.9 577.4,164.3 577.8,164.3 578.1,150.3 578.5,150.7 578.8,162.5 579.2,151.2 579.5,159.9 579.9,151.4 580.2,158.8 580.6,153.5 580.9,149.3 581.3,160.3 581.6,156.5 582.0,150.2 582.3,157.0 582.7,158.3 583.0,148.9 583.4,152.0 583.7,158.5 584.1,157.1 584.4,166.6 584.8,170.3 585.1,155.3 585.5,161.2 585.8,173.1 586.2,162.7 586.5,173.9 586.9,182.2 587.2,165.3 587.6,168.3 587.9,180.3 588.3,167.5 588.6,167.3 589.0,184.2 589.3,176.8 589.7,174.2 590.0,183.0 590.4,167.0 590.7,166.3 591.1,186.2 591.4,184.3 591.8,170.0 592.1,191.1 592.5,171.4 592.8,169.3 593.2,199.2 593.5,191.9 593.9,176.0 594.2,185.6 594.6,173.3 594.9,171.3 595.3,186.2 595.6,184.4 596.0,179.1 596.3,188.2 596.7,190.2 597.0,171.3 597.4,174.3 597.7,199.6 598.1,186.5 598.4,167.3 598.8,213.2 599.1,197.0 599.5,166.5 599.8,186.7 600.2,168.1 600.5,159.3 600.9,178.2 601.2,175.7 601.6,161.4 601.9,174.1 602.3,164.6 602.6,161.3 603.0,176.2 603.3,172.9 603.7,162.5 604.0,174.0 604.4,162.0 604.7,159.3 605.1,174.2 605.4,169.2 605.8,160.5 606.1,172.7 606.5,161.2 606.8,156.3 607.2,174.2 607.5,176.6 607.9,163.1 608.2,177.0 608.6,182.2 608.9,165.3 609.3,167.0 609.6,178.9 610.0,168.3 610.3,180.8 610.7,184.2 611.0,169.3 611.4,171.0 611.7,181.3 612.1,173.4 612.4,176.2 612.8,182.2 613.1,168.3 613.5,170.4 613.8,181.6 614.2,169.3 614.5,181.5 614.9,184.2 615.2,167.3 615.6,167.3 615.9,183.8 616.3,171.7 616.6,165.3 617.0,186.2 617.3,179.6 617.7,167.1 618.0,177.2 618.4,166.9 618.7,158.3 619.1,176.2 619.4,174.1 619.8,168.3 620.1,176.5 620.5,165.3 620.8,163.3 621.2,178.2 621.5,179.2 621.9,167.7 622.2,181.0 622.6,182.2 622.9,165.3 623.3,169.6 623.6,172.5 624.0,166.0 624.3,175.2 624.7,176.2 625.0,162.3 625.4,163.1 625.7,173.4 626.1,163.1 626.4,174.9 626.8,166.3 627.1,174.0 627.5,164.6 627.8,161.3 628.2,174.2 628.5,172.9 628.9,162.9 629.2,172.2 629.6,161.2 629.9,173.5 630.3,160.7 630.6,159.3 631.0,174.2 631.3,172.8 631.7,159.3 632.0,171.1 632.4,159.2 632.7,156.3 633.1,172.2 633.4,171.6 633.8,161.7 634.1,171.6 634.5,161.1 634.8,161.3 635.2,174.2 635.5,173.0 635.9,169.1 636.2,175.4 636.6,164.3 636.9,176.7 637.3,166.4 637.6,165.3 638.0,180.2 638.3,175.8 638.7,151.3 639.0,143.3 639.4,174.2 639.7,170.0 640.1,151.9 640.4,165.6 640.8,166.3 641.1,145.3 641.5,145.6 641.8,155.5 642.2,140.1 642.5,134.3 642.9,150.3 643.2,145.5 643.6,135.8 643.9,147.2 644.3,136.9 644.6,146.0 645.0,139.9 645.3,142.4 645.7,146.3 646.0,135.3 646.4,139.2 646.7,142.8 647.1,136.0 647.4,146.3 647.8,139.0 648.1,143.0 648.5,139.3 648.8,135.3 649.2,147.3 649.5,146.2 649.9,137.5 650.2,143.1 650.6,137.6 650.9,147.3 651.3,138.8 651.6,137.3 652.0,149.3 652.3,148.4 652.7,141.3 653.0,149.1 653.4,137.2 653.7,147.7 654.1,140.4 654.4,148.4 654.8,150.3 655.1,136.3 655.5,136.3 655.8,145.8 656.2,137.4 656.5,134.9 656.9,148.3 657.2,146.8 657.6,137.1 657.9,143.7 658.3,139.4 658.6,137.3 659.0,150.3 659.3,153.8 659.7,139.5 660.0,159.4 660.4,164.3 660.7,139.3 661.1,141.9 661.4,155.7 661.8,143.8 662.1,158.2 662.5,158.3 662.8,143.3 663.2,146.0 663.5,163.0 663.9,148.8 664.2,168.4 664.6,174.2 664.9,151.3 665.3,158.3 665.6,170.7 666.0,147.1 666.3,166.8 666.7,145.2 667.0,142.3 667.4,166.3 667.7,159.1 668.1,145.5 668.4,163.4 668.8,149.3 669.1,163.0 669.5,166.3 669.8,145.3 670.2,146.7 670.5,167.6 670.9,151.7 671.2,167.9 671.6,150.9 671.9,166.7 672.3,144.0 672.6,143.3 673.0,172.2 673.3,170.2 673.7,154.0 674.0,169.5 674.4,157.4 674.7,173.2 675.1,158.5 675.4,170.0 675.8,174.2 676.1,159.3 676.5,157.7 676.8,169.8 677.2,158.2 677.5,151.3 677.9,174.2 678.2,174.0 678.6,153.6 678.9,171.0 679.3,153.9 679.6,171.9 680.0,158.5 680.3,172.5 680.7,174.2 681.0,155.3 681.4,158.0 681.7,174.3 682.1,159.4 682.4,157.3 682.8,182.2 683.1,181.9 683.5,160.4 683.8,185.9 684.2,161.7 684.5,159.3 684.9,190.2 685.2,175.2 685.6,155.6 685.9,174.8 686.3,150.9 686.6,166.7 687.0,165.3 687.3,146.9 687.7,147.7 688.0,146.3 688.4,164.3 688.7,164.9 689.1,153.3 689.4,164.6 689.8,154.7 690.1,151.3 690.5,168.3 690.8,171.2 691.2,160.7 691.5,178.5 691.9,183.2 692.2,155.3 692.6,164.4 692.9,172.5 693.3,161.9 693.6,170.9 694.0,170.3 694.3,156.3 694.7,157.8 695.0,168.8 695.4,158.0 695.7,168.7 696.1,163.4 696.4,169.8 696.8,161.1 697.1,159.3 697.5,172.2 697.8,166.9 698.2,162.3 698.5,170.5 698.9,161.2 699.2,168.6 699.6,158.6 699.9,156.3 700.3,170.3 700.6,169.5 701.0,157.1 701.3,169.0 701.7,158.1 702.0,170.2 702.4,158.5 702.7,169.1 703.1,171.3 703.4,157.3 703.8,158.6 704.1,169.4 704.5,158.6 704.8,169.3 705.2,160.0 705.5,162.8 705.9,168.3 706.2,155.3 706.6,156.5 706.9,165.5 707.3,155.5 707.6,163.8 708.0,158.0 708.3,165.6 708.7,156.3 709.0,153.3 709.4,166.3 709.7,165.3 710.1,155.8 710.4,166.4 710.8,155.9 711.1,162.2 711.5,156.7 711.8,156.3 712.2,168.3 712.5,163.6 712.9,155.7 713.2,169.5 713.6,154.8 713.9,172.4 714.3,157.5 714.6,152.3 715.0,174.2 715.3,169.2 715.7,155.3 716.0,170.8 716.4,158.7 716.7,170.4 717.1,170.3 717.4,156.3 717.8,157.1 718.1,169.3 718.5,158.7 718.8,167.2 719.2,157.9 719.5,167.0 719.9,168.3 720.2,157.3 720.6,160.4 720.9,167.5 721.3,158.2 721.6,166.5 722.0,160.8 722.3,167.3 722.7,161.9 723.0,158.3 723.4,167.3 723.7,166.4 724.1,161.7 724.4,163.2 724.8,159.5 725.1,164.1 725.5,160.3 725.8,159.3 726.2,166.3 726.5,164.2 726.9,162.6 727.2,165.5 727.6,161.0 727.9,164.5 728.3,160.7 728.6,165.5 729.0,166.3 729.3,160.3 729.7,160.7 730.0,162.9 730.4,159.7 730.7,164.6 731.1,159.4 731.4,165.2 731.8,165.3 732.1,157.3 732.5,158.3 732.8,163.9 733.2,157.4 733.5,162.9 733.9,160.0 734.2,162.3 734.6,157.2 734.9,156.3 735.3,164.3 735.6,160.2 736.0,157.3 736.3,159.7 736.7,157.4 737.0,161.5 737.4,156.6 737.7,154.3 738.1,162.3 738.4,159.0 738.8,158.0 739.1,159.3 739.5,158.6 739.8,161.0 740.2,155.9 740.5,163.0 740.9,164.3 741.2,155.3 741.6,156.0 741.9,166.1 742.3,156.9 742.6,165.2 743.0,161.6 743.3,166.5 743.7,159.1 744.0,156.3 744.4,170.3 744.7,167.5 745.1,160.7 745.4,174.3 745.8,178.2 746.1,159.3 746.5,161.2 746.8,176.5 747.2,162.2 747.5,169.4 747.9,161.5 748.2,175.7 748.6,160.1 748.9,159.3 749.3,177.2 749.6,173.8 750.0,158.9 750.3,175.7 750.7,158.9 751.0,174.1 751.4,159.9 751.7,155.3 752.1,174.2 752.4,171.8 752.8,157.7 753.1,167.5 753.5,154.7 753.8,170.1 754.2,157.0 754.5,153.3 754.9,170.3 755.2,171.2 755.6,160.0 755.9,166.5 756.3,160.1 756.6,172.0 757.0,174.2 757.3,159.3 757.7,159.6 758.0,172.6 758.4,158.5 758.7,167.3 759.1,158.8 759.4,165.0 759.8,172.2 760.1,155.3 760.5,154.5 760.8,170.4 761.2,157.3 761.5,152.3 761.9,170.3 762.2,168.0 762.6,158.0 762.9,171.7 763.3,161.4 763.6,172.1 764.0,174.2 764.3,157.3 764.7,157.7 765.0,167.6 765.4,158.7 765.7,171.8 766.1,155.3 766.4,153.3 766.8,172.2 767.1,171.9 767.5,159.1 767.8,170.5 768.2,161.1 768.5,170.8 768.9,174.2 769.2,159.3 769.6,159.9 769.9,173.4 770.3,163.7 770.6,179.4 771.0,162.8 771.3,159.3 771.7,181.2 772.0,177.3 772.4,159.7 772.7,174.5 773.1,158.3 773.4,169.0 773.8,170.3 774.1,156.3 774.5,156.1 774.8,167.4 775.2,158.2 775.5,163.4 775.9,166.3 776.2,155.3 776.6,158.6 776.9,165.4 777.3,160.4 777.6,166.8 778.0,161.4 778.3,164.0 778.7,168.3 779.0,159.3 779.4,161.9 779.7,167.6 780.1,161.4 780.4,166.8 780.8,164.3 781.1,169.5 781.5,164.1 781.8,163.3 782.2,171.3 782.5,169.0 782.9,165.0 783.2,168.7 783.6,168.0 783.9,172.5 784.3,168.5 784.6,165.3 785.0,173.2 785.3,171.5 785.7,165.6 786.0,170.3 786.4,166.9 786.7,169.8 787.1,167.1 787.4,170.1 787.8,172.2 788.1,162.3 788.5,165.2 788.8,170.6 789.2,164.1 789.5,171.1 789.9,164.9 790.2,171.2 790.6,163.8 790.9,163.3 791.3,171.3 791.6,169.5 792.0,166.3 792.3,168.4 792.7,165.9 793.0,168.9 793.4,164.4 793.7,162.3 794.1,169.3 794.4,168.1 794.8,164.7 795.1,167.7 795.5,162.4 795.8,166.6 796.2,162.5 796.5,167.1 796.9,168.3 797.2,161.3 797.6,161.5 797.9,167.4 798.3,161.3 798.6,165.0 799.0,163.6 799.3,167.1 799.7,167.3 800.0,160.3 800.4,160.7 800.7,163.4 801.1,157.9 801.4,163.2 801.8,159.5 802.1,160.2 802.5,155.1 802.8,152.3 803.2,164.3 803.5,163.5 803.9,154.1 804.2,159.6 804.6,164.3 804.9,153.3 805.3,157.3 805.6,164.7 806.0,157.4 806.3,164.2 806.7,160.9 807.0,165.2 807.4,160.6 807.7,158.3 808.1,168.3 808.4,166.1 808.8,158.0 809.1,166.9 809.5,159.9 809.8,164.9 810.2,159.4 810.5,162.9 810.9,166.3 811.2,156.3 811.6,157.7 811.9,163.9 812.3,158.1 812.6,164.7 813.0,158.3 813.3,162.1 813.7,165.3 814.0,157.3 814.4,157.8 814.7,163.1 815.1,158.3 815.4,165.4 815.8,158.6 816.1,164.8 816.5,158.7 816.8,157.3 817.2,166.3 817.5,164.9 817.9,159.9 818.2,165.7 818.6,161.0 818.9,164.8 819.3,161.4 819.6,158.3 820.0,166.3 820.3,165.4 820.7,159.8 821.0,165.3 821.4,157.8 821.7,163.4 822.1,157.9 822.4,161.9 822.8,166.3 823.1,156.3 823.5,160.4 823.8,164.1 824.2,156.9 824.5,161.5 824.9,155.8 825.2,162.9 825.6,164.3 825.9,155.3 826.3,157.4 826.6,163.1 827.0,154.3 827.3,162.5 827.7,153.5 828.0,160.0 828.4,152.8 828.7,150.3 829.1,162.3 829.4,157.7 829.8,153.6 830.1,162.1 830.5,155.4 830.8,162.4 831.2,157.2 831.5,155.3 831.9,164.3 832.2,162.2 832.6,157.7 832.9,163.8 833.3,156.4 833.6,162.5 834.0,158.0 834.3,162.0 834.7,163.3 835.0,155.3 835.4,159.0 835.7,163.4 836.1,157.2 836.4,162.6 836.8,159.2 837.1,163.4 837.5,156.2 837.8,155.3 838.2,164.3 838.5,163.3 838.9,157.2 839.2,165.3 839.6,158.2 839.9,164.2 840.3,160.4 840.6,157.3 841.0,166.3 841.3,163.5 841.7,160.1 842.0,166.6 842.4,164.6 842.7,161.3 843.1,170.3 843.4,172.5 843.8,165.5 844.1,170.1 844.5,164.2 844.8,163.3 845.2,178.2 845.5,172.0 845.9,166.4 846.2,174.7 846.6,170.6 846.9,167.3 847.3,176.2 847.6,178.0 848.0,164.5 848.3,176.6 848.7,162.2 849.0,159.3 849.4,183.2 849.7,174.3 850.1,153.3 850.4,164.7 850.8,166.3 851.1,145.3 851.5,145.5 851.8,158.6 852.2,146.3 852.5,143.3 852.9,158.3 853.2,156.4 853.6,142.9 853.9,155.3 854.3,144.1 854.6,140.3 855.0,158.3 855.3,154.5 855.7,147.3 856.0,149.3 856.4,144.6 856.7,137.3 857.1,157.3 857.4,151.5 857.8,140.6 858.1,136.7 858.5,158.3 858.8,158.4 859.2,146.6 859.5,160.2 859.9,142.8 860.2,143.3 860.6,164.3 860.9,168.8 861.3,155.0 861.6,175.0 862.0,167.4 862.3,159.3 862.7,182.2 863.0,178.3 863.4,166.8 863.7,178.5 864.1,186.2 864.4,165.3 864.8,166.9 865.1,187.4 865.5,174.8 865.8,182.6 866.2,190.2 866.5,167.3 866.9,171.6 867.2,185.8 867.6,169.6 867.9,176.3 868.3,184.2 868.6,165.3 869.0,168.4 869.3,182.7 869.7,169.4 870.0,180.7 870.4,182.2 870.7,166.3 871.1,167.0 871.4,181.9 871.8,168.8 872.1,165.3 872.5,184.2 872.8,185.8 873.2,167.0 873.5,189.6 873.9,167.8 874.2,167.3 874.6,194.2 874.9,185.8 875.3,158.6 875.6,182.7 876.0,157.0 876.3,149.3 876.7,182.2 877.0,174.0 877.4,149.1 877.7,166.7 878.1,166.3 878.4,147.3 878.8,148.3 879.1,163.0 879.5,149.5 879.8,162.9 880.2,148.7 880.5,146.3 880.9,164.3 881.2,163.4 881.6,148.3 881.9,162.4 882.3,155.6 882.6,147.3 883.0,166.3 883.3,164.2 883.7,151.0 884.0,166.4 884.4,151.8 884.7,148.3 885.1,168.3 885.4,166.0 885.8,152.0 886.1,164.6 886.5,153.6 886.8,147.3 887.2,166.3 887.5,163.1 887.9,147.6 888.2,165.1 888.6,150.7 888.9,147.3 889.3,170.3 889.6,173.2 890.0,163.3 890.3,177.0 890.7,186.2 891.0,151.3 891.4,157.4 891.7,174.8 892.1,159.2 892.4,181.6 892.8,182.2 893.1,159.3 893.5,166.1 893.8,176.6 894.2,160.0 894.5,171.1 894.9,174.2 895.2,155.3 895.6,156.7 895.9,169.4 896.3,153.8 896.6,151.3 897.0,170.3 897.3,166.5 897.7,151.4 898.0,166.3 898.4,166.3 898.7,145.3 899.1,148.6 899.4,163.3 899.8,147.6 900.1,163.2 900.5,148.0 900.8,146.3 901.2,164.3 901.5,163.5 901.9,151.3 902.2,164.4 902.6,150.9 902.9,147.3 903.3,166.3 903.6,163.8 904.0,153.6 904.3,168.8 904.7,170.3 905.0,149.3 905.4,154.5 905.7,171.0 906.1,158.7 906.4,172.9 906.8,174.2 907.1,159.3 907.5,160.4 907.8,175.0 908.2,166.1 908.5,175.2 908.9,178.2 909.2,161.3 909.6,165.2 909.9,178.3 910.3,163.2 910.6,162.3 911.0,186.2 911.3,187.1 911.7,170.8 912.0,187.8 912.4,172.3 912.7,171.3 913.1,190.2 913.4,185.5 913.8,172.6 914.1,187.0 914.5,174.8 914.8,173.2 915.2,189.2 915.5,184.6 915.9,174.4 916.2,183.4 916.6,186.2 916.9,173.2 917.3,173.7 917.6,180.4 918.0,175.0 918.3,184.4 918.7,186.2 919.0,171.3 919.4,177.3 919.7,183.2 920.1,170.6 920.4,182.4 920.8,184.2 921.1,169.3 921.5,169.3 921.8,175.9 922.2,168.6 922.5,181.6 922.9,182.2 923.2,165.3 923.6,173.8 923.9,182.0 924.3,167.7 924.6,167.3 925.0,184.2 925.3,179.5 925.7,168.5 926.0,180.2 926.4,169.2 926.7,166.3 927.1,182.2 927.4,183.2 927.8,172.0 928.1,183.3 928.5,171.5 928.8,169.3 929.2,186.2 929.5,186.2 929.9,172.8 930.2,184.0 930.6,188.2 930.9,171.3 931.3,178.3 931.6,193.9 932.0,176.0 932.3,175.2 932.7,200.2 933.0,193.6 933.4,180.9 933.7,187.6 934.1,181.4 934.4,177.2 934.8,186.2 935.1,184.2 935.5,178.7 935.8,184.7 936.2,179.7 936.5,177.2 936.9,186.2 937.2,184.8 937.6,177.9 937.9,184.6 938.3,178.1 938.6,184.1 939.0,179.0 939.3,182.2 939.7,184.2 940.0,176.2 940.4,175.9 940.7,180.5 941.1,175.7 941.4,182.1 941.8,174.2 942.1,181.5 942.5,172.1 942.8,170.3 943.2,184.2 943.5,178.6 943.9,174.4 944.2,177.4 944.6,182.2 944.9,169.3 945.3,170.2 945.6,180.8 946.0,172.3 946.3,180.1 946.7,172.1 947.0,180.1 947.4,170.0 947.7,167.3 948.1,182.2 948.4,181.8 948.8,169.4 949.1,182.6 949.5,171.5 949.8,184.4 950.2,176.0 950.5,168.3 950.9,186.2 951.2,180.1 951.6,176.2 951.9,183.9 952.3,169.5 952.6,178.2 953.0,169.7 953.3,183.7 953.7,184.2 954.0,169.3 954.4,172.4 954.7,182.9 955.1,173.7 955.4,184.8 955.8,175.8 956.1,183.1 956.5,186.2 956.8,171.3 957.2,170.8 957.5,186.8 957.9,171.6 958.2,187.5 958.6,172.5 958.9,180.2 959.3,171.2 959.6,167.3 960.0,190.2 960.3,186.4 960.7,169.0 961.0,185.7 961.4,168.8 961.7,180.4 962.1,169.0 962.4,182.5 962.8,182.2 963.1,166.3 963.5,169.1 963.8,178.9 964.2,170.3 964.5,176.2 964.9,167.7 965.2,181.6 965.6,182.2 965.9,167.3 966.3,167.2 966.6,179.6 967.0,166.9 967.3,175.4 967.7,180.2 968.0,164.3 968.4,167.3 968.7,176.8 969.1,167.7 969.4,177.1 969.8,171.6 970.1,177.2 970.5,182.2 970.8,167.3 971.2,167.7 971.5,180.8 971.9,171.7 972.2,174.5 972.6,167.5 972.9,179.0 973.3,166.7" fill="none" stroke="#000000" stroke-width="1.2" stroke-linejoin="round"/>
</g>
<g clip-path="url(#c2)">
<rect x="88.50" y="637.0" width="10.98" height="469.0" fill="#808080" fill-opacity="0.2"/>
<rect x="97.48" y="637.0" width="10.98" height="469.0" fill="#90ee90" fill-opacity="0.25"/>
<rect x="106.46" y="637.0" width="10.98" height="469.0" fill="#90ee90" fill-opacity="0.25"/>
<rect x="115.43" y="637.0" width="10.98" height="469.0" fill="#808080" fill-opacity="0.2"/>
<rect x="124.41" y="637.0" width="10.98" height="469.0" fill="#808080" fill-opacity="0.2"/>
<rect x="133.39" y="637.0" width="10.98" height="469.0" fill="#808080" fill-opacity="0.2"/>
<rect x="142.37" y="637.0" width="10.98" height="469.0" fill="#808080" fill-opacity="0.2"/>
<rect x="151.35" y="637.0" width="10.98" height="469.0" fill="#808080" fill-opacity="0.2"/>
<rect x="160.32" y="637.0" width="10.98" height="469.0" fill="#808080" fill-opacity="0.2"/>
<rect x="169.30" y="637.0" width="10.98" height="469.0" fill="#90ee90" fill-opacity="0.25"/>
<rect x="178.28" y="637.0" width="10.98" height="469.0" fill="#90ee90" fill-opacity="0.25"/>
<rect x="187.26" y="637.0" width="10.98" height="469.0" fill="#90ee90" fill-opacity="0.25"/>
<rect x="196.24" y="637.0" width="10.98" height="469.0" fill="#808080" fill-opacity="0.2"/>
<rect x="205.21" y="637.0" width="10.98" height="469.0" fill="#808080" fill-opacity="0.2"/>
<rect x="214.19" y="637.0" width="10.98" height="469.0" fill="#90ee90" fill-opacity="1"/>
<rect x="223.17" y="637.0" width="10.98" height="469.0" fill="#90ee90" fill-opacity="0.25"/>
<rect x="232.15" y="637.0" width="10.98" height="469.0" fill="#808080" fill-opacity="0.2"/>
<rect x="241.13" y="637.0" width="10.98" height="469.0" fill="#90ee90" fill-opacity="1"/>
<rect x="250.10" y="637.0" width="10.98" height="469.0" fill="#808080" fill-opacity="0.2"/>
<rect x="259.08" y="637.0" width="10.98" height="469.0" fill="#90ee90" fill-opacity="0.25"/>
<rect x="268.06" y="637.0" width="10.98" height="469.0" fill="#90ee90" fill-opacity="0.25"/>
<rect x="277.04" y="637.0" width="10.98" height="469.0" fill="#90ee90" fill-opacity="0.25"/>
<rect x="286.02" y="637.0" width="10.98" height="469.0" fill="#90ee90" fill-opacity="0.25"/>
<rect x="294.99" y="637.0" width="10.98" height="469.0" fill="#90ee90" fill-opacity="0.25"/>
<rect x="303.97" y="637.0" width="10.98" height="469.0" fill="#90ee90" fill-opacity="0.25"/>
<rect x="312.95" y="637.0" width="10.98" height="469.0" fill="#90ee90" fill-opacity="1"/>
<rect x="321.93" y="637.0" width="10.98" height="469.0" fill="#90ee90" fill-opacity="1"/>
<rect x="330.91" y="637.0" width="10.98" height="469.0" fill="#90ee90" fill-opacity="1"/>
<rect x="339.88" y="637.0" width="10.98" height="469.0" fill="#90ee90" fill-opacity="1"/>
<rect x="348.86" y="637.0" width="10.98" height="469.0" fill="#90ee90" fill-opacity="1"/>
<rect x="357.84" y="637.0" width="10.98" height="469.0" fill="#90ee90" fill-opacity="1"/>
<rect x="366.82" y="637.0" width="10.98" height="469.0" fill="#90ee90" fill-opacity="1"/>
<rect x="375.80" y="637.0" width="10.98" height="469.0" fill="#90ee90" fill-opacity="1"/>
<rect x="384.77" y="637.0" width="10.98" height="469.0" fill="#90ee90" fill-opacity="1"/>
<rect x="393.75" y="637.0" width="10.98" height="469.0" fill="#90ee90" fill-opacity="1"/>
<rect x="402.73" y="637.0" width="10.98" height="469.0" fill="#90ee90" fill-opacity="1"/>
<rect x="411.71" y="637.0" width="10.98" height="469.0" fill="#90ee90" fill-opacity="1"/>
<rect x="420.69" y="637.0" width="10.98" height="469.0" fill="#90ee90" fill-opacity="1"/>
<rect x="429.66" y="637.0" width="10.98" height="469.0" fill="#90ee90" fill-opacity="0.25"/>
<rect x="438.64" y="637.0" width="10.98" height="469.0" fill="#90ee90" fill-opacity="1"/>
<rect x="447.62" y="637.0" width="10.98" height="469.0" fill="#90ee90" fill-opacity="0.25"/>
<rect x="456.60" y="637.0" width="10.98" height="469.0" fill="#90ee90" fill-opacity="1"/>
<rect x="465.58" y="637.0" width="10.98" height="469.0" fill="#90ee90" fill-opacity="0.25"/>
<rect x="474.55" y="637.0" width="10.98" height="469.0" fill="#90ee90" fill-opacity="1"/>
<rect x="483.53" y="637.0" width="10.98" height="469.0" fill="#90ee90" fill-opacity="1"/>
<rect x="492.51" y="637.0" width="10.98" height="469.0" fill="#90ee90" fill-opacity="1"/>
<rect x="501.49" y="637.0" width="10.98" height="469.0" fill="#90ee90" fill-opacity="1"/>
<rect x="510.47" y="637.0" width="10.98" height="469.0" fill="#90ee90" fill-opacity="1"/>
<rect x="519.44" y="637.0" width="10.98" height="469.0" fill="#90ee90" fill-opacity="1"/>
<rect x="528.42" y="637.0" width="10.98" height="469.0" fill="#90ee90" fill-opacity="1"/>
<rect x="537.40" y="637.0" width="10.98" height="469.0" fill="#90ee90" fill-opacity="1"/>
<rect x="546.38" y="637.0" width="10.98" height="469.0" fill="#90ee90" fill-opacity="1"/>
<rect x="555.36" y="637.0" width="10.98" height="469.0" fill="#90ee90" fill-opacity="1"/>
<rect x="564.33" y="637.0" width="10.98" height="469.0" fill="#90ee90" fill-opacity="1"/>
<rect x="573.31" y="637.0" width="10.98" height="469.0" fill="#90ee90" fill-opacity="0.25"/>
<rect x="582.29" y="637.0" width="10.98" height="469.0" fill="#90ee90" fill-opacity="0.25"/>
<rect x="591.27" y="637.0" width="10.98" height="469.0" fill="#90ee90" fill-opacity="0.25"/>
<rect x="600.25" y="637.0" width="10.98" height="469.0" fill="#90ee90" fill-opacity="0.25"/>
<rect x="609.22" y="637.0" width="10.98" height="469.0" fill="#90ee90" fill-opacity="1"/>
<rect x="618.20" y="637.0" width="10.98" height="469.0" fill="#90ee90" fill-opacity="1"/>
<rect x="627.18" y="637.0" width="10.98" height="469.0" fill="#90ee90" fill-opacity="1"/>
<rect x="636.16" y="637.0" width="10.98" height="469.0" fill="#90ee90" fill-opacity="1"/>
<rect x="645.14" y="637.0" width="10.98" height="469.0" fill="#90ee90" fill-opacity="1"/>
<rect x="654.11" y="637.0" width="10.98" height="469.0" fill="#90ee90" fill-opacity="1"/>
<rect x="663.09" y="637.0" width="10.98" height="469.0" fill="#90ee90" fill-opacity="1"/>
<rect x="672.07" y="637.0" width="10.98" height="469.0" fill="#90ee90" fill-opacity="1"/>
<rect x="681.05" y="637.0" width="10.98" height="469.0" fill="#90ee90" fill-opacity="0.25"/>
<rect x="690.03" y="637.0" width="10.98" height="469.0" fill="#90ee90" fill-opacity="1"/>
<rect x="699.00" y="637.0" width="10.98" height="469.0" fill="#90ee90" fill-opacity="1"/>
<rect x="707.98" y="637.0" width="10.98" height="469.0" fill="#90ee90" fill-opacity="1"/>
<rect x="716.96" y="637.0" width="10.98" height="469.0" fill="#90ee90" fill-opacity="1"/>
<rect x="725.94" y="637.0" width="10.98" height="469.0" fill="#90ee90" fill-opacity="1"/>
<rect x="734.92" y="637.0" width="10.98" height="469.0" fill="#90ee90" fill-opacity="1"/>
<rect x="743.89" y="637.0" width="10.98" height="469.0" fill="#90ee90" fill-opacity="1"/>
<rect x="752.87" y="637.0" width="10.98" height="469.0" fill="#90ee90" fill-opacity="0.25"/>
<rect x="761.85" y="637.0" width="10.98" height="469.0" fill="#90ee90" fill-opacity="1"/>
<rect x="770.83" y="637.0" width="10.98" height="469.0" fill="#90ee90" fill-opacity="0.25"/>
<rect x="779.81" y="637.0" width="10.98" height="469.0" fill="#90ee90" fill-opacity="0.25"/>
<rect x="788.78" y="637.0" width="10.98" height="469.0" fill="#90ee90" fill-opacity="1"/>
<rect x="797.76" y="637.0" width="10.98" height="469.0" fill="#90ee90" fill-opacity="1"/>
<rect x="806.74" y="637.0" width="10.98" height="469.0" fill="#90ee90" fill-opacity="0.25"/>
<rect x="815.72" y="637.0" width="10.98" height="469.0" fill="#90ee90" fill-opacity="0.25"/>
<rect x="824.70" y="637.0" width="10.98" height="469.0" fill="#808080" fill-opacity="0.2"/>
<rect x="833.67" y="637.0" width="10.98" height="469.0" fill="#808080" fill-opacity="0.2"/>
<rect x="842.65" y="637.0" width="10.98" height="469.0" fill="#90ee90" fill-opacity="1"/>
<rect x="851.63" y="637.0" width="10.98" height="469.0" fill="#90ee90" fill-opacity="1"/>
<rect x="860.61" y="637.0" width="10.98" height="469.0" fill="#90ee90" fill-opacity="1"/>
<rect x="869.59" y="637.0" width="10.98" height="469.0" fill="#90ee90" fill-opacity="0.25"/>
<rect x="878.56" y="637.0" width="10.98" height="469.0" fill="#90ee90" fill-opacity="1"/>
<rect x="887.54" y="637.0" width="10.98" height="469.0" fill="#808080" fill-opacity="0.2"/>
<rect x="896.52" y="637.0" width="10.98" height="469.0" fill="#808080" fill-opacity="0.2"/>
<rect x="905.50" y="637.0" width="10.98" height="469.0" fill="#808080" fill-opacity="0.2"/>
<rect x="914.48" y="637.0" width="10.98" height="469.0" fill="#808080" fill-opacity="0.2"/>
<rect x="923.45" y="637.0" width="10.98" height="469.0" fill="#808080" fill-opacity="0.2"/>
<rect x="932.43" y="637.0" width="10.98" height="469.0" fill="#808080" fill-opacity="0.2"/>
<rect x="941.41" y="637.0" width="10.98" height="469.0" fill="#808080" fill-opacity="0.2"/>
<rect x="950.39" y="637.0" width="10.98" height="469.0" fill="#808080" fill-opacity="0.2"/>
<rect x="959.37" y="637.0" width="10.98" height="469.0" fill="#808080" fill-opacity="0.2"/>
<path d="M90.4,994.2 91.2,987.9 92.1,987.6 93.2,978.3 93.8,981.0 94.6,979.3 95.8,983.7 96.3,983.5 97.2,989.9 98.4,990.4 98.9,987.6 99.7,975.6 100.5,970.7 101.4,970.2 102.7,976.3 103.1,970.7 104.0,971.9 105.1,965.3 105.7,975.7 106.6,982.8 107.4,989.8 108.3,994.2 109.1,987.1 109.9,973.6 110.5,969.9 111.6,979.4 112.6,992.3 113.3,990.7 114.1,995.3 115.2,1023.5 115.9,1030.1 116.7,1032.3 117.4,1037.7 118.4,1049.0 119.1,1061.2 120.1,1070.3 120.6,1078.1 121.0,1073.5 121.8,1075.5 122.7,1069.1 123.5,1068.7 124.4,1059.6 124.9,1060.4 126.1,1058.7 127.1,1063.5 127.8,1058.5 128.6,1062.0 129.2,1057.3 130.3,1057.6 131.2,1051.3 132.0,1051.6 132.9,1055.4 133.7,1064.1 134.6,1066.9 135.4,1067.0 136.3,1059.9 136.8,1060.3 138.0,1062.9 138.9,1068.9 139.7,1068.5 140.5,1072.1 141.5,1072.2 142.2,1072.8 143.1,1067.2 143.7,1067.8 144.8,1071.3 145.8,1077.5 146.5,1074.6 147.3,1076.6 148.2,1070.6 148.6,1072.1 149.0,1070.0 149.9,1076.3 150.8,1075.4 151.6,1078.7 152.4,1078.8 152.9,1081.5 154.1,1075.7 155.0,1074.0 156.2,1067.9 156.7,1069.4 157.5,1068.1 158.3,1069.8 159.2,1066.9 160.1,1069.3 160.5,1067.0 160.9,1067.6 161.8,1065.8 162.6,1067.0 163.5,1065.3 164.4,1065.3 165.2,1066.2 166.0,1069.5 167.0,1070.3 167.7,1072.9 168.6,1072.2 169.4,1075.7 170.2,1075.7 171.1,1077.9 172.0,1077.1 172.8,1079.5 173.4,1078.9 174.5,1076.8 175.6,1071.3 176.2,1071.5 177.1,1068.8 177.9,1070.2 178.8,1067.9 179.6,1070.5 180.5,1068.8 181.0,1071.0 182.2,1064.1 183.1,1061.1 183.9,1058.4 184.7,1058.8 185.9,1055.3 186.4,1057.3 187.3,1055.3 188.5,1058.9 189.0,1057.7 189.8,1061.3 190.7,1059.0 191.1,1061.2 191.5,1060.0 192.4,1064.3 193.2,1063.2 193.9,1065.4 194.9,1068.1 195.8,1073.5 196.6,1074.5 197.2,1078.4 198.3,1078.1 199.2,1083.4 200.4,1083.2 200.9,1083.5 201.7,1077.9 202.6,1078.7 203.2,1074.6 204.3,1072.2 205.4,1066.9 206.0,1070.6 206.8,1069.6 208.0,1075.2 208.5,1073.0 209.4,1076.1 210.1,1072.4 211.1,1076.8 212.3,1078.8 212.8,1082.0 213.6,1081.7 214.5,1086.9 215.1,1086.1 216.2,1082.1 217.0,1075.3 217.7,1074.2 218.7,1068.6 219.6,1071.0 220.5,1066.0 221.3,1068.4 222.1,1065.7 223.1,1068.5 223.8,1065.1 224.7,1065.0 225.6,1061.5 226.4,1064.6 227.2,1062.2 227.8,1064.2 228.9,1062.1 229.8,1062.9 230.6,1060.4 231.5,1065.5 232.3,1066.5 233.4,1073.0 234.0,1069.6 234.9,1070.3 235.6,1065.9 236.6,1071.1 237.4,1070.3 238.1,1075.2 239.1,1073.7 240.0,1078.0 240.7,1076.7 241.7,1075.1 242.5,1068.6 243.5,1067.7 244.2,1063.1 245.1,1064.2 245.7,1061.5 246.8,1057.8 247.9,1048.4 248.5,1051.1 249.3,1047.6 250.0,1050.7 251.0,1043.9 251.5,1045.2 252.7,1046.6 253.6,1054.3 254.3,1053.9 255.3,1063.1 256.5,1067.8 257.0,1073.4 257.8,1072.4 258.6,1078.3 259.5,1066.4 260.4,1062.6 260.8,1054.8 261.2,1054.7 262.1,1044.5 263.0,1040.8 263.8,1042.8 264.6,1051.6 265.1,1052.5 266.3,1058.7 267.3,1056.8 268.0,1056.2 268.9,1050.7 270.1,1048.6 270.6,1047.6 271.4,1053.5 272.2,1053.9 273.1,1046.9 274.0,1033.9 274.8,1026.8 275.7,1029.1 276.5,1039.2 277.0,1039.0 277.4,1041.2 278.2,1034.8 279.1,1035.4 279.9,1036.0 280.8,1043.2 281.3,1042.8 282.5,1048.6 283.4,1049.5 284.2,1047.6 285.0,1039.7 286.0,1037.8 286.7,1040.3 287.8,1052.5 288.4,1051.9 289.3,1059.7 289.9,1058.3 291.0,1066.8 292.1,1071.0 292.7,1072.7 293.5,1066.9 294.7,1066.7 295.2,1064.9 296.1,1069.3 296.8,1067.8 297.8,1068.8 298.6,1062.3 299.6,1063.5 300.3,1062.6 301.4,1066.7 302.0,1068.7 303.3,1081.7 303.7,1074.9 304.6,1067.5 305.0,1061.2 305.4,1067.1 306.3,1066.2 307.2,1072.0 308.0,1069.7 308.9,1071.1 309.7,1071.3 310.5,1079.1 311.0,1077.7 312.2,1071.4 313.2,1060.3 313.9,1061.0 314.8,1052.5 315.4,1054.0 316.5,1049.5 317.5,1050.6 318.2,1050.2 319.0,1056.8 319.7,1057.1 320.7,1056.9 321.8,1049.3 322.4,1045.8 323.3,1035.1 324.0,1032.1 325.0,1055.0 325.5,1068.7 326.7,1043.9 327.2,1037.9 328.4,1045.4 329.2,1054.8 330.1,1059.8 330.9,1069.1 331.8,1045.9 332.6,1030.9 333.5,1041.8 334.1,1052.9 335.2,1043.2 336.3,1038.8 336.9,1039.8 337.7,1050.8 338.4,1052.6 339.4,1069.9 339.9,1074.5 341.1,1053.0 341.7,1040.6 342.8,1055.6 343.4,1060.2 344.9,1042.1 345.4,1043.8 346.2,1053.2 347.1,1058.2 347.9,1061.7 348.8,1059.3 349.2,1062.4 349.6,1060.5 350.5,1068.2 351.4,1069.8 352.2,1063.0 353.0,1050.0 353.5,1048.3 354.7,1055.0 355.7,1065.4 356.4,1065.8 357.3,1073.2 357.8,1072.1 359.0,1069.7 360.0,1061.6 360.7,1062.7 361.5,1057.3 362.2,1058.9 363.2,1048.3 364.3,1044.0 364.9,1049.5 365.8,1062.7 366.5,1068.8 367.5,1062.4 368.6,1051.8 369.2,1051.0 370.4,1043.2 370.9,1049.1 371.7,1049.0 372.3,1055.1 373.4,1047.5 374.0,1048.3 375.1,1045.1 376.2,1046.0 376.8,1048.8 377.7,1058.6 378.3,1060.2 379.4,1058.2 380.5,1051.8 381.1,1058.7 382.2,1062.2 382.8,1052.1 383.6,1031.9 384.2,1022.7 385.3,1043.5 385.9,1057.0 387.0,1051.8 388.0,1052.9 388.7,1055.1 389.6,1061.6 390.4,1052.8 391.3,1053.2 391.7,1048.5 392.1,1052.9 393.0,1053.8 393.9,1061.1 394.7,1055.0 395.6,1052.7 396.4,1055.4 397.2,1064.1 397.8,1064.9 398.9,1061.9 399.9,1055.2 400.6,1058.3 401.5,1057.5 402.1,1061.1 403.2,1054.3 403.8,1052.4 404.9,1057.4 405.9,1066.4 406.6,1062.6 407.4,1062.0 408.1,1055.9 409.1,1064.0 410.3,1068.0 410.8,1069.2 411.7,1060.6 412.4,1061.4 413.4,1063.9 414.2,1072.8 415.0,1074.1 415.9,1070.0 417.2,1058.4 417.6,1057.9 418.5,1051.1 419.3,1050.7 420.2,1045.1 421.0,1047.5 421.5,1043.2 421.9,1048.7 422.7,1052.1 423.6,1061.3 424.4,1063.3 425.4,1070.2 426.1,1059.6 427.0,1052.9 427.5,1045.1 428.7,1058.7 429.7,1065.8 430.4,1065.4 431.2,1054.6 431.8,1054.7 432.9,1054.1 434.0,1057.0 434.6,1049.1 435.5,1045.1 436.3,1046.1 437.2,1054.7 437.7,1053.7 438.9,1067.0 439.8,1073.2 440.6,1074.1 441.4,1071.0 442.0,1071.9 443.1,1068.1 444.0,1070.4 444.8,1065.8 445.7,1075.5 446.5,1078.2 447.4,1087.1 448.2,1079.5 449.1,1076.0 449.5,1070.9 449.9,1071.2 450.8,1063.3 451.7,1061.2 452.5,1056.6 453.3,1060.0 453.8,1056.0 455.0,1057.4 456.0,1053.9 456.7,1062.2 457.7,1066.7 458.4,1065.9 459.3,1056.4 459.9,1057.3 461.0,1061.0 462.0,1067.7 462.7,1060.1 463.5,1053.7 464.4,1059.4 465.2,1073.6 465.7,1075.4 466.9,1071.5 467.9,1065.5 468.6,1071.3 469.5,1070.3 470.0,1074.4 471.2,1073.3 472.2,1075.2 472.9,1063.8 473.7,1057.8 475.0,1042.2 475.4,1049.7 476.3,1054.4 477.1,1066.8 478.0,1057.0 478.8,1051.5 479.3,1045.1 479.7,1049.5 480.5,1050.6 481.4,1057.2 481.9,1058.3 483.1,1076.3 484.0,1084.3 484.8,1086.7 485.6,1081.5 486.2,1085.2 487.3,1073.7 488.3,1067.9 489.0,1062.2 490.1,1058.1 490.7,1062.4 491.6,1074.9 492.2,1077.4 493.3,1074.9 494.4,1065.8 495.0,1066.8 495.8,1058.0 496.5,1059.1 497.5,1052.2 498.1,1052.5 499.2,1055.7 500.2,1061.4 500.9,1058.8 501.8,1060.4 502.4,1057.3 503.5,1060.3 504.5,1058.1 505.2,1062.3 506.0,1059.4 506.7,1062.3 507.7,1049.5 508.2,1047.4 508.6,1048.3 509.4,1061.3 509.9,1064.7 511.1,1055.5 511.6,1049.7 513.2,1074.4 513.7,1061.8 514.7,1049.7 515.4,1062.9 516.4,1085.0 517.1,1064.4 517.9,1048.6 518.5,1031.3 519.6,1065.2 520.3,1079.5 521.3,1066.2 521.8,1058.1 522.2,1058.2 523.3,1051.8 523.9,1062.4 524.6,1069.1 525.6,1062.1 526.7,1047.4 527.3,1053.2 528.1,1055.4 528.9,1063.4 529.8,1058.0 531.0,1055.1 531.5,1049.0 532.5,1042.8 533.2,1049.8 534.1,1064.3 534.7,1070.9 535.8,1065.1 536.9,1056.2 537.5,1056.0 538.4,1047.3 539.2,1065.2 540.1,1077.3 540.9,1067.3 541.8,1048.7 542.6,1064.5 543.3,1074.6 544.3,1058.0 544.8,1046.1 546.1,1086.0 546.8,1071.4 547.7,1062.1 548.3,1049.4 549.4,1064.2 549.8,1065.4 550.2,1071.4 551.3,1076.3 551.9,1061.0 553.0,1024.7 553.6,1041.2 554.8,1064.7 555.3,1061.0 556.3,1047.5 557.0,1050.2 557.9,1046.3 558.4,1049.4 559.5,1065.9 560.4,1056.9 561.2,1046.1 562.1,1053.1 563.0,1050.5 563.8,1057.1 564.7,1059.6 565.6,1067.6 566.4,1061.4 567.1,1062.4 568.1,1051.7 569.2,1046.0 569.8,1038.8 570.7,1034.8 571.5,1040.7 572.5,1056.1 573.2,1059.7 574.0,1071.7 575.0,1077.7 575.7,1078.0 576.6,1072.2 577.4,1072.3 577.8,1069.0 578.3,1069.0 579.1,1062.4 580.0,1061.1 580.8,1056.8 581.5,1055.9 582.5,1063.2 583.2,1074.4 584.2,1068.1 585.0,1067.6 585.9,1068.5 587.1,1073.2 587.6,1064.8 588.5,1061.1 589.3,1049.5 590.2,1045.1 591.4,1031.0 591.9,1037.5 592.9,1041.0 593.6,1037.0 594.5,1026.0 595.3,1025.4 596.2,1019.6 597.0,1012.9 597.8,1000.2 598.3,996.6 599.8,1019.5 600.4,1031.7 601.6,1053.9 602.1,1052.4 602.9,1041.9 603.7,1038.5 604.6,1049.8 605.2,1061.2 606.5,1043.3 607.2,1056.9 608.0,1067.5 608.7,1081.7 609.7,1073.5 610.8,1071.2 611.4,1070.4 612.4,1073.0 613.1,1064.8 614.0,1061.9 614.5,1054.9 615.7,1057.1 616.7,1054.1 617.4,1052.0 618.2,1044.4 618.8,1043.1 619.9,1037.2 621.0,1037.5 621.6,1031.9 622.5,1033.1 623.1,1029.3 624.2,1023.9 624.7,1018.1 625.9,1038.1 626.4,1040.9 627.6,1059.3 628.1,1064.6 629.6,1034.1 630.1,1038.2 631.1,1054.8 631.8,1037.0 632.9,1015.8 633.5,1033.4 634.6,1068.0 635.2,1060.9 636.1,1059.1 636.7,1050.4 637.8,1059.6 638.2,1060.6 639.5,1049.0 640.4,1037.7 641.2,1043.9 642.0,1045.8 642.6,1050.4 644.1,1040.7 644.6,1039.2 645.8,1029.9 646.3,1029.6 647.1,1019.9 648.0,1018.2 648.8,1024.6 649.7,1037.4 650.5,1023.8 651.2,1017.1 652.2,1037.2 653.3,1063.4 653.9,1048.6 655.1,1026.6 655.6,1029.3 656.5,1041.8 657.0,1042.8 658.2,1054.3 658.7,1055.7 659.9,1069.0 660.5,1070.1 661.6,1063.8 662.6,1054.7 663.3,1061.9 664.1,1060.6 664.8,1067.0 665.8,1039.0 666.3,1031.2 666.7,1031.8 667.8,1039.7 668.4,1030.2 669.5,1022.3 670.1,1030.0 671.2,1050.3 671.8,1037.4 672.8,1021.5 673.5,1011.9 674.5,1005.5 675.2,1017.5 676.0,1037.7 676.9,1029.2 677.7,1026.8 678.6,1038.3 679.2,1049.2 680.3,1022.2 680.7,1014.8 681.1,1012.8 682.0,1017.6 682.5,1014.9 683.7,1027.8 684.2,1030.2 685.7,1069.8 686.2,1062.0 687.2,1056.1 687.9,1062.0 688.9,1074.2 689.6,1078.7 690.7,1089.4 691.3,1080.4 692.2,1076.4 692.8,1066.9 693.9,1078.1 694.3,1078.6 694.7,1076.9 695.8,1059.1 696.4,1065.1 697.6,1065.6 698.1,1060.2 699.0,1047.4 699.7,1041.0 700.7,1034.2 701.9,1031.2 702.4,1032.6 703.6,1042.0 704.1,1038.6 704.9,1041.8 705.8,1036.8 706.6,1037.1 707.5,1030.9 707.9,1033.2 708.3,1035.7 709.4,1050.5 710.0,1046.4 710.9,1045.8 711.6,1040.7 712.6,1051.1 713.7,1056.1 714.3,1056.2 715.1,1046.8 715.9,1046.4 716.8,1053.6 718.1,1066.5 718.5,1059.4 719.4,1057.8 720.2,1049.4 721.1,1059.9 721.9,1061.8 722.4,1068.7 722.8,1060.0 723.6,1055.4 724.5,1041.0 725.3,1048.6 726.0,1049.8 727.0,1042.9 728.2,1028.0 728.7,1040.0 729.9,1055.8 730.4,1052.0 731.6,1037.4 732.1,1042.6 733.0,1045.6 733.8,1052.7 734.7,1059.6 735.5,1072.0 736.0,1073.4 736.4,1075.8 737.2,1070.0 738.1,1075.1 738.5,1071.1 739.8,1068.2 740.7,1062.4 741.5,1059.1 742.3,1046.8 742.9,1046.3 744.0,1045.3 745.0,1048.8 745.7,1046.7 746.8,1051.3 747.4,1046.2 748.5,1041.9 749.1,1029.9 750.1,1017.8 750.8,1026.6 751.9,1044.1 752.5,1039.8 753.4,1041.8 754.2,1036.5 755.1,1039.7 755.9,1035.7 756.5,1037.2 757.6,1042.8 758.4,1051.3 759.3,1046.0 760.0,1048.0 761.0,1050.5 761.6,1056.0 762.7,1044.2 763.4,1042.0 764.4,1041.5 765.3,1048.4 765.7,1045.7 766.1,1045.8 767.0,1037.8 768.0,1034.6 768.7,1039.1 769.9,1051.2 770.4,1048.3 771.2,1048.3 772.2,1043.3 772.9,1051.4 773.8,1054.8 774.6,1056.8 775.5,1052.6 776.1,1053.4 777.2,1060.6 777.9,1070.8 778.9,1065.5 779.7,1068.7 780.7,1064.0 781.4,1064.1 782.3,1055.0 783.0,1055.6 784.0,1049.2 784.8,1047.3 785.3,1043.4 786.5,1052.1 787.6,1056.8 788.2,1060.7 789.2,1061.7 789.9,1062.7 790.8,1054.8 791.5,1054.5 792.5,1056.7 793.4,1062.6 794.2,1056.3 795.2,1052.3 795.9,1055.2 796.8,1063.6 797.6,1058.8 798.4,1060.0 799.1,1054.9 800.1,1061.2 801.0,1063.9 801.8,1060.6 802.6,1053.7 803.5,1059.0 804.4,1060.4 805.2,1058.4 806.1,1050.3 806.9,1059.2 807.8,1061.8 808.4,1068.4 809.5,1061.5 810.7,1060.7 811.2,1057.7 812.3,1057.2 812.9,1057.9 814.1,1069.5 814.6,1064.4 815.4,1067.4 816.4,1060.5 817.1,1062.9 818.0,1060.9 818.7,1063.9 819.7,1064.1 820.6,1068.2 821.4,1063.7 822.2,1064.2 822.9,1060.8 823.9,1064.1 824.8,1063.5 825.6,1066.0 826.5,1066.7 827.3,1071.4 827.9,1070.1 829.0,1074.2 830.2,1075.7 830.7,1076.1 831.6,1070.8 832.5,1069.7 833.3,1067.4 834.1,1070.0 834.9,1066.5 835.8,1072.6 836.7,1070.8 837.2,1074.0 838.4,1067.1 839.5,1066.0 840.1,1062.1 841.3,1062.9 841.8,1062.9 842.9,1069.6 843.5,1064.0 844.3,1064.9 845.2,1056.9 846.0,1057.6 846.9,1051.2 847.5,1052.5 848.6,1050.0 849.8,1051.5 850.3,1051.5 851.1,1062.7 852.1,1068.5 852.8,1067.5 853.7,1057.4 854.4,1055.6 855.4,1056.6 856.2,1061.3 856.7,1060.8 857.9,1050.5 859.0,1036.2 859.6,1037.3 860.2,1032.7 861.3,1042.9 862.5,1047.9 863.0,1051.0 863.9,1048.8 864.3,1053.6 866.0,1068.3 866.4,1069.8 867.3,1061.3 868.3,1058.1 869.0,1058.4 869.8,1064.1 870.6,1064.3 871.5,1065.2 872.4,1061.0 872.9,1062.5 874.1,1061.6 875.2,1062.5 875.8,1062.3 876.6,1064.5 877.5,1064.4 878.3,1062.8 879.2,1058.4 879.8,1058.0 880.9,1058.1 882.1,1062.7 882.6,1058.9 883.4,1059.7 884.4,1053.6 885.1,1054.4 886.0,1048.7 886.7,1050.2 887.7,1053.9 888.5,1063.2 889.0,1062.9 890.2,1061.6 891.3,1057.2 891.9,1061.4 892.8,1060.9 893.6,1065.1 894.5,1061.5 895.3,1062.5 895.9,1059.5 897.0,1064.7 898.2,1065.2 898.7,1065.7 899.6,1058.9 900.5,1058.0 901.3,1057.7 902.1,1063.1 902.8,1062.0 903.8,1066.8 904.4,1067.7 905.5,1061.5 906.3,1054.7 907.2,1056.0 908.1,1051.3 908.6,1053.4 909.8,1045.9 910.9,1042.0 911.5,1036.5 912.3,1034.9 913.2,1029.5 914.0,1029.9 914.9,1025.5 915.5,1025.7 916.6,1020.3 917.8,1019.9 918.3,1018.0 919.1,1023.8 920.1,1022.5 920.8,1018.5 921.7,1007.5 922.4,1005.2 923.4,995.2 924.2,994.1 924.7,988.1 925.9,995.4 927.0,996.1 927.6,1002.1 928.5,1000.5 929.3,1006.1 930.2,998.9 931.0,998.1 931.6,992.3 932.7,994.2 933.9,991.2 934.4,997.9 935.3,1003.7 936.2,1014.2 937.0,1020.4 937.8,1035.6 938.5,1041.0 939.5,1051.0 940.4,1054.6 941.2,1046.3 942.1,1031.9 942.7,1028.1 943.8,1011.8 945.0,1000.7 945.5,993.5 946.3,989.2 947.3,978.9 948.0,975.1 948.9,966.0 949.6,962.5 950.6,957.6 951.4,960.1 951.9,956.6 952.3,961.5 953.1,957.8 954.2,963.8 954.8,965.4 955.7,974.8 956.5,976.7 957.4,984.2 958.2,988.1 958.8,993.5 959.9,996.2 961.1,1004.9 961.6,1005.9 962.7,1014.4 963.3,1006.0 964.2,1004.3 965.0,995.0 965.9,993.1 966.7,986.4 967.3,986.9 968.4,978.9 969.6,977.6 970.1,978.2 971.0,984.9 971.9,988.2 972.7,992.2 973.5,992.6" fill="none" stroke="#ff0000" stroke-width="1.35" stroke-linejoin="round"/>
<path d="M90.4,752.6 91.2,749.3 92.1,749.0 92.5,746.8 93.8,747.3 94.7,745.8 95.5,745.4 96.3,742.7 96.9,743.1 98.0,743.6 99.0,745.2 99.7,742.1 100.6,742.6 101.2,739.3 102.3,742.1 103.3,741.2 104.0,741.4 104.8,734.1 105.5,734.9 106.5,728.4 107.4,728.7 108.3,721.8 109.1,733.3 109.8,736.6 110.8,727.4 111.6,713.4 112.4,706.8 113.3,716.7 114.1,731.6 115.0,730.7 116.3,738.2 116.7,739.5 117.6,751.0 118.4,756.5 119.5,787.5 120.1,801.3 120.6,814.6 121.0,810.2 121.8,812.6 122.7,805.8 123.5,806.9 124.4,802.4 125.2,805.2 126.0,801.6 126.9,798.4 128.1,786.4 128.6,787.2 129.5,781.4 130.3,781.1 131.4,784.5 132.0,781.6 132.9,772.2 133.7,786.2 134.6,792.9 135.4,794.8 136.3,790.1 137.1,793.2 137.8,789.7 138.8,789.2 139.7,780.7 140.7,781.2 141.4,780.5 142.2,784.5 143.2,784.2 143.9,790.6 145.0,790.7 145.6,789.6 146.5,779.5 147.6,774.4 148.2,768.3 149.0,770.9 149.7,765.0 150.7,768.4 151.6,763.8 152.4,768.5 152.9,766.1 154.1,763.9 155.1,758.4 155.8,758.2 156.7,752.2 157.3,753.0 158.4,751.4 159.2,752.9 160.1,750.2 160.5,751.8 160.9,749.2 161.8,752.0 162.7,747.9 163.5,753.1 164.3,753.9 164.8,757.1 166.0,762.5 167.0,771.1 167.7,769.0 168.6,776.2 169.4,773.8 170.2,776.9 171.1,772.3 172.0,772.6 172.8,767.0 173.4,766.8 174.5,769.4 175.6,776.8 176.2,775.2 177.1,777.4 177.8,775.8 178.8,780.5 179.6,777.9 180.5,783.0 181.0,781.2 182.2,777.8 183.0,770.9 184.2,767.8 184.7,767.5 185.6,772.6 186.4,773.5 187.3,775.7 188.5,770.6 189.0,773.0 189.8,771.9 190.7,777.0 191.5,777.1 192.4,784.8 192.9,783.4 194.1,779.1 195.0,770.5 195.8,771.7 196.6,766.0 197.2,767.1 198.3,767.5 199.2,771.4 200.4,771.3 200.9,773.9 201.7,770.4 202.6,773.2 203.6,771.3 204.3,770.6 205.1,765.6 205.8,764.5 206.8,762.9 207.7,767.4 208.5,764.1 209.0,766.1 210.2,765.2 211.1,771.0 212.3,771.4 212.8,777.3 213.6,779.1 214.4,785.6 215.3,789.9 216.1,797.0 217.0,787.1 217.7,785.4 218.7,776.7 219.8,774.7 220.4,768.8 221.3,766.4 222.0,759.2 223.0,758.1 223.8,752.2 224.8,751.0 225.5,751.6 226.4,756.7 226.9,756.1 228.4,763.9 228.9,761.7 229.8,762.9 230.6,759.5 231.7,760.5 232.3,759.5 233.2,764.9 233.8,765.0 234.9,766.7 236.0,764.0 236.6,769.0 237.4,768.9 238.3,775.9 239.2,777.8 240.0,778.3 240.8,772.8 241.4,774.7 242.5,764.2 243.5,759.2 244.2,756.2 245.1,757.8 245.7,752.9 246.8,745.7 247.9,732.8 248.5,738.4 249.3,738.9 250.0,746.6 251.0,737.7 251.9,737.6 252.8,728.0 253.6,731.6 254.4,728.9 255.4,733.8 256.1,736.8 257.0,750.4 257.6,751.8 258.7,762.8 259.3,766.1 260.4,756.3 261.4,743.3 262.1,737.7 263.0,723.7 263.8,732.1 264.6,735.6 265.5,744.1 266.2,747.8 267.2,744.1 268.3,732.5 268.9,734.0 269.7,729.4 270.5,731.5 271.4,733.4 272.7,740.9 273.1,733.5 274.0,730.2 274.8,719.8 275.7,729.2 276.5,732.6 277.0,737.9 277.4,733.5 278.2,735.9 279.1,730.5 279.9,740.7 280.9,745.6 281.6,745.8 282.5,739.1 283.4,737.9 284.2,736.3 285.0,741.1 285.6,738.9 286.7,729.4 287.6,732.1 288.8,744.2 289.3,741.5 290.1,747.3 291.0,745.7 291.8,752.2 292.7,756.4 293.5,754.7 294.4,746.1 295.3,744.5 296.1,744.1 296.9,753.4 297.5,751.8 298.6,751.9 299.6,745.2 300.3,750.8 301.2,749.4 301.8,753.0 302.9,758.8 303.5,766.0 304.6,759.9 305.0,760.8 305.4,756.0 306.3,754.9 307.2,747.8 308.0,748.1 308.9,741.0 309.7,750.5 310.5,751.9 311.0,757.2 312.2,746.6 313.2,744.6 313.9,740.8 314.8,741.9 315.4,738.2 316.5,752.7 317.5,759.3 318.2,756.6 319.0,742.7 319.7,740.0 320.7,750.6 321.8,766.0 322.4,758.0 323.3,755.3 324.0,745.5 325.0,764.6 325.5,770.0 326.7,755.5 327.6,740.2 328.4,747.3 329.2,749.5 329.8,757.3 331.3,787.6 331.8,768.8 332.6,726.9 333.5,746.1 334.1,756.5 335.2,753.8 336.3,744.2 336.9,749.0 337.7,746.7 338.4,751.7 339.4,759.4 340.6,773.3 341.1,764.8 342.0,756.5 342.7,745.5 343.7,737.6 344.5,726.1 345.4,739.7 346.0,743.6 347.1,744.2 348.1,741.4 348.8,751.0 349.6,755.5 350.3,765.8 351.3,748.9 352.5,737.8 353.0,735.2 353.9,737.1 355.0,733.5 355.6,745.4 356.8,766.0 357.3,764.2 358.1,754.0 358.9,750.8 359.8,746.1 360.7,745.7 361.5,740.9 362.4,750.0 363.2,752.8 364.1,749.0 364.9,735.9 365.4,734.9 366.6,740.3 367.6,748.6 368.3,739.9 369.2,738.4 369.7,732.7 370.9,744.5 371.9,749.9 372.6,749.8 373.4,739.5 374.0,740.2 375.1,737.7 376.2,742.1 376.8,744.6 377.7,753.5 378.8,758.4 379.4,749.9 380.5,730.6 381.1,766.9 381.9,758.7 383.1,750.7 383.6,744.7 384.5,740.7 385.2,732.6 386.2,737.1 387.4,736.7 387.9,743.9 389.1,754.2 389.6,754.5 390.4,745.1 391.3,741.1 392.1,745.0 393.0,752.7 393.4,753.9 393.8,755.9 394.7,748.9 395.6,748.9 396.4,743.7 397.2,747.7 398.2,743.4 398.9,748.6 399.9,751.7 400.6,749.4 401.5,738.7 402.5,732.5 403.2,736.4 404.0,748.2 404.7,749.9 405.7,739.4 406.4,730.2 407.4,743.2 408.5,752.2 409.1,747.5 410.3,734.9 410.8,742.9 411.7,748.0 412.4,757.4 413.4,750.0 414.6,748.5 415.1,743.0 415.9,739.9 416.7,730.3 417.6,736.5 418.9,737.1 419.3,738.6 420.2,731.9 421.0,731.3 421.9,735.0 422.7,745.6 423.2,745.3 424.4,756.3 425.4,758.6 426.1,745.9 426.9,729.5 427.8,745.4 429.0,760.4 429.5,758.7 430.4,748.5 431.2,746.8 432.1,750.5 432.7,757.4 433.8,741.7 434.6,738.1 435.1,730.2 435.5,736.4 436.3,738.3 437.0,744.5 438.0,738.2 439.2,737.8 439.7,739.9 440.9,748.6 441.4,750.8 442.6,763.7 443.1,753.7 444.0,745.9 444.8,732.4 445.7,749.9 446.3,755.5 447.4,764.1 448.4,766.9 449.1,761.4 449.9,749.1 450.6,744.5 451.6,737.2 452.8,735.7 453.3,733.0 454.2,735.2 455.0,731.4 455.6,733.8 457.1,758.2 457.6,756.8 458.4,744.5 459.2,739.9 460.1,741.5 461.0,747.7 462.0,749.9 462.7,753.3 463.5,752.9 464.2,757.5 465.2,750.9 466.3,748.8 466.9,747.6 467.8,754.3 468.5,752.8 469.5,749.3 470.7,741.2 471.2,742.1 472.0,738.1 473.2,738.0 473.7,734.7 474.6,735.0 475.4,729.1 476.3,741.2 477.1,747.5 478.0,741.2 478.8,729.3 479.3,728.3 479.7,732.6 480.8,755.4 481.4,746.5 482.5,738.0 483.1,743.7 484.0,757.5 484.8,758.5 485.6,766.5 486.2,766.0 487.3,758.0 488.3,747.7 489.0,752.6 489.9,748.8 490.5,752.8 491.6,761.9 492.2,771.6 493.3,755.5 494.4,741.9 495.0,745.6 495.8,760.0 496.5,764.8 497.5,755.7 498.1,747.6 499.2,757.8 500.2,763.0 500.9,756.3 501.8,740.6 502.4,736.8 503.5,750.5 504.5,765.7 505.2,757.4 506.0,755.1 506.7,747.8 507.7,741.4 508.2,735.5 508.6,743.1 509.4,749.9 509.9,757.1 511.1,763.7 512.1,771.6 512.8,754.0 513.8,737.9 514.5,743.0 515.4,753.3 516.0,756.1 517.1,748.3 518.1,734.7 518.8,749.7 519.6,761.1 520.3,776.6 521.3,758.6 522.4,744.2 523.0,744.2 523.9,752.5 524.6,751.9 525.6,746.7 526.7,733.7 527.3,746.0 528.2,758.6 529.0,755.6 529.8,746.1 530.4,744.3 531.5,736.6 532.5,735.6 533.2,741.4 534.1,755.5 534.7,760.4 535.8,775.0 536.2,777.9 536.6,770.3 537.5,744.8 537.9,735.9 538.3,735.7 539.2,748.2 540.1,754.1 540.9,763.6 541.7,768.3 542.3,776.7 543.4,750.9 544.0,743.1 545.1,761.6 545.9,778.9 546.8,757.9 547.6,746.8 548.5,748.2 549.4,756.1 549.8,756.4 550.2,764.0 551.3,773.4 551.9,757.4 553.0,719.4 553.6,737.9 554.8,762.8 555.3,756.3 556.2,738.9 556.9,729.3 557.9,738.6 559.1,755.2 559.6,752.1 560.6,750.6 561.3,753.5 562.1,764.7 562.7,767.2 563.8,739.4 564.3,724.2 564.7,736.7 565.5,748.9 566.0,761.3 566.4,757.4 567.2,761.2 568.1,756.4 568.9,747.6 569.8,729.6 570.7,719.3 571.5,730.3 572.5,748.5 573.2,754.1 574.0,768.5 574.6,773.8 575.7,758.3 576.8,741.0 577.4,753.9 578.3,762.9 578.9,776.5 580.0,756.9 580.8,746.3 581.5,733.8 582.5,749.9 583.7,763.8 584.2,757.8 585.1,742.7 585.8,734.9 586.8,744.9 588.0,763.5 588.5,755.4 589.7,742.3 590.2,734.6 591.4,722.6 591.9,725.3 592.9,736.7 593.6,731.7 594.4,733.1 595.1,728.4 596.1,724.1 597.0,716.2 597.9,713.3 598.7,719.7 599.5,730.9 600.1,734.9 601.2,726.8 602.2,715.6 602.9,728.8 603.7,739.1 604.6,749.9 605.2,753.1 606.3,744.8 607.4,730.5 608.0,743.8 608.9,755.1 609.6,770.1 610.6,747.7 611.3,735.5 612.3,746.3 613.4,766.0 614.0,757.0 614.8,751.1 615.6,741.0 616.5,745.2 617.4,743.7 618.2,748.9 619.1,741.6 620.3,737.7 620.8,731.3 621.6,730.0 622.5,723.0 623.3,721.0 624.2,711.7 624.7,711.8 625.9,734.7 626.4,746.5 627.6,726.9 628.1,724.2 629.3,741.0 630.1,758.5 630.7,763.9 632.2,711.9 632.7,721.1 633.9,752.7 634.4,745.6 635.4,739.1 636.1,745.5 637.2,761.4 637.8,755.7 638.9,754.3 639.5,744.8 640.3,738.6 641.0,726.0 642.0,731.6 643.2,733.5 643.7,737.5 644.6,734.1 645.8,737.9 646.3,732.0 647.1,729.0 648.4,716.5 648.8,722.9 649.7,728.1 650.5,722.8 651.2,713.0 652.2,738.8 653.3,758.3 653.9,746.7 655.1,716.3 655.6,724.2 656.5,730.9 657.0,737.8 658.2,731.8 658.7,733.9 659.9,742.0 660.9,753.3 661.6,751.1 662.4,756.9 663.1,756.3 664.1,769.3 664.8,773.4 665.8,741.5 666.3,725.1 666.7,732.1 667.8,741.3 668.4,739.1 669.2,726.3 670.0,722.6 670.9,712.6 671.7,709.8 672.6,731.6 673.4,755.4 674.3,737.6 675.6,718.6 676.0,714.2 676.9,716.1 677.7,711.2 678.6,730.7 679.2,738.9 680.3,713.8 680.7,698.9 681.1,706.2 682.0,714.3 682.5,722.5 683.7,717.6 684.2,718.8 685.1,744.5 686.3,732.7 687.1,741.4 687.9,757.3 688.8,766.7 689.4,777.6 690.5,763.2 691.5,752.8 692.2,758.8 693.2,772.2 693.9,763.2 695.0,751.7 695.6,759.1 696.4,774.8 696.9,779.0 698.1,757.3 698.6,743.3 699.8,736.1 700.8,723.8 701.5,733.4 702.4,734.1 703.0,742.2 704.1,730.0 705.1,722.6 705.8,718.4 706.6,722.0 707.5,716.4 707.9,719.7 708.3,721.4 709.4,737.6 710.0,731.6 710.9,731.9 711.6,727.0 712.6,739.3 713.7,749.6 714.3,759.1 714.8,765.1 716.0,756.8 717.0,745.7 717.7,746.5 718.5,742.7 719.1,744.1 720.2,733.3 720.9,731.6 721.9,759.0 722.4,773.5 722.8,763.2 723.6,750.1 724.5,730.3 725.3,725.2 726.0,714.2 727.0,731.1 727.8,736.9 728.7,728.7 729.5,717.3 730.4,723.9 731.6,728.0 732.1,732.1 733.0,728.9 733.8,731.5 734.7,737.0 735.5,748.0 736.0,750.0 736.4,752.9 737.2,751.0 738.1,759.4 738.5,757.2 739.8,754.9 740.7,749.7 741.5,747.1 742.3,738.4 742.9,737.6 744.0,731.8 745.0,733.2 745.7,731.0 746.6,735.6 747.3,734.7 748.3,733.5 748.9,727.5 750.0,718.4 750.8,707.0 751.7,723.1 752.4,729.7 753.4,729.4 754.2,722.9 755.1,733.2 756.1,739.2 756.8,746.8 757.7,748.5 758.5,759.3 759.3,764.7 760.2,779.1 760.7,783.1 762.3,800.3 762.7,792.0 763.9,783.9 764.4,776.9 765.3,776.6 765.7,770.0 766.1,774.7 767.0,773.2 767.6,777.1 768.7,771.0 769.2,771.3 770.4,758.4 771.0,753.8 772.1,768.6 772.6,781.6 773.8,783.2 774.3,787.5 775.5,771.2 776.1,765.6 777.2,756.2 777.7,756.1 778.9,757.4 779.6,763.2 780.6,756.1 781.4,755.1 782.3,755.5 783.0,758.5 784.0,749.7 784.6,747.3 785.7,741.1 786.9,740.4 787.4,739.3 788.2,744.7 788.8,742.5 789.9,745.8 790.6,743.7 791.6,752.9 792.2,755.2 793.3,751.0 793.8,746.0 795.0,750.5 795.7,748.5 796.7,756.0 797.5,755.5 798.4,757.5 799.1,752.7 800.1,765.3 801.0,768.2 801.4,774.9 802.7,770.0 803.8,771.6 804.4,765.4 805.2,765.3 806.1,759.9 806.9,767.8 807.8,770.4 808.4,776.8 809.5,769.4 810.7,766.9 811.2,765.7 812.0,769.3 813.0,768.2 813.7,774.0 814.6,774.8 815.3,780.2 816.3,773.2 817.1,773.1 817.6,768.0 818.0,770.3 818.8,768.5 819.9,772.2 820.5,772.0 821.4,776.9 822.2,776.2 823.1,775.2 823.9,769.4 824.5,769.0 825.6,765.7 826.8,767.9 827.3,766.3 828.2,772.0 829.1,771.4 829.9,775.2 830.7,776.1 831.4,779.1 832.4,780.4 833.3,786.8 833.7,786.6 834.1,786.3 835.0,781.1 836.0,779.3 836.7,778.3 837.5,781.9 838.3,782.0 839.2,781.8 840.1,777.7 840.6,777.9 841.8,778.4 842.9,783.7 843.5,779.4 844.3,779.3 845.2,772.4 846.0,770.5 846.9,763.6 847.5,762.3 848.6,759.6 849.8,763.4 850.3,763.0 851.1,773.1 852.1,776.3 852.8,776.4 853.7,770.5 854.4,772.3 855.4,765.5 856.0,765.7 857.1,768.1 857.9,774.5 858.8,760.3 859.6,753.5 860.2,743.9 861.3,752.0 862.5,755.2 863.0,758.2 863.9,757.5 864.3,760.8 866.0,776.0 866.4,776.2 867.3,769.9 868.3,769.0 869.0,768.3 869.8,772.3 870.6,771.4 871.5,777.6 872.4,775.3 872.9,780.6 874.1,776.3 875.2,777.2 875.8,772.7 876.6,775.3 877.5,771.5 878.3,770.4 879.1,764.7 880.0,772.3 880.9,773.9 881.7,773.5 882.6,768.5 883.2,769.0 884.3,765.6 885.5,766.5 886.0,762.5 886.8,760.0 887.4,755.1 888.5,768.4 889.7,774.7 890.2,775.3 891.1,766.8 892.0,765.5 892.8,763.5 893.6,769.0 894.8,767.7 895.3,772.0 896.2,771.5 897.1,777.2 897.9,777.9 898.9,785.3 899.6,779.2 900.4,780.2 901.2,774.9 902.1,780.7 903.0,781.6 903.5,786.5 904.7,793.1 905.1,798.0 905.5,790.5 906.7,783.0 907.2,780.0 908.1,782.6 908.6,778.1 909.8,771.4 910.4,764.7 911.5,760.2 912.0,755.4 913.2,749.9 913.6,745.2 914.9,752.3 915.5,753.1 916.6,753.9 917.3,749.3 918.3,753.4 919.1,751.6 919.6,756.5 920.8,747.5 921.2,749.4 921.7,745.2 922.5,744.4 923.6,738.1 924.2,737.0 925.4,730.1 925.9,733.7 926.8,732.8 927.6,737.3 928.2,736.9 929.3,741.3 930.0,741.3 931.0,739.9 932.1,732.4 932.7,737.4 933.6,734.2 934.4,740.4 935.3,743.8 936.2,751.8 937.0,758.2 938.1,774.9 938.7,778.6 939.5,790.5 940.4,796.8 941.2,787.9 942.1,773.7 942.7,770.2 943.8,751.5 944.3,747.1 945.5,737.5 946.6,735.3 947.2,729.1 948.0,729.4 948.9,723.0 949.7,721.7 950.6,714.2 951.2,713.6 952.3,708.9 953.0,710.1 954.0,710.9 955.1,715.7 955.7,715.8 956.5,722.6 957.4,723.3 958.2,729.5 959.1,730.6 959.7,737.6 960.8,744.7 962.0,756.2 962.5,749.9 963.3,748.3 963.9,741.5 965.0,741.3 966.2,737.0 966.7,737.1 967.6,732.3 968.5,733.3 969.3,729.9 970.1,731.9 970.8,730.2 971.8,728.9 972.7,725.3 973.5,725.0" fill="none" stroke="#008000" stroke-width="1.35" stroke-linejoin="round"/>
<path d="M90.4,860.7 91.2,855.5 92.1,856.5 92.5,851.1 93.8,850.5 94.6,845.6 95.1,846.8 96.3,849.8 97.2,859.4 97.9,859.6 98.9,855.9 100.1,847.1 100.6,844.9 101.4,831.4 102.3,826.1 103.1,824.8 104.0,828.7 104.8,818.2 105.9,812.5 106.5,820.9 107.4,840.5 108.3,854.3 109.1,844.9 109.9,827.3 110.9,814.6 111.6,832.3 112.5,859.8 113.0,870.7 114.1,881.4 115.2,878.9 115.9,890.7 116.7,895.7 117.4,906.2 118.4,923.5 119.1,936.2 120.1,975.0 120.6,996.6 121.0,992.4 122.1,988.9 122.7,989.8 123.5,996.5 124.5,999.4 125.2,992.2 126.1,978.7 127.1,970.5 127.8,961.6 128.6,956.4 129.2,948.4 130.7,957.5 131.2,950.2 132.0,949.2 132.9,938.3 133.7,951.4 134.6,957.3 135.0,964.0 136.3,951.3 136.8,949.2 138.0,955.8 138.9,966.4 139.7,965.1 140.7,968.3 141.4,969.7 142.2,976.3 142.8,976.3 143.9,979.8 144.8,977.1 145.4,980.3 146.5,971.4 147.6,968.5 148.2,963.9 149.0,967.1 149.7,963.2 150.7,964.9 151.9,959.0 152.4,963.1 153.3,959.7 154.0,964.1 155.0,962.9 156.2,966.4 156.7,961.1 157.5,958.0 158.3,950.4 159.2,957.5 160.1,957.6 160.9,958.5 161.8,954.2 162.2,956.8 162.6,958.5 163.7,970.9 164.3,974.0 165.2,984.5 166.0,982.5 166.9,985.5 168.0,981.3 168.6,984.3 169.4,979.0 170.2,982.4 171.1,977.0 172.0,978.1 173.0,970.9 173.7,980.6 174.5,985.8 175.4,993.1 176.2,993.3 176.7,998.9 177.1,995.4 178.2,1000.1 178.8,998.6 179.6,1005.5 180.3,1005.2 181.3,1003.8 182.5,997.5 183.0,999.7 184.2,994.7 184.7,1002.0 185.9,1008.4 186.4,1010.1 187.3,1000.3 188.5,998.8 189.0,999.5 189.8,1006.7 190.7,1009.9 191.5,1006.7 192.4,999.8 193.2,989.0 194.1,973.4 194.6,968.7 195.8,954.5 196.7,947.1 197.5,939.6 198.3,939.3 199.3,931.1 200.0,938.1 200.9,939.6 201.5,944.6 202.6,956.5 203.6,974.2 204.3,966.9 205.1,966.5 206.2,959.0 206.8,959.3 207.7,954.1 208.4,954.4 209.4,949.1 210.2,951.7 210.8,946.8 211.9,955.8 212.8,954.9 213.3,959.9 214.5,963.1 215.3,971.1 216.6,973.9 217.0,974.4 217.9,966.7 218.7,966.8 219.2,963.5 219.6,964.9 220.4,957.6 220.9,958.0 222.1,944.8 222.6,944.7 223.8,950.7 224.8,958.9 225.5,954.6 226.3,954.3 227.2,957.4 228.1,965.7 229.1,969.7 229.8,966.2 230.6,956.6 231.2,954.6 232.3,960.9 232.8,965.5 233.2,961.9 234.0,964.4 234.9,959.9 235.7,961.5 236.6,958.2 237.7,958.9 238.3,956.3 239.1,960.7 240.3,956.9 240.8,963.6 242.0,968.5 242.5,968.7 243.4,958.9 244.6,954.4 245.1,950.4 245.9,954.0 246.3,951.5 246.8,958.9 247.9,965.2 248.5,966.0 249.3,960.4 250.0,960.0 251.0,951.9 252.2,950.5 252.7,949.3 253.6,955.4 254.3,953.4 255.3,963.4 256.1,963.3 256.9,971.9 257.8,965.1 258.7,965.1 259.3,959.9 260.4,956.5 261.4,949.2 262.1,949.0 263.0,945.0 263.8,951.0 264.6,953.6 265.1,957.6 266.3,964.2 267.3,971.6 268.0,965.0 268.9,963.7 269.4,956.7 270.6,951.9 271.6,945.1 272.3,954.2 273.1,956.3 273.7,964.2 274.8,967.7 275.9,973.9 276.5,973.7 277.4,979.5 278.1,979.2 279.1,986.6 279.9,984.3 280.6,990.2 281.6,974.9 282.4,969.9 283.3,973.1 283.9,979.3 285.0,985.3 285.6,991.3 286.7,977.3 287.8,968.4 288.4,968.7 289.5,977.0 290.1,969.4 291.0,964.5 291.8,969.7 292.7,981.6 293.5,969.0 294.7,955.4 295.2,957.3 296.4,965.2 296.9,958.3 298.1,948.9 298.6,952.8 299.8,966.7 300.3,959.9 301.4,957.9 302.0,949.8 302.9,946.9 303.7,951.7 304.6,962.3 305.0,963.1 305.4,970.2 306.3,976.7 306.7,983.5 307.1,971.8 308.2,951.6 308.8,954.5 309.7,966.2 310.5,956.5 311.5,949.2 312.2,954.7 313.2,967.4 313.9,969.4 314.8,975.4 315.4,976.3 316.5,986.4 317.5,990.1 318.2,989.7 319.0,979.5 319.7,979.2 320.7,972.9 321.2,974.9 321.6,985.9 322.4,1015.6 322.9,1028.1 324.1,994.5 324.8,971.8 325.8,991.2 326.6,1002.2 327.5,996.4 328.3,987.0 329.2,989.6 330.2,985.1 330.9,1005.9 332.0,1032.3 332.6,1004.9 333.5,967.4 334.3,973.5 335.2,972.8 335.6,977.3 336.0,976.8 336.9,986.6 337.4,987.1 338.6,963.7 339.1,950.5 340.6,993.3 341.1,980.6 342.0,969.4 342.7,953.4 343.7,944.7 344.9,926.0 345.4,940.9 346.4,963.3 347.1,961.5 348.1,952.3 348.8,959.9 349.6,959.1 350.3,966.5 351.4,977.1 352.2,968.6 353.0,955.1 353.5,951.6 354.7,940.4 355.7,937.4 356.4,941.0 357.3,953.7 357.8,957.0 359.4,981.6 359.8,974.3 360.7,969.5 361.5,959.1 362.4,967.0 363.2,968.9 363.7,975.3 364.1,968.3 364.9,961.2 365.8,946.9 366.5,940.6 367.5,945.2 368.6,954.8 369.2,953.7 370.0,960.0 370.8,959.0 371.7,972.4 372.9,982.5 373.4,982.4 374.3,975.4 375.1,972.6 376.0,965.5 376.8,964.6 377.3,958.9 377.7,967.5 378.5,976.3 379.4,990.1 380.2,967.5 380.9,953.6 382.2,997.6 382.8,997.6 383.7,991.2 384.5,979.1 385.3,960.8 385.9,953.6 387.0,940.3 388.0,935.4 388.7,934.3 389.8,940.7 390.4,930.4 391.3,923.3 392.1,928.6 393.0,938.6 393.8,939.4 394.7,946.1 395.2,945.8 396.4,948.0 397.3,944.9 398.1,955.5 398.9,959.2 399.9,969.4 400.6,961.8 401.5,959.0 402.5,950.1 403.2,956.7 404.0,955.4 404.7,960.2 405.7,952.0 406.8,949.2 407.4,945.8 408.3,949.4 409.0,945.0 410.0,936.9 411.1,920.6 411.7,929.9 412.9,942.5 413.4,943.6 414.2,939.9 415.0,940.6 415.9,946.3 416.7,958.0 417.6,950.2 418.9,946.7 419.3,947.3 420.4,953.7 421.0,944.1 421.9,942.0 422.6,932.0 423.6,943.5 424.7,950.4 425.3,949.1 426.1,941.2 426.9,940.7 427.8,950.6 429.0,966.5 429.5,967.5 430.8,981.7 431.2,973.4 432.1,965.6 432.7,956.9 433.8,969.5 434.4,974.1 435.5,971.2 436.6,963.2 437.2,965.7 438.0,963.5 438.7,966.3 439.7,951.7 440.5,947.2 441.4,958.1 442.6,979.3 443.1,977.2 444.1,982.4 444.8,967.6 445.6,955.6 446.5,962.5 447.4,972.7 448.2,961.1 449.1,956.7 449.9,956.8 450.8,964.0 451.7,965.3 452.5,964.4 453.3,954.6 453.8,955.5 455.0,950.2 456.0,952.6 456.7,945.4 457.7,940.5 458.4,936.7 459.3,939.9 460.3,934.0 461.0,941.1 461.8,944.1 462.5,951.5 463.5,938.9 464.6,929.9 465.2,931.7 466.1,943.7 466.8,946.2 467.8,951.6 468.9,950.4 469.5,956.7 470.7,961.2 471.2,953.5 472.2,935.4 472.9,954.2 473.9,973.8 474.6,964.5 475.4,945.6 476.1,936.0 477.1,952.8 477.6,964.2 478.0,953.8 478.8,945.6 479.3,935.1 479.7,944.0 480.8,955.8 481.4,948.3 482.2,932.0 483.0,922.5 483.9,926.9 485.1,936.4 485.6,940.7 486.5,953.9 487.3,959.8 488.2,966.0 489.4,967.5 489.9,966.2 490.7,955.7 491.6,950.5 492.4,966.6 493.3,989.3 494.1,976.9 495.3,968.4 495.8,967.6 497.0,975.1 497.5,967.4 498.7,957.8 499.2,962.5 500.1,979.9 500.9,990.1 501.8,973.3 502.4,958.9 503.9,991.3 504.3,981.0 505.2,968.1 506.0,951.6 506.9,960.7 507.8,965.3 508.6,958.6 509.5,945.8 510.3,942.8 511.1,934.5 511.6,933.0 513.2,958.8 513.7,955.6 514.5,943.1 515.3,936.2 516.2,946.0 517.0,959.9 517.9,946.6 518.8,941.6 519.2,935.1 519.6,946.6 520.5,960.5 521.4,979.2 522.2,972.9 523.3,968.6 523.9,972.2 524.6,983.8 525.6,972.7 526.7,966.2 527.3,957.9 528.1,954.4 528.9,943.9 529.8,955.0 531.0,963.3 531.5,972.6 532.5,984.0 533.2,970.8 534.1,948.0 534.7,936.3 535.8,962.3 536.9,991.1 537.5,971.9 538.3,952.0 539.0,929.6 540.0,951.8 541.2,969.8 541.7,973.9 542.6,972.2 543.3,977.1 544.3,948.9 545.5,917.0 546.0,927.3 546.8,954.0 547.6,971.9 548.5,957.3 549.2,944.1 550.2,956.1 550.9,958.9 551.9,983.6 552.6,996.9 553.6,961.2 554.1,939.4 555.6,985.7 556.2,975.1 557.4,960.0 557.9,958.2 558.7,964.8 559.5,965.3 560.4,975.6 561.7,982.5 562.1,990.8 563.0,999.6 563.4,1007.5 563.8,995.0 564.7,979.3 565.6,956.8 566.4,978.7 567.1,991.1 568.1,980.0 569.2,961.3 569.8,984.1 570.3,999.1 571.5,966.7 572.0,949.1 573.2,964.7 574.2,971.6 574.9,980.0 575.7,984.8 576.6,964.1 577.4,939.3 578.3,973.6 578.9,992.5 580.0,973.7 580.8,954.6 581.5,943.9 582.5,958.2 583.2,970.6 584.2,945.5 585.1,932.9 585.8,913.2 586.8,929.9 587.6,937.4 588.5,961.7 589.3,978.3 590.2,967.7 591.4,949.2 591.9,959.2 592.7,966.9 593.6,983.9 594.4,975.1 595.1,971.8 596.1,987.8 596.8,1000.7 597.8,978.1 598.8,964.1 599.5,958.1 600.5,955.8 601.2,954.6 602.2,957.8 602.9,950.4 603.7,946.1 604.6,960.2 605.5,978.6 606.5,995.7 607.2,972.0 608.0,933.6 608.7,909.8 609.7,940.3 610.2,956.6 611.3,933.1 612.3,955.5 613.1,968.3 613.9,985.8 614.8,973.9 616.0,963.0 616.5,961.7 617.4,967.9 618.2,965.4 619.1,979.6 620.3,993.7 620.8,987.2 621.6,967.5 622.5,952.3 623.3,964.2 624.2,980.4 625.0,950.9 625.7,929.2 626.7,943.9 627.5,956.7 628.4,965.7 629.2,976.3 630.1,952.7 631.1,935.1 631.8,927.6 632.9,925.3 633.5,942.8 634.6,973.1 635.2,975.6 636.1,987.8 636.7,992.4 637.8,977.3 638.2,968.5 639.5,976.3 640.4,976.4 641.2,973.7 642.0,963.1 642.6,961.9 643.7,965.4 644.7,971.7 645.4,969.6 646.3,972.9 647.5,970.0 648.0,978.9 648.8,984.4 649.7,998.3 650.1,1000.8 650.5,992.6 651.4,970.4 651.8,962.2 652.2,948.9 653.3,924.4 653.9,930.0 654.8,947.2 655.5,954.5 656.5,943.1 657.0,931.8 658.2,942.4 659.2,944.9 659.9,956.8 660.9,965.3 661.6,976.1 662.6,988.0 663.3,995.2 664.1,994.9 665.2,1003.0 665.8,985.7 666.9,962.3 667.5,965.9 668.4,977.6 669.1,982.5 670.1,970.5 670.9,951.5 671.7,942.4 672.6,966.9 673.4,989.0 674.3,969.2 674.9,962.3 676.0,953.3 676.6,953.3 677.7,919.8 678.1,911.6 678.6,921.4 679.4,948.7 679.9,958.9 680.3,952.4 681.4,926.6 682.0,937.8 682.8,948.9 683.5,962.3 684.5,952.4 685.7,946.0 686.2,947.6 687.1,957.3 687.9,960.9 688.9,982.8 689.6,968.9 690.5,961.3 691.1,949.3 692.2,993.2 692.8,1012.6 693.9,1001.3 694.7,985.1 695.4,979.2 696.4,1003.2 697.6,1032.3 698.1,1022.1 699.0,1014.0 699.7,1002.0 700.7,1001.7 701.9,997.7 702.4,995.6 703.2,982.0 704.0,976.9 704.9,962.9 706.2,947.2 706.6,951.5 707.5,972.2 707.9,976.1 708.3,971.4 709.4,951.2 710.0,958.9 710.9,961.3 711.6,970.7 712.6,965.2 713.7,961.8 714.3,967.6 715.5,990.1 716.0,984.2 716.8,980.0 717.4,974.1 718.5,971.9 719.1,965.7 720.2,970.3 721.3,968.7 721.9,991.4 723.0,1020.2 723.6,1011.7 724.5,990.7 725.2,979.5 726.2,962.3 726.7,956.6 728.2,990.4 728.7,977.8 729.5,952.2 730.4,977.5 731.0,987.1 732.1,960.1 732.7,943.7 733.8,944.6 734.7,940.4 735.5,955.0 736.4,961.8 736.8,969.7 737.2,967.4 738.1,974.3 739.0,974.3 739.8,983.5 740.6,986.3 741.4,995.6 742.3,995.8 742.9,1001.1 744.0,987.7 745.0,982.2 745.7,977.8 746.8,976.2 747.4,968.6 748.5,960.2 749.1,961.2 750.1,968.2 751.2,937.6 751.7,946.7 752.5,956.7 753.1,966.0 754.2,962.0 754.7,963.4 755.1,964.3 755.9,974.6 756.5,976.2 757.6,975.4 758.1,970.8 759.5,1007.7 760.2,1008.4 761.1,1018.0 761.9,1020.4 762.7,1028.0 763.6,1016.3 764.6,1009.9 765.3,1002.2 766.2,999.2 767.0,1005.6 767.6,1014.1 768.7,989.3 769.2,983.1 770.4,992.7 770.8,1000.7 771.2,1003.3 772.1,1018.7 772.6,1022.7 773.8,1027.7 774.5,1028.1 775.5,1028.6 776.1,1025.1 777.2,1016.4 777.7,1008.6 778.9,1022.2 779.6,1024.7 780.6,1017.7 781.4,1009.0 782.3,1016.7 783.0,1016.8 784.0,1009.7 784.6,1002.0 785.7,994.5 786.9,979.0 787.4,978.1 788.2,965.3 788.8,963.5 789.9,970.7 791.1,984.6 791.6,985.9 792.7,993.6 793.3,989.4 794.5,989.0 795.0,981.0 796.1,975.2 796.7,975.9 798.0,986.9 798.4,982.4 799.3,986.1 799.8,982.0 801.0,1002.9 801.4,1007.4 802.7,1006.7 803.8,1003.0 804.4,1008.8 805.6,1013.3 806.1,1009.6 807.2,996.3 807.8,1000.8 808.6,998.5 809.5,1005.4 810.7,988.0 811.2,993.1 812.0,994.2 813.0,1002.7 813.7,999.2 814.6,999.4 815.4,1003.2 816.4,1010.7 817.1,1000.9 818.3,993.5 818.8,991.6 819.7,994.5 820.6,991.6 821.4,998.0 822.2,995.8 822.9,1000.6 823.9,990.2 824.5,990.2 825.6,983.0 826.1,984.4 827.3,975.6 827.9,976.3 829.0,978.7 829.8,984.6 830.7,984.3 831.6,990.1 832.1,988.9 833.3,996.1 834.4,997.1 835.0,997.6 835.8,990.8 836.7,990.3 837.5,989.0 838.4,993.4 839.0,990.2 840.1,999.4 841.3,1002.7 841.8,1003.4 842.9,995.2 843.5,1005.2 844.1,1009.8 845.2,1006.7 846.4,997.4 846.9,1001.5 847.7,999.7 848.7,1005.1 849.4,999.1 850.5,996.9 851.1,998.8 852.1,1007.4 852.8,998.6 853.7,994.8 854.5,996.8 855.6,1003.0 856.2,994.0 856.7,992.6 857.9,998.9 859.0,1011.0 859.6,1005.5 860.5,1005.1 861.3,999.5 862.2,1004.6 863.0,1000.3 863.7,1005.0 864.7,996.1 866.0,992.4 866.4,988.8 867.3,990.7 868.3,987.1 869.0,992.0 869.8,992.3 870.6,996.9 871.5,992.9 872.4,995.7 872.9,992.8 874.1,992.5 875.2,989.2 875.8,989.6 876.6,985.5 877.5,986.7 878.3,984.1 879.2,984.4 879.8,982.5 880.9,990.5 882.1,995.1 882.6,995.3 883.4,988.0 884.4,986.9 885.1,986.7 886.0,992.9 886.7,993.9 887.7,997.5 888.5,992.5 889.0,996.1 890.2,986.6 891.3,984.2 891.9,981.1 892.8,982.6 893.6,978.9 894.5,986.0 895.3,986.4 895.9,991.5 897.0,992.0 898.2,996.0 898.7,992.6 899.6,994.7 900.5,989.0 901.3,994.5 902.1,995.4 902.8,999.1 903.8,998.0 904.7,1003.0 905.1,1001.9 905.5,1003.7 906.4,996.8 907.4,997.3 908.1,995.7 908.9,1001.2 909.7,1000.7 910.6,999.9 911.5,993.3 912.0,993.9 913.2,982.3 914.3,977.4 914.9,974.5 915.7,981.5 916.6,978.8 917.4,978.4 918.3,970.6 918.9,970.6 920.0,963.3 920.8,965.0 921.2,960.6 921.7,957.7 922.5,947.3 923.6,940.5 924.2,936.0 925.1,937.1 925.9,934.0 926.8,935.3 927.6,930.2 928.2,932.5 929.3,923.4 930.5,919.8 931.0,918.6 931.9,923.3 932.8,922.2 933.6,921.4 934.4,914.1 935.1,913.0 936.1,917.1 937.4,929.1 937.8,929.0 938.7,940.4 939.7,944.2 940.4,950.1 941.2,951.9 942.0,959.0 942.9,956.8 943.8,964.1 944.3,961.5 945.5,960.9 946.6,954.4 947.2,953.6 948.0,941.7 948.9,938.3 949.7,923.4 950.6,914.3 951.2,901.8 952.3,899.7 953.0,895.7 954.0,890.1 954.9,878.6 955.7,890.5 956.5,895.6 957.4,909.7 958.1,916.8 959.1,911.0 959.9,901.4 960.4,900.2 961.6,927.4 962.7,954.4 963.3,945.1 964.2,940.2 965.0,927.9 965.9,935.2 966.7,934.0 967.3,940.5 968.4,946.8 968.9,953.2 970.1,946.8 971.2,945.0 971.8,935.7 972.7,930.5 973.5,917.9" fill="none" stroke="#0000ff" stroke-width="1.35" stroke-linejoin="round"/>
<path d="M90.4,717.0 91.2,717.5 92.1,720.1 92.9,718.9 93.6,721.3 94.6,719.6 95.5,720.3 96.3,717.4 96.9,717.8 98.0,715.9 98.9,717.4 100.1,715.8 100.6,716.5 101.4,713.1 102.3,715.2 103.3,711.0 104.0,711.0 104.8,705.9 105.7,708.0 106.6,702.4 107.4,701.0 108.3,695.1 109.1,702.6 109.8,706.9 110.8,698.9 111.6,685.6 112.4,681.8 113.3,689.1 114.1,698.0 115.0,693.1 115.9,695.1 116.7,686.4 117.4,688.3 118.4,683.1 119.3,685.9 120.1,681.2 120.6,682.3 121.0,681.5 121.8,686.4 122.7,683.9 123.8,689.2 124.4,686.9 125.2,691.7 126.0,690.4 126.9,695.0 127.8,693.8 128.6,699.9 129.2,699.4 130.3,704.2 131.4,703.7 132.0,702.5 132.9,693.2 133.5,692.4 134.6,693.4 135.4,699.4 136.3,699.5 136.8,703.5 138.0,693.1 138.9,688.1 139.7,685.3 140.5,687.8 141.4,682.2 142.2,682.7 143.1,679.7 143.9,682.3 144.8,679.2 145.4,680.6 146.5,677.3 147.3,679.1 148.2,675.8 148.6,676.2 149.0,674.0 149.9,674.1 150.7,670.6 151.6,670.7 152.3,668.2 153.3,669.8 154.1,669.3 155.1,671.1 155.8,669.9 156.7,670.8 157.5,669.0 158.3,669.6 159.2,668.5 160.1,669.9 160.9,668.3 161.6,668.9 162.6,668.2 163.5,669.5 164.3,667.4 164.8,668.6 166.0,669.4 166.9,672.2 168.0,672.5 168.6,673.0 169.4,670.9 170.3,671.6 171.3,670.4 172.0,670.5 172.8,667.1 173.7,668.7 174.5,665.9 175.4,667.5 176.2,666.9 177.1,669.2 177.8,668.2 178.8,669.0 179.9,666.9 180.5,668.9 181.3,668.3 182.2,672.1 183.1,672.5 183.9,673.1 184.7,670.4 185.6,671.4 186.4,669.3 187.3,672.2 188.1,670.4 189.0,674.0 189.6,673.6 190.7,676.9 191.5,675.3 192.4,679.1 192.9,677.6 194.1,679.8 194.9,677.6 196.1,679.4 196.6,676.8 197.5,677.6 198.2,674.6 199.2,674.8 200.0,671.1 200.9,674.1 201.5,671.3 202.6,676.5 203.6,676.6 204.3,677.3 205.1,673.9 206.0,676.1 206.9,673.4 207.7,674.8 208.5,671.9 209.4,672.6 210.1,671.4 211.1,673.2 211.9,672.5 212.8,675.5 213.3,674.6 214.5,676.4 215.3,674.0 216.6,676.3 217.0,676.0 217.9,679.3 218.7,678.2 219.8,681.7 220.4,678.3 221.3,679.3 222.1,674.1 223.1,674.3 223.8,671.8 224.7,674.1 225.2,670.8 226.4,677.1 227.2,674.4 228.4,680.9 228.9,677.1 229.8,680.9 230.6,678.4 231.7,679.5 232.3,675.2 233.2,674.8 233.8,671.1 234.9,676.6 236.0,676.4 236.6,678.7 237.4,676.1 238.3,678.8 239.2,677.6 240.0,678.3 240.8,673.1 241.4,674.1 242.5,672.8 243.4,673.8 244.6,672.5 245.1,674.4 245.9,670.5 246.8,672.1 247.9,668.9 248.5,673.0 249.3,669.8 250.2,675.7 251.1,674.4 251.9,674.0 252.7,666.2 253.2,665.5 254.4,661.3 255.3,663.8 256.5,658.9 257.0,662.7 257.8,662.4 258.7,670.2 259.3,671.2 260.4,676.0 261.2,671.4 261.9,675.4 262.9,667.5 264.0,665.5 264.6,665.0 265.5,672.7 266.2,673.3 267.2,672.6 268.3,665.7 268.9,670.1 269.7,667.6 270.6,671.9 271.6,672.2 272.3,673.9 273.1,672.8 274.0,676.0 274.8,674.7 275.7,674.4 276.5,671.2 277.4,672.3 278.1,670.4 279.1,671.8 279.9,670.5 280.8,673.2 281.3,672.4 282.5,672.7 283.3,669.3 284.5,669.7 285.0,668.8 285.9,671.1 286.7,668.6 287.8,670.9 288.4,668.4 289.3,669.4 290.1,665.0 291.0,665.4 291.8,663.4 292.7,665.4 293.2,663.8 294.4,667.8 295.2,664.8 296.4,668.6 296.9,667.8 297.8,672.0 298.5,670.3 299.5,669.4 300.7,664.7 301.2,668.6 302.0,666.6 302.9,672.0 303.7,669.7 304.6,671.9 305.0,670.2 305.4,671.7 306.3,666.0 307.1,667.4 308.2,662.5 308.8,665.6 309.7,664.0 310.5,668.3 311.5,667.9 312.2,670.1 313.1,668.4 313.9,671.2 314.7,670.2 315.6,672.2 316.5,669.1 317.3,673.5 317.9,672.0 319.0,671.6 320.1,665.4 320.7,670.3 321.6,669.2 322.3,675.1 323.3,676.3 324.1,682.3 324.8,681.7 325.8,679.7 326.7,670.4 327.6,668.9 328.4,666.5 329.2,668.0 329.8,665.8 330.9,673.2 332.0,676.2 332.6,680.8 333.5,677.9 334.1,683.2 335.2,680.1 336.0,685.0 336.9,684.3 337.7,682.6 338.6,673.6 339.1,673.2 340.3,672.3 341.1,679.4 341.7,677.4 342.8,679.5 343.7,674.0 344.9,675.3 345.4,671.5 346.2,675.2 347.1,667.6 348.1,669.0 348.8,668.5 349.6,673.5 350.7,674.2 351.3,675.0 352.2,667.2 353.0,669.1 353.5,665.4 354.7,672.9 355.6,671.4 356.8,676.2 357.3,671.7 358.1,674.0 359.0,667.9 360.0,666.9 360.7,666.9 361.5,676.0 362.4,676.3 363.2,683.1 364.1,676.1 364.9,675.5 365.8,667.8 366.6,671.2 367.5,669.0 368.6,674.2 369.2,671.5 370.0,674.3 370.9,670.8 371.9,672.2 372.6,671.2 373.4,675.4 374.3,671.6 375.1,675.5 376.0,671.9 376.8,673.3 377.3,671.0 377.7,671.0 378.5,663.8 379.4,664.6 379.8,661.2 381.1,673.2 382.0,677.6 382.8,677.7 383.6,672.6 384.8,671.1 385.3,670.2 386.2,677.3 387.0,675.9 388.0,682.0 388.7,680.4 389.6,686.5 390.4,683.8 391.3,686.5 392.1,681.5 393.0,682.4 393.9,678.6 394.7,677.9 395.5,670.8 396.7,671.2 397.2,670.2 398.1,678.0 398.8,677.4 399.8,675.7 400.6,665.9 401.6,664.3 402.3,664.7 403.2,671.6 404.2,674.4 404.9,676.0 405.7,670.0 406.8,670.7 407.4,669.1 408.3,673.7 409.1,671.5 409.6,672.9 410.8,670.1 411.7,672.4 412.9,669.2 413.4,670.6 414.2,667.1 415.1,669.5 416.1,665.6 416.8,669.3 417.6,668.9 418.7,673.3 419.3,671.4 420.2,678.4 421.0,677.1 421.5,679.5 421.9,675.1 422.7,673.8 423.6,668.1 424.4,674.0 425.3,674.7 426.2,680.9 427.0,675.1 427.8,676.3 429.0,667.9 429.5,674.2 430.8,681.7 431.2,681.7 432.1,671.9 432.9,670.0 433.3,665.9 433.8,670.8 434.6,668.9 435.5,674.5 436.3,668.6 437.2,668.5 437.7,663.4 438.9,665.0 439.8,660.4 440.6,666.5 441.4,666.2 442.0,670.2 443.1,661.7 444.1,658.1 444.8,654.1 445.7,658.6 446.3,655.9 447.4,664.7 448.4,667.8 449.1,669.9 449.9,664.7 450.8,666.2 451.7,663.5 452.5,668.3 453.3,664.3 454.3,669.1 455.0,669.5 455.9,674.9 457.1,676.3 457.6,676.7 458.4,672.0 459.2,671.8 460.1,672.9 461.0,679.4 461.8,678.0 462.5,681.6 463.5,676.1 464.4,677.4 465.1,672.1 466.1,674.3 466.9,668.3 467.9,671.0 468.6,666.1 469.5,667.8 470.7,661.7 471.2,663.4 472.0,659.6 472.8,661.8 473.7,661.6 474.6,669.0 475.4,667.6 476.3,671.0 477.1,668.4 478.0,672.6 478.6,670.2 479.7,676.1 480.5,674.2 481.4,679.9 482.2,673.5 483.1,673.7 484.0,668.1 484.8,670.7 485.6,665.3 486.5,669.8 487.3,665.5 488.2,669.6 489.0,665.9 490.1,670.8 490.7,666.4 491.6,670.5 492.4,664.6 493.3,666.0 493.7,662.3 494.1,667.7 495.0,667.7 495.9,676.3 496.7,675.9 497.5,682.1 498.1,681.6 499.2,678.2 500.1,668.7 501.3,664.7 501.8,664.0 502.6,673.5 503.4,676.5 504.3,677.9 505.2,672.1 506.0,674.7 506.7,670.9 507.7,675.2 508.6,674.5 509.5,678.4 510.3,677.5 511.1,681.8 511.6,679.6 512.8,675.9 513.8,668.9 514.5,673.2 515.4,670.8 516.0,675.1 517.1,675.8 517.9,683.7 518.5,681.7 519.6,677.8 520.7,667.8 521.3,668.8 522.2,663.2 522.9,665.4 523.9,661.9 525.0,664.5 525.6,666.4 526.4,677.7 527.2,681.6 528.1,678.6 529.3,668.1 529.8,671.7 530.7,671.8 531.5,676.2 532.4,670.9 533.6,668.7 534.1,666.8 534.9,673.7 535.8,674.3 536.6,674.8 537.5,670.4 537.9,672.1 538.3,672.2 539.2,677.3 540.0,676.4 540.5,681.9 541.7,674.7 542.7,675.4 543.4,674.0 544.3,679.9 544.8,679.8 546.0,680.7 546.8,674.9 547.6,676.3 548.5,670.3 549.4,669.0 550.5,660.7 551.1,668.9 551.9,670.2 552.6,678.9 553.6,671.5 554.5,674.5 555.2,668.7 556.2,671.9 557.4,670.8 557.9,672.5 558.7,667.7 559.5,667.6 560.4,665.3 561.7,670.2 562.1,663.4 563.0,663.5 563.8,654.2 564.7,665.4 565.5,670.6 566.0,676.2 566.4,670.9 567.2,670.3 568.1,662.6 568.9,671.9 569.9,678.8 570.6,676.3 571.5,666.3 572.0,666.8 573.2,666.0 574.2,668.8 574.9,664.4 575.7,667.9 576.8,662.6 577.4,669.6 578.3,669.9 578.9,676.7 580.0,669.8 581.1,666.8 581.7,666.0 582.5,674.2 583.2,673.1 584.2,670.8 585.4,660.2 585.9,664.0 586.8,662.6 587.6,667.7 588.5,666.5 589.7,673.0 590.2,674.0 591.4,682.9 591.9,678.5 592.7,677.5 593.6,670.1 594.0,669.7 594.4,666.2 595.3,670.4 596.2,666.6 597.0,673.9 597.8,672.7 598.3,678.3 599.5,668.5 600.4,668.4 600.9,663.6 602.1,671.5 603.1,672.0 603.8,673.8 604.6,666.7 605.2,669.0 606.3,670.0 607.0,676.6 608.0,658.2 608.7,652.9 609.7,663.4 610.2,673.4 611.4,666.2 612.4,666.8 613.1,666.8 614.0,673.0 614.5,671.2 615.7,672.1 616.7,668.0 617.4,674.7 618.2,676.8 618.8,683.0 619.9,674.6 621.0,673.2 621.6,673.2 622.5,679.0 623.1,677.5 624.2,684.2 625.0,683.2 625.9,688.3 626.7,680.3 627.6,677.6 628.1,671.3 629.3,682.9 630.3,688.4 631.0,686.9 631.8,677.2 632.4,675.4 633.5,665.2 634.6,662.3 635.2,664.1 636.1,674.2 636.7,674.6 637.8,672.2 638.9,665.6 639.5,667.0 640.3,663.0 641.5,665.5 642.0,662.9 642.9,670.2 643.7,666.9 644.7,669.7 645.4,669.8 646.3,676.6 647.5,679.9 648.0,678.4 648.8,670.5 649.7,669.5 650.1,663.4 650.5,668.8 651.4,673.6 652.3,683.1 653.1,669.6 654.0,661.4 654.8,663.8 655.6,675.1 656.1,675.6 657.3,671.8 658.3,664.8 659.0,670.2 659.9,667.4 660.5,672.2 661.6,664.2 662.6,663.6 663.3,666.2 664.1,675.5 664.8,678.6 665.8,677.6 666.7,670.1 667.4,669.1 668.4,672.7 669.1,679.6 670.1,672.3 670.9,673.8 671.7,666.6 672.6,677.1 673.8,681.7 674.3,680.1 675.2,670.4 676.0,669.0 676.9,671.3 677.7,678.3 678.6,680.7 679.4,675.6 680.3,664.0 680.7,663.7 681.1,663.2 682.0,674.2 682.9,676.7 683.7,673.4 684.5,664.0 685.1,662.2 686.2,665.9 687.2,675.1 687.9,666.7 688.8,665.0 689.4,657.1 690.5,665.3 691.5,668.8 692.2,667.4 693.0,657.0 693.7,655.4 694.7,659.6 695.8,671.0 696.4,661.6 697.3,657.3 698.0,645.8 699.0,657.2 700.2,665.5 700.7,667.1 701.5,659.9 702.3,661.3 703.2,664.2 704.5,675.4 704.9,671.7 705.8,671.2 706.6,666.9 707.5,674.0 708.3,674.0 708.8,678.6 709.2,673.8 710.0,675.5 710.9,667.9 711.7,672.9 712.6,671.2 713.7,676.5 714.3,673.3 715.1,673.8 716.0,668.1 716.5,669.1 717.7,664.0 718.5,663.9 719.1,660.4 720.2,667.0 721.3,670.1 721.9,669.0 722.8,658.8 723.4,657.2 724.5,660.1 725.6,667.5 726.2,663.3 727.0,664.9 727.8,661.2 728.7,669.4 729.9,673.3 730.4,674.8 731.3,668.0 732.1,669.0 733.0,667.6 734.2,671.1 734.7,666.9 735.5,666.6 736.4,661.1 737.2,665.2 738.1,663.5 738.5,666.5 739.8,660.9 740.6,661.5 741.4,656.8 742.3,666.0 743.3,667.7 744.0,669.4 745.0,665.2 745.7,665.1 746.8,660.8 747.4,665.6 748.3,665.4 749.1,670.8 750.0,666.4 750.8,670.8 751.5,666.5 752.5,670.3 753.4,668.7 754.2,673.2 755.1,671.2 755.9,672.7 756.5,670.3 757.6,677.9 758.8,681.6 759.3,682.1 760.2,678.7 761.1,679.2 761.9,677.7 762.7,684.4 763.9,684.1 764.4,685.6 765.3,677.7 766.2,679.1 767.0,682.4 767.8,691.9 768.7,694.2 769.5,686.3 770.4,674.0 770.8,670.9 771.2,668.9 772.1,676.4 772.6,674.4 773.8,671.9 775.0,665.4 775.5,666.1 776.3,657.8 777.3,657.5 778.0,652.5 778.9,652.5 779.6,648.9 780.6,656.1 781.4,656.0 781.9,659.6 782.3,658.1 783.1,663.7 784.2,661.9 784.8,666.8 785.7,666.1 786.5,669.7 787.4,666.3 788.2,667.9 789.2,664.5 789.9,667.1 791.1,668.0 791.6,668.1 792.5,663.5 793.3,665.3 793.8,662.1 795.0,668.8 796.1,670.0 796.7,672.2 797.6,666.4 798.5,667.7 799.3,667.4 800.3,674.5 801.0,671.7 801.8,676.4 802.6,674.8 803.5,675.1 804.4,667.6 805.4,667.6 806.1,666.1 806.9,672.9 807.7,671.2 808.6,673.1 809.5,668.7 810.7,668.9 811.2,665.6 812.0,669.1 812.9,664.5 813.7,666.3 814.6,667.4 815.4,671.9 816.0,672.7 817.1,672.9 818.0,670.1 818.7,671.0 819.7,669.1 820.5,672.1 821.4,670.4 822.2,671.9 823.1,671.1 823.9,675.1 824.8,673.6 825.6,675.4 826.5,673.4 827.3,675.2 828.4,672.6 829.0,672.2 830.2,666.8 830.7,669.9 831.6,670.5 832.5,675.4 833.3,673.0 834.1,674.8 835.3,672.5 835.8,675.4 836.7,673.6 837.5,676.5 838.3,675.9 839.2,675.3 840.1,671.1 840.6,671.9 841.8,672.2 842.9,675.5 843.5,671.9 844.3,673.7 845.2,668.9 846.0,671.5 846.9,670.7 847.5,673.5 848.6,670.8 849.8,671.1 850.3,666.6 851.4,666.2 852.0,665.6 852.8,674.7 853.7,676.1 854.5,676.2 855.4,672.8 856.0,673.2 857.1,673.9 857.9,678.0 858.4,676.8 858.8,679.0 859.6,671.2 860.7,671.0 861.3,668.1 862.2,673.2 863.0,668.4 863.9,671.7 864.3,670.3 865.6,676.6 866.4,676.9 867.1,681.7 868.1,674.8 869.0,676.6 869.4,672.4 869.8,676.1 870.7,673.1 871.5,679.0 872.2,676.9 873.2,679.0 874.1,676.6 875.2,678.9 875.8,676.5 876.6,678.9 877.5,675.2 878.2,676.6 879.2,675.5 880.0,677.7 880.9,677.2 881.7,679.3 882.6,676.9 883.7,680.1 884.3,677.2 885.1,679.3 886.0,677.1 886.8,675.5 887.8,669.8 888.5,673.9 889.4,675.1 890.1,679.0 891.1,675.1 891.9,676.9 892.5,674.9 893.6,676.4 894.5,674.3 895.2,676.7 896.2,676.1 897.0,678.3 898.2,677.2 898.7,678.9 899.6,677.5 900.5,680.1 901.3,677.6 902.1,679.0 902.8,677.3 903.8,681.9 904.7,680.8 905.8,684.9 906.4,681.5 907.2,683.5 908.1,677.9 908.6,679.3 909.8,675.9 910.6,680.2 911.3,677.3 912.3,683.1 913.2,684.2 914.0,687.6 914.9,686.5 915.5,690.6 916.6,691.2 917.8,697.4 918.3,695.2 919.1,699.8 920.0,697.2 920.6,699.5 921.7,703.8 922.9,710.2 923.4,707.6 924.2,709.3 925.1,704.9 925.9,705.4 926.8,705.2 927.6,709.6 928.9,708.3 929.3,709.1 930.2,706.5 931.2,707.8 931.9,707.6 932.7,712.2 933.9,714.0 934.4,713.6 935.3,708.7 936.2,706.8 937.0,705.3 937.8,710.4 938.5,708.1 939.5,710.2 940.4,704.3 940.8,705.5 941.2,704.0 942.1,711.3 942.9,710.9 943.6,714.8 944.6,708.2 945.5,708.7 945.9,704.9 946.3,708.2 947.2,704.5 948.0,710.1 948.9,708.1 949.7,708.0 950.6,703.6 951.7,703.3 952.3,701.5 953.1,704.6 954.2,703.5 954.8,705.0 955.7,701.0 956.5,701.9 957.4,702.0 958.2,706.0 959.3,705.8 959.9,710.3 960.8,710.4 961.6,715.0 962.5,711.4 963.3,712.3 963.9,709.5 965.0,712.9 966.2,712.8 966.7,714.6 967.6,710.8 968.4,713.2 968.9,711.5 970.1,710.4 971.2,705.8 971.8,707.6 972.7,701.8 973.5,703.4" fill="none" stroke="#000000" stroke-width="1.35" stroke-linejoin="round"/>
</g>
<rect x="90.0" y="47.0" width="885.0" height="470.0" fill="none" stroke="#000" stroke-width="2"/>
<rect x="90.0" y="637.0" width="885.0" height="469.0" fill="none" stroke="#000" stroke-width="2"/>
<path d="M90.0,450h-7.6M90.0,366h-7.6M90.0,282h-7.6M90.0,198h-7.6M90.0,114h-7.6M90,517.0v7.6M531.2,517.0v7.6M975,517.0v7.6M90.0,1078h-7.6M90.0,1019h-7.6M90.0,960h-7.6M90.0,901h-7.6M90.0,842h-7.6M90.0,783h-7.6M90.0,724h-7.6M90.0,666h-7.6M90.0,1106.0v7.6M532.5,1106.0v7.6M975.0,1106.0v7.6" stroke="#000" stroke-width="2" fill="none"/>
<path d="M90.0,517.5h-4.3M90.0,500.5h-4.3M90.0,483.5h-4.3M90.0,466.5h-4.3M90.0,433.5h-4.3M90.0,416.5h-4.3M90.0,399.5h-4.3M90.0,382.5h-4.3M90.0,349.5h-4.3M90.0,332.5h-4.3M90.0,315.5h-4.3M90.0,298.5h-4.3M90.0,265.5h-4.3M90.0,248.5h-4.3M90.0,231.5h-4.3M90.0,214.5h-4.3M90.0,181.5h-4.3M90.0,164.5h-4.3M90.0,147.5h-4.3M90.0,130.5h-4.3M90.0,97.5h-4.3M90.0,80.5h-4.3M90.0,63.5h-4.3M90.0,46.5h-4.3M163.5,517.0v4.3M236.5,517.0v4.3M310.5,517.0v4.3M384.5,517.0v4.3M457.5,517.0v4.3M604.5,517.0v4.3M678.5,517.0v4.3M752.5,517.0v4.3M825.5,517.0v4.3M899.5,517.0v4.3M972.5,517.0v4.3M90.0,1101.5h-4.3M90.0,1089.5h-4.3M90.0,1065.5h-4.3M90.0,1053.5h-4.3M90.0,1042.5h-4.3M90.0,1030.5h-4.3M90.0,1006.5h-4.3M90.0,995.5h-4.3M90.0,983.5h-4.3M90.0,971.5h-4.3M90.0,948.5h-4.3M90.0,936.5h-4.3M90.0,924.5h-4.3M90.0,912.5h-4.3M90.0,889.5h-4.3M90.0,877.5h-4.3M90.0,865.5h-4.3M90.0,853.5h-4.3M90.0,830.5h-4.3M90.0,818.5h-4.3M90.0,806.5h-4.3M90.0,795.5h-4.3M90.0,771.5h-4.3M90.0,759.5h-4.3M90.0,747.5h-4.3M90.0,736.5h-4.3M90.0,712.5h-4.3M90.0,700.5h-4.3M90.0,689.5h-4.3M90.0,677.5h-4.3M90.0,653.5h-4.3M90.0,641.5h-4.3M178.5,1106.0v4.3M266.5,1106.0v4.3M355.5,1106.0v4.3M444.5,1106.0v4.3M620.5,1106.0v4.3M709.5,1106.0v4.3M798.5,1106.0v4.3M886.5,1106.0v4.3" stroke="#000" stroke-width="1.1" fill="none"/>
<text transform="translate(134.5,20.3) scale(1,1.045)" style="fill:#ff0000;stroke:#ff0000">B<tspan dy="5.5" style="font-size:18px;stroke-width:0.4px">x</tspan></text>
<text transform="translate(234.5,20.3) scale(1,1.045)" style="fill:#008000;stroke:#008000">B<tspan dy="5.5" style="font-size:18px;stroke-width:0.4px">y</tspan></text>
<text transform="translate(334.5,20.3) scale(1,1.045)" style="fill:#0000ff;stroke:#0000ff">B<tspan dy="5.5" style="font-size:18px;stroke-width:0.4px">z</tspan></text>
<text transform="translate(435.5,20.3) scale(1,1.045)" ><tspan dy="-1.6">|</tspan><tspan dy="1.6">B</tspan><tspan dy="-1.6">|</tspan></text>
<text transform="translate(1.6,95.5) scale(1,1.045)" style="font-size:26.6px">(a)</text>
<text transform="translate(1.6,685.5) scale(1,1.045)" style="font-size:26.6px">(b)</text>
<text transform="translate(75.3,124.0) scale(1,1.045)" text-anchor="end">10</text>
<text transform="translate(75.3,208.0) scale(1,1.045)" text-anchor="end">5</text>
<text transform="translate(75.3,291.9) scale(1,1.045)" text-anchor="end">0</text>
<text transform="translate(75.3,375.8) scale(1,1.045)" text-anchor="end"><tspan textLength="17.2" lengthAdjust="spacingAndGlyphs">−</tspan>5</text>
<text transform="translate(75.3,459.8) scale(1,1.045)" text-anchor="end"><tspan textLength="17.2" lengthAdjust="spacingAndGlyphs">−</tspan>10</text>
<text transform="translate(75.3,675.4) scale(1,1.045)" text-anchor="end">8</text>
<text transform="translate(75.3,734.3) scale(1,1.045)" text-anchor="end">6</text>
<text transform="translate(75.3,793.1) scale(1,1.045)" text-anchor="end">4</text>
<text transform="translate(75.3,852.0) scale(1,1.045)" text-anchor="end">2</text>
<text transform="translate(75.3,910.9) scale(1,1.045)" text-anchor="end">0</text>
<text transform="translate(75.3,969.7) scale(1,1.045)" text-anchor="end"><tspan textLength="17.2" lengthAdjust="spacingAndGlyphs">−</tspan>2</text>
<text transform="translate(75.3,1028.6) scale(1,1.045)" text-anchor="end"><tspan textLength="17.2" lengthAdjust="spacingAndGlyphs">−</tspan>4</text>
<text transform="translate(75.3,1087.4) scale(1,1.045)" text-anchor="end"><tspan textLength="17.2" lengthAdjust="spacingAndGlyphs">−</tspan>6</text>
<text transform="translate(90,550.3) scale(1,1.045)" text-anchor="middle">12:00:00</text>
<text transform="translate(531.8,550.3) scale(1,1.045)" text-anchor="middle">18:00:00</text>
<text transform="translate(975.3,550.3) scale(1,1.045)" text-anchor="middle">00:00:00</text>
<text transform="translate(90,1140.3) scale(1,1.045)" text-anchor="middle">22:18:00</text>
<text transform="translate(532.6,1140.3) scale(1,1.045)" text-anchor="middle">22:23:00</text>
<text transform="translate(975.3,1140.3) scale(1,1.045)" text-anchor="middle">22:28:00</text>
<text transform="translate(532.6,1171) scale(1,1.045)" text-anchor="middle">Time</text>
<text transform="translate(17.9,282.6) rotate(-90) scale(1,1.045)" text-anchor="middle">B (nT)</text>
<text transform="translate(31.6,872.7) rotate(-90)" text-anchor="middle" style="font-family:'DejaVu Sans','Liberation Sans',sans-serif;font-style:italic;font-size:25.5px">B <tspan style="font-style:normal">(</tspan>nT<tspan style="font-style:normal">)</tspan></text>
<rect x="102.5" y="588.2" width="73.2" height="21.2" fill="#90ee90"/>
<text transform="translate(186.5,608) scale(1,1.045)" >Coherent</text>
<rect x="321.5" y="588.2" width="73.2" height="21.2" fill="#e3fbe3"/>
<text transform="translate(405.5,608) scale(1,1.045)" >Complex</text>
<rect x="540.5" y="588.2" width="73.2" height="21.2" fill="#e6e6e6"/>
<text transform="translate(624.5,608) scale(1,1.045)" >Nonwave</text>
</svg></body></html>
